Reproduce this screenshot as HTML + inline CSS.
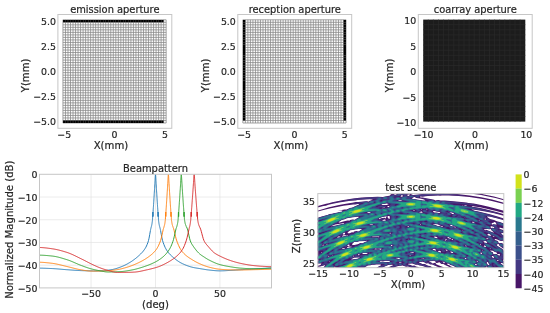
<!DOCTYPE html>
<html lang="en"><head><meta charset="utf-8"><title>apertures</title>
<style>html,body{margin:0;padding:0;background:#fff;overflow:hidden}svg{display:block}text{font-family:"DejaVu Sans","Liberation Sans",sans-serif;fill:#262626;stroke:#262626;stroke-width:0.2px}.t{font-size:9.4px}.l{font-size:10.1px}.h{font-size:9.9px}.m{text-anchor:middle}.e{text-anchor:end}</style></head><body>
<svg width="550" height="313" viewBox="0 0 550 313">
<rect width="550" height="313" fill="#fff"/>
<rect x="57.9" y="14.5" width="113.9" height="113.8" fill="none" stroke="#c6c6c6" stroke-width="1.0"/>
<text class="h m" x="114.85" y="12.5">emission aperture</text>
<text class="l m" x="110.95" y="148.8">X(mm)</text>
<text class="l m" transform="translate(29.3 75.4) rotate(-90)">Y(mm)</text>
<text class="t e" x="55.9" y="24.78">5.0</text>
<text class="t e" x="55.9" y="49.96">2.5</text>
<text class="t e" x="55.9" y="75.13">0.0</text>
<text class="t e" x="55.9" y="100.31">−2.5</text>
<text class="t e" x="55.9" y="125.48">−5.0</text>
<text class="t m" x="64.2" y="138">−5</text>
<text class="t m" x="114.55" y="138">0</text>
<text class="t m" x="164.9" y="138">5</text>
<rect x="62.95" y="19.8" width="103.2" height="103.2" fill="#fff"/>
<path d="M62.95 19.8V123M62.95 19.8H166.15M65.47 19.8V123M62.95 22.32H166.15M67.99 19.8V123M62.95 24.84H166.15M70.5 19.8V123M62.95 27.35H166.15M73.02 19.8V123M62.95 29.87H166.15M75.54 19.8V123M62.95 32.39H166.15M78.05 19.8V123M62.95 34.9H166.15M80.57 19.8V123M62.95 37.42H166.15M83.09 19.8V123M62.95 39.94H166.15M85.6 19.8V123M62.95 42.45H166.15M88.12 19.8V123M62.95 44.97H166.15M90.64 19.8V123M62.95 47.49H166.15M93.16 19.8V123M62.95 50.01H166.15M95.67 19.8V123M62.95 52.52H166.15M98.19 19.8V123M62.95 55.04H166.15M100.71 19.8V123M62.95 57.56H166.15M103.22 19.8V123M62.95 60.07H166.15M105.74 19.8V123M62.95 62.59H166.15M108.26 19.8V123M62.95 65.11H166.15M110.77 19.8V123M62.95 67.62H166.15M113.29 19.8V123M62.95 70.14H166.15M115.81 19.8V123M62.95 72.66H166.15M118.33 19.8V123M62.95 75.18H166.15M120.84 19.8V123M62.95 77.69H166.15M123.36 19.8V123M62.95 80.21H166.15M125.88 19.8V123M62.95 82.73H166.15M128.39 19.8V123M62.95 85.24H166.15M130.91 19.8V123M62.95 87.76H166.15M133.43 19.8V123M62.95 90.28H166.15M135.94 19.8V123M62.95 92.79H166.15M138.46 19.8V123M62.95 95.31H166.15M140.98 19.8V123M62.95 97.83H166.15M143.5 19.8V123M62.95 100.35H166.15M146.01 19.8V123M62.95 102.86H166.15M148.53 19.8V123M62.95 105.38H166.15M151.05 19.8V123M62.95 107.9H166.15M153.56 19.8V123M62.95 110.41H166.15M156.08 19.8V123M62.95 112.93H166.15M158.6 19.8V123M62.95 115.45H166.15M161.11 19.8V123M62.95 117.96H166.15M163.63 19.8V123M62.95 120.48H166.15M166.15 19.8V123M62.95 123H166.15" stroke="#8a8a8a" stroke-width="0.8" fill="none"/>
<path d="M63.05 19.9h2.32v2.32h-2.32zM65.57 19.9h2.32v2.32h-2.32zM68.09 19.9h2.32v2.32h-2.32zM70.6 19.9h2.32v2.32h-2.32zM73.12 19.9h2.32v2.32h-2.32zM75.64 19.9h2.32v2.32h-2.32zM78.15 19.9h2.32v2.32h-2.32zM80.67 19.9h2.32v2.32h-2.32zM83.19 19.9h2.32v2.32h-2.32zM85.7 19.9h2.32v2.32h-2.32zM88.22 19.9h2.32v2.32h-2.32zM90.74 19.9h2.32v2.32h-2.32zM93.26 19.9h2.32v2.32h-2.32zM95.77 19.9h2.32v2.32h-2.32zM98.29 19.9h2.32v2.32h-2.32zM100.81 19.9h2.32v2.32h-2.32zM103.32 19.9h2.32v2.32h-2.32zM105.84 19.9h2.32v2.32h-2.32zM108.36 19.9h2.32v2.32h-2.32zM110.87 19.9h2.32v2.32h-2.32zM113.39 19.9h2.32v2.32h-2.32zM115.91 19.9h2.32v2.32h-2.32zM118.43 19.9h2.32v2.32h-2.32zM120.94 19.9h2.32v2.32h-2.32zM123.46 19.9h2.32v2.32h-2.32zM125.98 19.9h2.32v2.32h-2.32zM128.49 19.9h2.32v2.32h-2.32zM131.01 19.9h2.32v2.32h-2.32zM133.53 19.9h2.32v2.32h-2.32zM136.04 19.9h2.32v2.32h-2.32zM138.56 19.9h2.32v2.32h-2.32zM141.08 19.9h2.32v2.32h-2.32zM143.6 19.9h2.32v2.32h-2.32zM146.11 19.9h2.32v2.32h-2.32zM148.63 19.9h2.32v2.32h-2.32zM151.15 19.9h2.32v2.32h-2.32zM153.66 19.9h2.32v2.32h-2.32zM156.18 19.9h2.32v2.32h-2.32zM158.7 19.9h2.32v2.32h-2.32zM161.21 19.9h2.32v2.32h-2.32zM63.05 120.58h2.32v2.32h-2.32zM65.57 120.58h2.32v2.32h-2.32zM68.09 120.58h2.32v2.32h-2.32zM70.6 120.58h2.32v2.32h-2.32zM73.12 120.58h2.32v2.32h-2.32zM75.64 120.58h2.32v2.32h-2.32zM78.15 120.58h2.32v2.32h-2.32zM80.67 120.58h2.32v2.32h-2.32zM83.19 120.58h2.32v2.32h-2.32zM85.7 120.58h2.32v2.32h-2.32zM88.22 120.58h2.32v2.32h-2.32zM90.74 120.58h2.32v2.32h-2.32zM93.26 120.58h2.32v2.32h-2.32zM95.77 120.58h2.32v2.32h-2.32zM98.29 120.58h2.32v2.32h-2.32zM100.81 120.58h2.32v2.32h-2.32zM103.32 120.58h2.32v2.32h-2.32zM105.84 120.58h2.32v2.32h-2.32zM108.36 120.58h2.32v2.32h-2.32zM110.87 120.58h2.32v2.32h-2.32zM113.39 120.58h2.32v2.32h-2.32zM115.91 120.58h2.32v2.32h-2.32zM118.43 120.58h2.32v2.32h-2.32zM120.94 120.58h2.32v2.32h-2.32zM123.46 120.58h2.32v2.32h-2.32zM125.98 120.58h2.32v2.32h-2.32zM128.49 120.58h2.32v2.32h-2.32zM131.01 120.58h2.32v2.32h-2.32zM133.53 120.58h2.32v2.32h-2.32zM136.04 120.58h2.32v2.32h-2.32zM138.56 120.58h2.32v2.32h-2.32zM141.08 120.58h2.32v2.32h-2.32zM143.6 120.58h2.32v2.32h-2.32zM146.11 120.58h2.32v2.32h-2.32zM148.63 120.58h2.32v2.32h-2.32zM151.15 120.58h2.32v2.32h-2.32zM153.66 120.58h2.32v2.32h-2.32zM156.18 120.58h2.32v2.32h-2.32zM158.7 120.58h2.32v2.32h-2.32zM161.21 120.58h2.32v2.32h-2.32z" fill="#000"/>
<rect x="237.8" y="14.5" width="113.9" height="113.8" fill="none" stroke="#c6c6c6" stroke-width="1.0"/>
<text class="h m" x="294.75" y="12.5">reception aperture</text>
<text class="l m" x="290.85" y="148.8">X(mm)</text>
<text class="l m" transform="translate(209.2 75.4) rotate(-90)">Y(mm)</text>
<text class="t e" x="235.8" y="24.78">5.0</text>
<text class="t e" x="235.8" y="49.96">2.5</text>
<text class="t e" x="235.8" y="75.13">0.0</text>
<text class="t e" x="235.8" y="100.31">−2.5</text>
<text class="t e" x="235.8" y="125.48">−5.0</text>
<text class="t m" x="244.1" y="138">−5</text>
<text class="t m" x="294.45" y="138">0</text>
<text class="t m" x="344.8" y="138">5</text>
<rect x="242.85" y="19.8" width="103.2" height="103.2" fill="#fff"/>
<path d="M242.85 19.8V123M242.85 19.8H346.05M245.37 19.8V123M242.85 22.32H346.05M247.89 19.8V123M242.85 24.84H346.05M250.4 19.8V123M242.85 27.35H346.05M252.92 19.8V123M242.85 29.87H346.05M255.44 19.8V123M242.85 32.39H346.05M257.95 19.8V123M242.85 34.9H346.05M260.47 19.8V123M242.85 37.42H346.05M262.99 19.8V123M242.85 39.94H346.05M265.5 19.8V123M242.85 42.45H346.05M268.02 19.8V123M242.85 44.97H346.05M270.54 19.8V123M242.85 47.49H346.05M273.06 19.8V123M242.85 50.01H346.05M275.57 19.8V123M242.85 52.52H346.05M278.09 19.8V123M242.85 55.04H346.05M280.61 19.8V123M242.85 57.56H346.05M283.12 19.8V123M242.85 60.07H346.05M285.64 19.8V123M242.85 62.59H346.05M288.16 19.8V123M242.85 65.11H346.05M290.67 19.8V123M242.85 67.62H346.05M293.19 19.8V123M242.85 70.14H346.05M295.71 19.8V123M242.85 72.66H346.05M298.23 19.8V123M242.85 75.18H346.05M300.74 19.8V123M242.85 77.69H346.05M303.26 19.8V123M242.85 80.21H346.05M305.78 19.8V123M242.85 82.73H346.05M308.29 19.8V123M242.85 85.24H346.05M310.81 19.8V123M242.85 87.76H346.05M313.33 19.8V123M242.85 90.28H346.05M315.84 19.8V123M242.85 92.79H346.05M318.36 19.8V123M242.85 95.31H346.05M320.88 19.8V123M242.85 97.83H346.05M323.4 19.8V123M242.85 100.35H346.05M325.91 19.8V123M242.85 102.86H346.05M328.43 19.8V123M242.85 105.38H346.05M330.95 19.8V123M242.85 107.9H346.05M333.46 19.8V123M242.85 110.41H346.05M335.98 19.8V123M242.85 112.93H346.05M338.5 19.8V123M242.85 115.45H346.05M341.01 19.8V123M242.85 117.96H346.05M343.53 19.8V123M242.85 120.48H346.05M346.05 19.8V123M242.85 123H346.05" stroke="#8a8a8a" stroke-width="0.8" fill="none"/>
<path d="M242.95 19.9h2.32v2.32h-2.32zM242.95 22.42h2.32v2.32h-2.32zM242.95 24.94h2.32v2.32h-2.32zM242.95 27.45h2.32v2.32h-2.32zM242.95 29.97h2.32v2.32h-2.32zM242.95 32.49h2.32v2.32h-2.32zM242.95 35h2.32v2.32h-2.32zM242.95 37.52h2.32v2.32h-2.32zM242.95 40.04h2.32v2.32h-2.32zM242.95 42.55h2.32v2.32h-2.32zM242.95 45.07h2.32v2.32h-2.32zM242.95 47.59h2.32v2.32h-2.32zM242.95 50.11h2.32v2.32h-2.32zM242.95 52.62h2.32v2.32h-2.32zM242.95 55.14h2.32v2.32h-2.32zM242.95 57.66h2.32v2.32h-2.32zM242.95 60.17h2.32v2.32h-2.32zM242.95 62.69h2.32v2.32h-2.32zM242.95 65.21h2.32v2.32h-2.32zM242.95 67.72h2.32v2.32h-2.32zM242.95 70.24h2.32v2.32h-2.32zM242.95 72.76h2.32v2.32h-2.32zM242.95 75.28h2.32v2.32h-2.32zM242.95 77.79h2.32v2.32h-2.32zM242.95 80.31h2.32v2.32h-2.32zM242.95 82.83h2.32v2.32h-2.32zM242.95 85.34h2.32v2.32h-2.32zM242.95 87.86h2.32v2.32h-2.32zM242.95 90.38h2.32v2.32h-2.32zM242.95 92.89h2.32v2.32h-2.32zM242.95 95.41h2.32v2.32h-2.32zM242.95 97.93h2.32v2.32h-2.32zM242.95 100.45h2.32v2.32h-2.32zM242.95 102.96h2.32v2.32h-2.32zM242.95 105.48h2.32v2.32h-2.32zM242.95 108h2.32v2.32h-2.32zM242.95 110.51h2.32v2.32h-2.32zM242.95 113.03h2.32v2.32h-2.32zM242.95 115.55h2.32v2.32h-2.32zM242.95 118.06h2.32v2.32h-2.32zM343.63 19.9h2.32v2.32h-2.32zM343.63 22.42h2.32v2.32h-2.32zM343.63 24.94h2.32v2.32h-2.32zM343.63 27.45h2.32v2.32h-2.32zM343.63 29.97h2.32v2.32h-2.32zM343.63 32.49h2.32v2.32h-2.32zM343.63 35h2.32v2.32h-2.32zM343.63 37.52h2.32v2.32h-2.32zM343.63 40.04h2.32v2.32h-2.32zM343.63 42.55h2.32v2.32h-2.32zM343.63 45.07h2.32v2.32h-2.32zM343.63 47.59h2.32v2.32h-2.32zM343.63 50.11h2.32v2.32h-2.32zM343.63 52.62h2.32v2.32h-2.32zM343.63 55.14h2.32v2.32h-2.32zM343.63 57.66h2.32v2.32h-2.32zM343.63 60.17h2.32v2.32h-2.32zM343.63 62.69h2.32v2.32h-2.32zM343.63 65.21h2.32v2.32h-2.32zM343.63 67.72h2.32v2.32h-2.32zM343.63 70.24h2.32v2.32h-2.32zM343.63 72.76h2.32v2.32h-2.32zM343.63 75.28h2.32v2.32h-2.32zM343.63 77.79h2.32v2.32h-2.32zM343.63 80.31h2.32v2.32h-2.32zM343.63 82.83h2.32v2.32h-2.32zM343.63 85.34h2.32v2.32h-2.32zM343.63 87.86h2.32v2.32h-2.32zM343.63 90.38h2.32v2.32h-2.32zM343.63 92.89h2.32v2.32h-2.32zM343.63 95.41h2.32v2.32h-2.32zM343.63 97.93h2.32v2.32h-2.32zM343.63 100.45h2.32v2.32h-2.32zM343.63 102.96h2.32v2.32h-2.32zM343.63 105.48h2.32v2.32h-2.32zM343.63 108h2.32v2.32h-2.32zM343.63 110.51h2.32v2.32h-2.32zM343.63 113.03h2.32v2.32h-2.32zM343.63 115.55h2.32v2.32h-2.32zM343.63 118.06h2.32v2.32h-2.32z" fill="#000"/>
<rect x="418.3" y="14.5" width="113.9" height="113.8" fill="none" stroke="#c6c6c6" stroke-width="1.0"/>
<text class="h m" x="475.25" y="12.5">coarray aperture</text>
<text class="l m" x="471.35" y="148.8">X(mm)</text>
<text class="l m" transform="translate(392.7 75.4) rotate(-90)">Y(mm)</text>
<text class="t e" x="416.3" y="24.13">10</text>
<text class="t e" x="416.3" y="49.63">5</text>
<text class="t e" x="416.3" y="75.13">0</text>
<text class="t e" x="416.3" y="100.63">−5</text>
<text class="t e" x="416.3" y="126.13">−10</text>
<text class="t m" x="423.55" y="138">−10</text>
<text class="t m" x="474.95" y="138">0</text>
<text class="t m" x="526.35" y="138">10</text>
<rect x="423.2" y="19.6" width="102.1" height="102" fill="#1c1c1c"/>
<path d="M428.3 19.6V121.6M423.2 24.7H525.3M433.4 19.6V121.6M423.2 29.8H525.3M438.5 19.6V121.6M423.2 34.9H525.3M443.6 19.6V121.6M423.2 40H525.3M448.7 19.6V121.6M423.2 45.1H525.3M453.8 19.6V121.6M423.2 50.2H525.3M458.9 19.6V121.6M423.2 55.3H525.3M464 19.6V121.6M423.2 60.4H525.3M469.1 19.6V121.6M423.2 65.5H525.3M474.2 19.6V121.6M423.2 70.6H525.3M479.3 19.6V121.6M423.2 75.7H525.3M484.4 19.6V121.6M423.2 80.8H525.3M489.5 19.6V121.6M423.2 85.9H525.3M494.6 19.6V121.6M423.2 91H525.3M499.7 19.6V121.6M423.2 96.1H525.3M504.8 19.6V121.6M423.2 101.2H525.3M509.9 19.6V121.6M423.2 106.3H525.3M515 19.6V121.6M423.2 111.4H525.3M520.1 19.6V121.6M423.2 116.5H525.3" stroke="#2a2a2a" stroke-width="0.7" fill="none"/>
<path d="M91.06 174.3V287.9M155.5 174.3V287.9M219.94 174.3V287.9M39.5 197.02H271.5M39.5 219.74H271.5M39.5 242.46H271.5M39.5 265.18H271.5" stroke="#e0e0e0" stroke-width="0.65" fill="none"/>
<clipPath id="bc"><rect x="39.5" y="173.3" width="232" height="114.6"/></clipPath>
<g clip-path="url(#bc)" fill="none" stroke-width="0.95" stroke-linejoin="round">
<path d="M39.5 268.13L40.14 268.14L40.79 268.16L41.43 268.17L42.08 268.18L42.72 268.2L43.37 268.22L44.01 268.24L44.66 268.26L45.3 268.28L45.94 268.3L46.59 268.33L47.23 268.35L47.88 268.38L48.52 268.41L49.17 268.43L49.81 268.46L50.46 268.49L51.1 268.52L51.74 268.55L52.39 268.58L52.52 268.59L53.03 268.61L53.68 268.65L54.32 268.69L54.97 268.73L55.61 268.78L56.26 268.82L56.9 268.87L57.54 268.93L58.19 268.98L58.83 269.03L59.48 269.09L60.12 269.15L60.77 269.2L61.41 269.26L62.06 269.32L62.7 269.37L63.34 269.43L63.99 269.48L64.63 269.54L65.28 269.59L65.92 269.64L66.57 269.69L67.08 269.72L67.21 269.73L67.86 269.78L68.5 269.82L69.14 269.87L69.79 269.92L70.43 269.96L71.08 270.01L71.72 270.06L72.37 270.1L73.01 270.15L73.66 270.19L74.3 270.24L74.94 270.28L75.59 270.32L76.23 270.37L76.88 270.4L77.52 270.44L78.17 270.48L78.81 270.51L79.46 270.54L80.1 270.57L80.74 270.6L81.39 270.62L81.65 270.63L82.03 270.65L82.68 270.67L83.32 270.68L83.97 270.7L84.61 270.72L85.26 270.73L85.9 270.75L86.54 270.76L87.19 270.77L87.83 270.79L88.48 270.8L89.12 270.81L89.77 270.83L90.41 270.84L91.06 270.86L91.7 270.88L92.34 270.9L92.99 270.93L93.63 270.95L94.28 270.97L94.92 270.97L95.05 270.97L95.57 270.97L96.21 270.96L96.86 270.95L97.5 270.94L98.14 270.92L98.79 270.89L99.43 270.87L100.08 270.84L100.72 270.8L101.37 270.77L102.01 270.73L102.66 270.69L103.3 270.66L103.69 270.63L103.94 270.62L104.59 270.57L105.23 270.52L105.88 270.46L106.52 270.39L107.17 270.31L107.81 270.23L108.46 270.15L109.1 270.05L109.74 269.96L110.39 269.85L111.03 269.75L111.68 269.64L112.32 269.52L112.45 269.5L112.97 269.4L113.61 269.26L114.26 269.1L114.9 268.93L115.54 268.75L116.19 268.56L116.83 268.35L117.48 268.14L118.12 267.92L118.77 267.69L119.41 267.45L120.06 267.21L120.7 266.97L121.22 266.77L121.34 266.72L121.99 266.46L122.63 266.2L123.28 265.92L123.92 265.62L124.57 265.32L125.21 265.01L125.86 264.68L126.5 264.35L127.14 264L127.79 263.65L128.43 263.28L129.08 262.91L129.72 262.53L129.85 262.45L130.37 262.14L131.01 261.74L131.66 261.32L132.3 260.89L132.94 260.44L133.59 259.98L134.23 259.5L134.88 259.01L135.52 258.51L136.17 257.99L136.81 257.45L137.46 256.9L138.1 256.33L138.62 255.86L138.74 255.75L139.39 255.16L140.03 254.55L140.68 253.93L141.32 253.29L141.97 252.61L142.61 251.88L143.26 251.1L143.9 250.26L144.54 249.35L145.19 248.37L145.83 247.27L146.48 246L147.12 244.53L147.77 242.83L148.41 240.86L148.48 240.64L149.06 238.2L149.7 234.68L150.34 231L150.4 230.72L150.45 230.44L150.5 230.17L150.54 229.96L150.55 229.9L150.6 229.64L150.65 229.39L150.71 229.15L150.76 228.93L150.81 228.71L150.86 228.49L150.91 228.29L150.96 228.08L150.99 227.99L151.01 227.89L151.07 227.69L151.12 227.5L151.17 227.31L151.22 227.12L151.27 226.93L151.32 226.74L151.38 226.55L151.43 226.35L151.48 226.15L151.53 225.94L151.58 225.72L151.63 225.5L151.68 225.27L151.74 225.03L151.79 224.78L151.84 224.52L151.89 224.25L151.94 223.96L151.99 223.66L152.05 223.34L152.1 223.01L152.15 222.66L152.2 222.29L152.25 221.91L152.28 221.71L152.3 221.5L152.36 221.07L152.41 220.62L152.46 220.15L152.5 219.74L152.51 219.64L152.56 218.74L152.61 217.4L152.66 215.86L152.72 214.34L152.77 213.05L152.82 212.21L152.86 212.02L152.87 212.15L152.92 213.95L152.97 216.08L153 216.56L153.03 216.17L153.08 213.43L153.12 211.33L153.13 211.17L153.18 210.15L153.23 209.37L153.28 208.71L153.33 208.04L153.36 207.7L153.39 207.26L153.44 206.47L153.49 205.67L153.54 204.87L153.57 204.47L153.59 204.08L153.64 203.28L153.7 202.48L153.75 201.68L153.8 200.87L153.85 200.07L153.9 199.26L153.95 198.45L154 197.64L154.02 197.47L154.06 196.83L154.11 196.02L154.16 195.21L154.21 194.4L154.26 193.58L154.31 192.77L154.37 191.94L154.42 191.12L154.47 190.29L154.52 189.45L154.57 188.61L154.6 188.16L154.62 187.75L154.68 186.89L154.73 186.02L154.78 185.14L154.83 184.26L154.86 183.81L154.88 183.37L154.93 182.47L154.98 181.57L155.04 180.67L155.05 180.43L155.09 179.73L155.14 178.72L155.19 177.73L155.24 176.85L155.28 176.34L155.29 176.16L155.35 175.5L155.4 174.9L155.45 174.47L155.5 174.3L155.55 174.47L155.6 174.9L155.65 175.5L155.71 176.16L155.72 176.34L155.76 176.85L155.81 177.73L155.86 178.72L155.91 179.73L155.95 180.43L155.96 180.67L156.02 181.57L156.07 182.47L156.12 183.37L156.14 183.81L156.17 184.26L156.22 185.14L156.27 186.02L156.32 186.89L156.38 187.75L156.4 188.16L156.43 188.61L156.48 189.45L156.53 190.29L156.58 191.12L156.63 191.94L156.69 192.77L156.74 193.58L156.79 194.4L156.84 195.21L156.89 196.02L156.94 196.83L156.98 197.47L157 197.64L157.05 198.45L157.1 199.26L157.15 200.07L157.2 200.87L157.25 201.68L157.3 202.48L157.36 203.28L157.41 204.08L157.43 204.47L157.46 204.87L157.51 205.67L157.56 206.47L157.61 207.26L157.64 207.7L157.67 208.04L157.72 208.71L157.77 209.37L157.82 210.15L157.87 211.17L157.88 211.33L157.92 213.43L157.97 216.17L158 216.56L158.03 216.08L158.08 213.95L158.13 212.15L158.14 212.02L158.18 212.21L158.23 213.05L158.28 214.34L158.34 215.86L158.39 217.4L158.44 218.74L158.49 219.64L158.5 219.74L158.54 220.15L158.59 220.62L158.64 221.07L158.7 221.5L158.72 221.71L158.75 221.91L158.8 222.3L158.85 222.67L158.9 223.02L158.95 223.35L159.01 223.67L159.06 223.97L159.11 224.26L159.16 224.53L159.21 224.8L159.26 225.05L159.32 225.29L159.37 225.52L159.42 225.74L159.47 225.96L159.52 226.17L159.57 226.37L159.62 226.57L159.68 226.76L159.73 226.95L159.78 227.14L159.83 227.33L159.88 227.52L159.93 227.72L159.99 227.91L160.01 228.01L160.04 228.1L160.09 228.3L160.14 228.51L160.19 228.72L160.24 228.94L160.29 229.16L160.35 229.4L160.4 229.64L160.45 229.9L160.46 229.96L160.5 230.16L160.55 230.43L160.6 230.7L160.66 230.98L161.3 234.55L161.94 237.96L162.59 240.64L163.23 242.64L163.88 244.43L164.52 246.03L165.17 247.45L165.81 248.71L166.46 249.83L166.97 250.64L167.1 250.83L167.74 251.74L168.39 252.58L169.03 253.36L169.68 254.09L170.32 254.77L170.97 255.4L171.61 256.01L172.26 256.58L172.9 257.14L173.54 257.68L174.19 258.22L174.83 258.74L175.48 259.24L176.12 259.74L176.77 260.22L177.41 260.68L178.06 261.12L178.7 261.55L179.34 261.96L179.99 262.35L180.63 262.72L181.28 263.07L181.92 263.4L182.31 263.59L182.57 263.71L183.21 264.01L183.86 264.3L184.5 264.58L185.14 264.85L185.79 265.12L186.43 265.37L187.08 265.62L187.72 265.86L188.37 266.08L189.01 266.3L189.66 266.51L190.3 266.71L190.94 266.9L191.59 267.07L192.23 267.24L192.88 267.39L193.14 267.45L193.52 267.54L194.17 267.67L194.81 267.79L195.46 267.9L196.1 268.01L196.74 268.11L197.39 268.21L198.03 268.31L198.68 268.4L199.32 268.51L199.84 268.59L199.97 268.61L200.61 268.72L201.26 268.83L201.9 268.94L202.54 269.05L203.19 269.16L203.83 269.28L204.48 269.38L205.12 269.49L205.77 269.59L206.41 269.69L207.06 269.78L207.7 269.86L208.34 269.94L208.47 269.95L208.99 270.01L209.63 270.08L210.28 270.15L210.92 270.22L211.57 270.29L212.21 270.36L212.86 270.43L213.5 270.49L214.14 270.55L214.79 270.61L215.43 270.66L216.08 270.71L216.72 270.75L217.37 270.79L218.01 270.82L218.66 270.84L219.3 270.86L219.94 270.86L220.59 270.86L221.23 270.85L221.88 270.83L222.52 270.82L223.17 270.79L223.81 270.77L224.46 270.74L225.1 270.71L225.74 270.67L226.39 270.63L227.03 270.6L227.68 270.56L228.32 270.52L228.97 270.48L229.61 270.45L230.26 270.41L230.38 270.41L230.9 270.38L231.54 270.34L232.19 270.3L232.83 270.26L233.48 270.22L234.12 270.17L234.77 270.13L235.41 270.08L236.06 270.04L236.7 269.99L237.34 269.94L237.99 269.9L238.63 269.85L239.28 269.81L239.92 269.77L240.57 269.72L241.21 269.68L241.86 269.64L242.5 269.61L243.14 269.57L243.79 269.53L244.43 269.49L245.08 269.45L245.72 269.41L246.37 269.38L247.01 269.34L247.66 269.3L248.3 269.27L248.94 269.23L249.59 269.19L250.23 269.15L250.88 269.12L251.52 269.08L252.17 269.04L252.81 269L253.46 268.97L254.1 268.93L254.74 268.89L255.39 268.85L256.03 268.82L256.68 268.78L257.32 268.74L257.97 268.7L258.61 268.66L259.26 268.63L259.9 268.59L260.54 268.55L261.19 268.51L261.83 268.47L262.48 268.44L263.12 268.4L263.77 268.36L264.41 268.32L265.06 268.29L265.7 268.25L266.34 268.21L266.99 268.17L267.63 268.13L268.28 268.1L268.92 268.06L269.57 268.02L270.21 267.98L270.86 267.94L271.5 267.91" stroke="#1f77b4"/>
<path d="M39.5 262.23L40.14 262.25L40.79 262.27L41.43 262.3L42.08 262.33L42.72 262.37L43.37 262.42L44.01 262.46L44.66 262.51L45.3 262.57L45.94 262.63L46.59 262.69L47.23 262.75L47.88 262.82L48.52 262.89L49.17 262.96L49.81 263.04L50.46 263.11L51.1 263.19L51.74 263.27L52.39 263.35L52.52 263.36L53.03 263.43L53.68 263.52L54.32 263.62L54.97 263.73L55.61 263.85L56.26 263.98L56.9 264.11L57.54 264.25L58.19 264.39L58.83 264.54L59.48 264.69L60.12 264.84L60.77 265L61.41 265.16L62.06 265.32L62.7 265.48L63.34 265.64L63.99 265.8L64.63 265.96L65.28 266.12L65.92 266.27L66.57 266.43L67.08 266.54L67.21 266.57L67.86 266.72L68.5 266.88L69.14 267.03L69.79 267.19L70.43 267.36L71.08 267.52L71.72 267.69L72.37 267.86L73.01 268.03L73.66 268.19L74.3 268.36L74.94 268.52L75.59 268.68L76.23 268.84L76.88 269L77.52 269.15L78.17 269.29L78.81 269.43L79.46 269.56L80.1 269.68L80.74 269.8L81.39 269.91L81.65 269.95L82.03 270.01L82.68 270.12L83.32 270.22L83.97 270.33L84.61 270.44L85.26 270.54L85.9 270.64L86.54 270.73L87.19 270.82L87.83 270.89L88.48 270.96L89.12 271.01L89.77 271.05L90.41 271.08L91.06 271.09L91.7 271.09L92.34 271.09L92.99 271.09L93.63 271.09L94.28 271.09L94.92 271.09L95.05 271.09L95.57 271.09L96.21 271.08L96.86 271.08L97.5 271.07L98.14 271.06L98.79 271.05L99.43 271.04L100.08 271.03L100.72 271.01L101.37 271L102.01 270.98L102.66 270.96L103.3 270.94L103.94 270.92L104.59 270.9L105.23 270.88L105.88 270.86L106.52 270.83L107.17 270.8L107.81 270.76L108.46 270.72L109.1 270.66L109.74 270.61L110.39 270.55L111.03 270.48L111.68 270.41L112.32 270.33L112.97 270.25L113.61 270.17L114.26 270.09L114.9 270L115.54 269.91L116.19 269.82L116.83 269.72L117.48 269.62L118.12 269.51L118.77 269.39L119.41 269.26L120.06 269.13L120.7 268.98L121.34 268.82L121.99 268.66L122.63 268.5L123.28 268.32L123.92 268.14L124.57 267.96L125.21 267.77L125.86 267.58L126.5 267.39L127.14 267.19L127.79 267L128.43 266.8L129.08 266.59L129.72 266.37L130.37 266.15L131.01 265.91L131.66 265.67L132.3 265.43L132.94 265.18L133.59 264.92L134.23 264.65L134.88 264.38L135.52 264.1L136.17 263.81L136.81 263.52L137.46 263.23L138.1 262.93L138.62 262.68L138.74 262.62L139.39 262.31L140.03 261.98L140.68 261.66L141.32 261.32L141.97 260.97L142.61 260.62L143.26 260.26L143.9 259.88L144.54 259.5L145.19 259.1L145.83 258.7L146.48 258.28L147.12 257.85L147.77 257.41L148.41 256.95L149.06 256.48L149.57 256.09L149.7 255.99L150.34 255.5L150.99 254.99L151.63 254.46L152.28 253.9L152.92 253.31L153.57 252.68L154.21 252L154.86 251.28L155.5 250.5L156.09 249.73L156.14 249.66L156.79 248.73L157.43 247.67L158.08 246.49L158.72 245.17L159.37 243.7L160.01 242.09L160.46 240.87L160.66 240.3L161.3 237.97L161.94 235.21L162.59 232.27L163.1 229.96L163.23 229.43L163.28 229.23L163.34 229.04L163.39 228.86L163.44 228.68L163.49 228.5L163.54 228.33L163.59 228.17L163.65 228L163.7 227.84L163.75 227.68L163.8 227.52L163.85 227.36L163.88 227.28L163.9 227.2L163.96 227.04L164.01 226.88L164.06 226.72L164.11 226.55L164.16 226.38L164.21 226.2L164.26 226.02L164.32 225.83L164.37 225.64L164.42 225.43L164.47 225.23L164.52 225.01L164.57 224.78L164.63 224.54L164.68 224.3L164.73 224.04L164.78 223.77L164.83 223.48L164.88 223.19L164.93 222.88L164.99 222.55L165.04 222.21L165.09 221.85L165.14 221.48L165.17 221.29L165.19 221.09L165.24 220.68L165.3 220.25L165.35 219.81L165.35 219.74L165.4 219.11L165.45 217.92L165.5 216.44L165.55 214.89L165.6 213.49L165.66 212.46L165.71 212.02L165.71 212.02L165.76 213.09L165.81 215.36L165.86 216.56L165.86 216.56L165.91 214.71L165.97 211.84L165.98 211.33L166.02 210.55L166.07 209.69L166.12 209L166.17 208.36L166.22 207.7L166.22 207.64L166.28 206.85L166.33 206.06L166.38 205.27L166.43 204.48L166.46 204.09L166.48 203.69L166.53 202.9L166.58 202.11L166.64 201.32L166.69 200.52L166.74 199.73L166.79 198.93L166.84 198.13L166.88 197.47L166.89 197.33L166.95 196.52L167 195.72L167.05 194.92L167.1 194.12L167.15 193.31L167.2 192.51L167.25 191.69L167.31 190.88L167.36 190.05L167.41 189.23L167.46 188.39L167.48 188.16L167.51 187.55L167.56 186.69L167.62 185.83L167.67 184.96L167.72 184.09L167.74 183.65L167.77 183.21L167.82 182.33L167.87 181.44L167.92 180.55L167.93 180.43L167.98 179.62L168.03 178.62L168.08 177.64L168.13 176.79L168.16 176.34L168.18 176.12L168.23 175.47L168.29 174.89L168.34 174.46L168.39 174.3L168.44 174.46L168.49 174.89L168.54 175.47L168.6 176.12L168.61 176.34L168.65 176.79L168.7 177.64L168.75 178.61L168.8 179.61L168.85 180.43L168.85 180.54L168.9 181.43L168.96 182.32L169.01 183.2L169.03 183.64L169.06 184.07L169.11 184.94L169.16 185.81L169.21 186.67L169.27 187.52L169.3 188.16L169.32 188.36L169.37 189.19L169.42 190.01L169.47 190.83L169.52 191.65L169.57 192.45L169.63 193.26L169.68 194.06L169.73 194.85L169.78 195.65L169.83 196.45L169.88 197.24L169.9 197.47L169.94 198.04L169.99 198.83L170.04 199.63L170.09 200.42L170.14 201.2L170.19 201.99L170.24 202.78L170.3 203.56L170.32 203.95L170.35 204.34L170.4 205.12L170.45 205.91L170.5 206.69L170.55 207.47L170.57 207.7L170.61 208.21L170.66 208.85L170.71 209.51L170.76 210.3L170.81 211.33L170.81 211.36L170.86 213.84L170.92 216.34L170.93 216.56L170.97 215.94L171.02 213.79L171.07 212.11L171.08 212.02L171.12 212.23L171.17 213.07L171.22 214.36L171.28 215.87L171.33 217.39L171.38 218.7L171.43 219.59L171.45 219.74L171.48 220.04L171.53 220.43L171.59 220.82L171.61 221L171.64 221.18L171.69 221.54L171.74 221.87L171.79 222.2L171.84 222.51L171.89 222.8L171.95 223.09L172 223.36L172.05 223.62L172.1 223.87L172.15 224.11L172.2 224.33L172.26 224.55L172.31 224.76L172.36 224.96L172.41 225.16L172.46 225.34L172.51 225.52L172.56 225.69L172.62 225.86L172.67 226.02L172.72 226.18L172.77 226.33L172.82 226.48L172.87 226.62L172.9 226.69L172.93 226.76L172.98 226.9L173.03 227.04L173.08 227.18L173.13 227.31L173.18 227.45L173.24 227.59L173.29 227.72L173.34 227.86L173.39 228L173.44 228.14L173.49 228.29L173.54 228.44L174 229.96L174.19 230.75L174.83 233.49L175.48 236.26L176.12 238.8L176.77 240.87L177.41 242.57L178.06 244.16L178.7 245.64L179.34 247.01L179.99 248.26L180.63 249.39L181.28 250.41L181.92 251.3L182.31 251.78L182.57 252.07L183.21 252.79L183.86 253.47L184.5 254.1L185.14 254.7L185.79 255.27L186.43 255.8L187.08 256.31L187.72 256.79L188.37 257.26L189.01 257.7L189.66 258.13L190.3 258.54L190.94 258.95L191.59 259.34L192.23 259.74L192.88 260.13L193.52 260.52L194.17 260.91L194.81 261.29L195.46 261.65L196.1 262L196.74 262.34L197.39 262.67L198.03 262.99L198.68 263.29L199.32 263.59L199.84 263.82L199.97 263.87L200.61 264.15L201.26 264.43L201.9 264.7L202.54 264.96L203.19 265.22L203.83 265.47L204.48 265.72L205.12 265.95L205.77 266.18L206.41 266.39L207.06 266.59L207.7 266.79L208.34 266.96L208.47 267L208.99 267.13L209.63 267.3L210.28 267.46L210.92 267.63L211.57 267.78L212.21 267.94L212.86 268.09L213.5 268.23L214.14 268.37L214.79 268.51L215.43 268.63L216.08 268.75L216.72 268.86L217.37 268.96L218.01 269.06L218.66 269.14L219.3 269.21L219.94 269.27L220.59 269.32L221.23 269.37L221.88 269.42L222.52 269.47L223.17 269.52L223.81 269.56L224.46 269.6L225.1 269.64L225.74 269.67L226.39 269.7L227.03 269.73L227.68 269.76L228.32 269.78L228.97 269.8L229.61 269.82L230.26 269.84L230.38 269.84L230.9 269.85L231.54 269.86L232.19 269.87L232.83 269.88L233.48 269.89L234.12 269.9L234.77 269.91L235.41 269.92L236.06 269.92L236.7 269.93L237.34 269.94L237.99 269.94L238.63 269.95L239.28 269.95L239.92 269.95L240.57 269.95L241.21 269.95L241.86 269.95L242.5 269.94L243.14 269.93L243.79 269.92L244.43 269.91L245.08 269.9L245.72 269.88L246.37 269.87L247.01 269.85L247.66 269.84L248.3 269.82L248.94 269.8L249.59 269.79L250.23 269.77L250.88 269.75L251.52 269.74L252.17 269.72L252.81 269.71L253.46 269.7L254.1 269.68L254.74 269.67L255.39 269.65L256.03 269.64L256.68 269.63L257.32 269.61L257.97 269.6L258.61 269.58L259.26 269.57L259.9 269.55L260.54 269.54L261.19 269.52L261.83 269.51L262.48 269.49L263.12 269.48L263.77 269.46L264.41 269.45L265.06 269.43L265.7 269.42L266.34 269.4L266.99 269.38L267.63 269.37L268.28 269.35L268.92 269.34L269.57 269.32L270.21 269.3L270.86 269.29L271.5 269.27" stroke="#ff7f0e"/>
<path d="M39.5 255.18L40.14 255.19L40.79 255.2L41.43 255.21L42.08 255.23L42.72 255.26L43.37 255.29L44.01 255.32L44.66 255.36L45.3 255.41L45.94 255.46L46.59 255.51L47.23 255.56L47.88 255.62L48.52 255.68L49.17 255.74L49.81 255.81L50.46 255.87L51.1 255.94L51.74 256.01L52.39 256.08L52.52 256.09L53.03 256.15L53.68 256.24L54.32 256.33L54.97 256.44L55.61 256.56L56.26 256.69L56.9 256.83L57.54 256.97L58.19 257.13L58.83 257.29L59.48 257.46L60.12 257.63L60.77 257.81L61.41 258L62.06 258.18L62.7 258.38L63.34 258.57L63.99 258.77L64.63 258.97L65.28 259.17L65.92 259.37L66.57 259.57L67.08 259.73L67.21 259.77L67.86 259.98L68.5 260.2L69.14 260.43L69.79 260.67L70.43 260.92L71.08 261.18L71.72 261.44L72.37 261.71L73.01 261.99L73.66 262.27L74.3 262.55L74.94 262.83L75.59 263.12L76.23 263.4L76.88 263.68L77.52 263.96L78.17 264.24L78.81 264.51L79.46 264.78L80.1 265.04L80.74 265.29L81.39 265.54L81.65 265.63L82.03 265.78L82.68 266.01L83.32 266.25L83.97 266.49L84.61 266.72L85.26 266.95L85.9 267.18L86.54 267.4L87.19 267.63L87.83 267.84L88.48 268.05L89.12 268.25L89.77 268.45L90.41 268.64L91.06 268.82L91.7 268.99L92.34 269.16L92.99 269.32L93.63 269.48L94.28 269.63L94.92 269.78L95.57 269.93L96.21 270.07L96.86 270.21L97.5 270.34L98.14 270.46L98.79 270.59L99.05 270.63L99.43 270.7L100.08 270.83L100.72 270.96L101.37 271.09L102.01 271.22L102.66 271.35L103.3 271.47L103.94 271.59L104.59 271.69L105.23 271.79L105.88 271.87L106.52 271.93L107.17 271.97L107.81 271.99L108.07 272L108.46 272L109.1 271.99L109.74 271.99L110.39 271.98L111.03 271.97L111.68 271.95L112.32 271.94L112.97 271.92L113.61 271.9L114.26 271.88L114.9 271.85L115.54 271.83L116.19 271.8L116.83 271.77L117.48 271.74L118.12 271.71L118.77 271.68L119.41 271.64L120.06 271.61L120.7 271.57L121.22 271.54L121.34 271.53L121.99 271.49L122.63 271.44L123.28 271.37L123.92 271.3L124.57 271.22L125.21 271.14L125.86 271.05L126.5 270.95L127.14 270.84L127.79 270.73L128.43 270.62L129.08 270.51L129.72 270.39L130.37 270.27L131.01 270.15L131.66 270.02L132.04 269.95L132.3 269.9L132.94 269.77L133.59 269.63L134.23 269.49L134.88 269.34L135.52 269.18L136.17 269.02L136.81 268.85L137.46 268.67L138.1 268.49L138.74 268.31L139.39 268.12L140.03 267.92L140.68 267.73L141.32 267.53L141.97 267.33L142.61 267.12L143 267L143.26 266.91L143.9 266.7L144.54 266.49L145.19 266.27L145.83 266.05L146.48 265.82L147.12 265.58L147.77 265.34L148.41 265.1L149.06 264.84L149.7 264.58L150.34 264.32L150.99 264.04L151.63 263.76L152.28 263.47L152.92 263.17L153.57 262.87L153.95 262.68L154.21 262.55L154.86 262.23L155.5 261.9L156.14 261.55L156.79 261.19L157.43 260.82L158.08 260.43L158.72 260.03L159.37 259.61L160.01 259.18L160.66 258.72L161.3 258.24L161.94 257.75L162.59 257.23L163.23 256.68L163.88 256.11L164.52 255.49L165.17 254.84L165.81 254.15L166.46 253.41L167.1 252.63L167.74 251.79L168.39 250.89L169.03 249.93L169.16 249.73L169.68 248.88L170.32 247.7L170.97 246.37L171.61 244.89L172.26 243.26L172.9 241.47L173.11 240.87L173.54 239.41L174.19 236.84L174.83 233.98L175.48 231.08L175.74 229.96L176.12 228.54L176.17 228.38L176.23 228.22L176.28 228.06L176.33 227.9L176.38 227.75L176.43 227.6L176.48 227.45L176.53 227.3L176.59 227.15L176.64 227L176.69 226.84L176.74 226.69L176.77 226.61L176.79 226.53L176.84 226.37L176.9 226.21L176.95 226.04L177 225.86L177.05 225.68L177.1 225.5L177.15 225.31L177.2 225.11L177.26 224.9L177.31 224.68L177.36 224.45L177.41 224.22L177.46 223.97L177.51 223.72L177.57 223.45L177.62 223.17L177.67 222.87L177.72 222.56L177.77 222.24L177.82 221.91L177.88 221.56L177.93 221.19L177.98 220.81L178.03 220.41L178.06 220.2L178.08 219.99L178.11 219.74L178.13 219.5L178.18 218.55L178.24 217.24L178.29 215.76L178.34 214.3L178.39 213.06L178.44 212.24L178.48 212.02L178.49 212.08L178.55 213.63L178.6 215.77L178.64 216.56L178.65 216.48L178.7 214.32L178.75 211.65L178.76 211.33L178.8 210.5L178.85 209.68L178.91 209.02L178.96 208.4L179.01 207.72L179.01 207.7L179.06 206.97L179.11 206.21L179.16 205.45L179.22 204.7L179.27 203.94L179.32 203.18L179.34 202.8L179.37 202.42L179.42 201.66L179.47 200.9L179.52 200.14L179.58 199.37L179.63 198.61L179.68 197.84L179.7 197.47L179.73 197.07L179.78 196.3L179.83 195.54L179.89 194.77L179.94 194L179.99 193.23L180.04 192.46L180.09 191.68L180.14 190.9L180.2 190.11L180.25 189.32L180.3 188.52L180.32 188.16L180.35 187.71L180.4 186.9L180.45 186.08L180.5 185.25L180.56 184.42L180.61 183.58L180.63 183.16L180.66 182.74L180.71 181.89L180.76 181.04L180.8 180.43L180.81 180.18L180.87 179.26L180.92 178.3L180.97 177.4L181.02 176.62L181.04 176.34L181.07 176L181.12 175.39L181.17 174.84L181.23 174.45L181.28 174.3L181.33 174.45L181.38 174.84L181.43 175.39L181.48 176L181.51 176.34L181.54 176.61L181.59 177.39L181.64 178.29L181.69 179.24L181.74 180.17L181.76 180.43L181.79 181.02L181.84 181.86L181.9 182.7L181.92 183.12L181.95 183.54L182 184.37L182.05 185.2L182.1 186.02L182.15 186.84L182.21 187.65L182.24 188.16L182.26 188.44L182.31 189.24L182.36 190.02L182.41 190.8L182.46 191.57L182.52 192.34L182.57 193.11L182.62 193.87L182.67 194.63L182.72 195.38L182.77 196.14L182.82 196.9L182.86 197.47L182.88 197.66L182.93 198.41L182.98 199.16L183.03 199.92L183.08 200.67L183.13 201.41L183.19 202.16L183.21 202.53L183.24 202.9L183.29 203.65L183.34 204.39L183.39 205.13L183.44 205.87L183.49 206.61L183.55 207.36L183.57 207.7L183.6 208.07L183.65 208.69L183.7 209.3L183.75 210L183.8 210.9L183.82 211.33L183.86 212.5L183.91 215.29L183.95 216.56L183.96 216.54L184.01 215.19L184.06 213.07L184.11 212.02L184.11 212.02L184.16 212.38L184.22 213.29L184.27 214.57L184.32 216.02L184.37 217.46L184.42 218.7L184.47 219.55L184.49 219.74L184.5 219.77L184.53 219.95L184.58 220.28L184.63 220.61L184.68 220.92L184.73 221.22L184.78 221.51L184.84 221.78L184.89 222.05L184.94 222.31L184.99 222.55L185.04 222.79L185.09 223.02L185.14 223.24L185.2 223.45L185.25 223.65L185.3 223.85L185.35 224.04L185.4 224.22L185.45 224.39L185.51 224.56L185.56 224.72L185.61 224.87L185.66 225.02L185.71 225.16L185.76 225.3L185.79 225.36L185.81 225.43L185.87 225.56L185.92 225.68L185.97 225.8L186.02 225.92L186.07 226.04L186.12 226.15L186.18 226.26L186.23 226.36L186.28 226.47L186.33 226.57L186.38 226.67L186.43 226.77L187.08 228.1L187.72 229.96L188.37 232.68L189.01 235.77L189.66 238.68L190.3 240.87L190.94 242.37L191.59 243.64L192.23 244.73L192.88 245.71L193.52 246.64L193.78 247L194.17 247.55L194.81 248.44L195.46 249.29L196.1 250.1L196.74 250.88L197.39 251.62L198.03 252.32L198.68 252.98L199.32 253.59L199.84 254.05L199.97 254.16L200.61 254.67L201.26 255.15L201.9 255.59L202.54 256.01L203.19 256.42L203.83 256.83L204.09 257L204.48 257.26L205.12 257.68L205.77 258.11L206.41 258.52L207.06 258.92L207.7 259.3L208.34 259.66L208.47 259.73L208.99 259.99L209.63 260.33L210.28 260.65L210.92 260.97L211.57 261.29L212.21 261.6L212.86 261.91L213.5 262.2L214.14 262.49L214.79 262.77L215.43 263.04L216.08 263.3L216.72 263.55L217.37 263.79L218.01 264.01L218.66 264.23L219.3 264.43L219.94 264.61L220.59 264.79L221.23 264.95L221.88 265.11L222.52 265.27L223.17 265.42L223.81 265.56L224.46 265.7L225.1 265.83L225.74 265.95L226.39 266.08L227.03 266.2L227.68 266.31L228.32 266.43L228.97 266.54L229.61 266.64L230.26 266.75L230.38 266.77L230.9 266.85L231.54 266.96L232.19 267.06L232.83 267.17L233.48 267.27L234.12 267.37L234.77 267.46L235.41 267.56L236.06 267.65L236.7 267.73L237.34 267.81L237.99 267.89L238.63 267.96L239.28 268.03L239.92 268.08L240.57 268.13L241.21 268.18L241.86 268.23L242.5 268.27L243.14 268.32L243.79 268.36L244.43 268.41L245.08 268.45L245.72 268.49L246.37 268.52L247.01 268.56L247.66 268.59L248.3 268.62L248.94 268.64L249.59 268.66L250.23 268.68L250.88 268.69L251.52 268.7L252.17 268.7L252.81 268.7L253.46 268.7L254.1 268.7L254.74 268.7L255.39 268.69L256.03 268.69L256.68 268.69L257.32 268.68L257.97 268.67L258.61 268.67L259.26 268.66L259.9 268.65L260.54 268.64L261.19 268.62L261.83 268.61L262.48 268.59L263.12 268.57L263.77 268.55L264.41 268.53L265.06 268.51L265.7 268.48L266.34 268.45L266.99 268.42L267.63 268.39L268.28 268.35L268.92 268.31L269.57 268.27L270.21 268.23L270.86 268.18L271.5 268.13" stroke="#2ca02c"/>
<path d="M39.5 247.46L40.14 247.48L40.79 247.52L41.43 247.55L42.08 247.6L42.72 247.65L43.37 247.7L44.01 247.76L44.66 247.82L45.3 247.88L45.94 247.95L46.59 248.03L47.23 248.1L47.88 248.18L48.52 248.27L49.17 248.35L49.81 248.44L50.46 248.53L51.1 248.62L51.74 248.71L52.39 248.8L52.52 248.82L53.03 248.9L53.68 249L54.32 249.11L54.97 249.23L55.61 249.36L56.26 249.49L56.9 249.63L57.54 249.77L58.19 249.92L58.83 250.08L59.48 250.24L60.12 250.4L60.77 250.57L61.41 250.75L62.06 250.93L62.7 251.11L63.34 251.3L63.99 251.49L64.63 251.69L65.28 251.89L65.92 252.09L66.57 252.29L67.08 252.46L67.21 252.5L67.86 252.71L68.5 252.94L69.14 253.18L69.79 253.44L70.43 253.7L71.08 253.97L71.72 254.25L72.37 254.53L73.01 254.83L73.66 255.13L74.3 255.43L74.94 255.74L75.59 256.06L76.23 256.37L76.88 256.69L77.52 257.01L78.17 257.33L78.81 257.65L79.46 257.97L80.1 258.29L80.74 258.61L81.39 258.92L81.65 259.05L82.03 259.23L82.68 259.55L83.32 259.87L83.97 260.2L84.61 260.53L85.26 260.86L85.9 261.2L86.54 261.53L87.19 261.87L87.83 262.2L88.48 262.53L89.12 262.86L89.77 263.19L90.41 263.5L91.06 263.82L91.7 264.13L92.34 264.44L92.99 264.75L93.63 265.06L94.28 265.36L94.92 265.66L95.57 265.96L96.21 266.26L96.86 266.54L97.5 266.82L98.14 267.09L98.79 267.35L99.05 267.45L99.43 267.6L100.08 267.85L100.72 268.09L101.37 268.33L102.01 268.56L102.66 268.79L103.3 269.01L103.94 269.22L104.59 269.42L105.23 269.62L105.88 269.81L106.39 269.95L106.52 269.99L107.17 270.17L107.81 270.35L108.46 270.54L109.1 270.74L109.74 270.93L110.39 271.12L111.03 271.3L111.68 271.48L112.32 271.65L112.97 271.81L113.61 271.96L114.26 272.09L114.9 272.2L115.54 272.3L116.19 272.37L116.83 272.42L117.48 272.45L117.74 272.45L118.12 272.45L118.77 272.45L119.41 272.45L120.06 272.44L120.7 272.44L121.34 272.43L121.99 272.43L122.63 272.42L123.28 272.41L123.92 272.41L124.57 272.4L125.21 272.39L125.86 272.38L126.5 272.37L127.14 272.36L127.79 272.35L128.43 272.34L129.08 272.32L129.72 272.31L130.37 272.29L131.01 272.27L131.66 272.24L132.3 272.22L132.94 272.19L133.59 272.15L134.23 272.12L134.36 272.11L134.88 272.08L135.52 272.02L136.17 271.95L136.81 271.88L137.46 271.79L138.1 271.69L138.74 271.58L139.39 271.47L140.03 271.35L140.68 271.22L141.32 271.08L141.97 270.95L142.61 270.81L143.26 270.66L143.9 270.51L144.54 270.37L145.19 270.22L145.83 270.07L146.48 269.92L147.12 269.78L147.38 269.72L147.77 269.64L148.41 269.5L149.06 269.35L149.7 269.2L150.34 269.05L150.99 268.89L151.63 268.73L152.28 268.57L152.92 268.4L153.57 268.23L154.21 268.05L154.86 267.87L155.5 267.68L156.14 267.49L156.79 267.28L157.43 267.08L158.08 266.86L158.34 266.77L158.72 266.63L159.37 266.4L160.01 266.15L160.66 265.89L161.3 265.61L161.94 265.33L162.59 265.03L163.23 264.73L163.88 264.42L164.52 264.09L165.17 263.76L165.81 263.42L166.46 263.07L167.1 262.72L167.74 262.36L168.39 261.99L169.03 261.62L169.16 261.54L169.68 261.24L170.32 260.85L170.97 260.45L171.61 260.03L172.26 259.6L172.9 259.16L173.54 258.7L174.19 258.22L174.83 257.72L175.48 257.2L176.12 256.66L176.77 256.09L177.41 255.51L178.06 254.9L178.7 254.26L179.34 253.59L179.99 252.86L180.63 252.08L181.28 251.24L181.92 250.32L182.31 249.73L182.57 249.32L183.21 248.17L183.86 246.86L184.5 245.39L185.14 243.77L185.79 242L186.18 240.87L186.43 240.05L187.08 237.7L187.72 234.99L188.37 232.07L188.82 229.96L189.01 229.11L189.06 228.9L189.11 228.69L189.17 228.48L189.22 228.28L189.27 228.08L189.32 227.88L189.37 227.68L189.42 227.48L189.48 227.28L189.53 227.08L189.58 226.88L189.63 226.67L189.66 226.56L189.68 226.45L189.73 226.24L189.78 226.01L189.84 225.78L189.89 225.54L189.94 225.3L189.99 225.04L190.04 224.78L190.09 224.5L190.15 224.22L190.2 223.92L190.25 223.6L190.3 223.28L190.35 222.94L190.4 222.58L190.45 222.21L190.51 221.82L190.56 221.42L190.61 220.99L190.66 220.55L190.71 220.08L190.75 219.74L190.76 219.58L190.82 218.73L190.87 217.56L190.92 216.21L190.94 215.52L190.97 214.84L191.02 213.6L191.07 212.63L191.12 212.08L191.15 212.02L191.18 212.35L191.23 214.12L191.28 216.02L191.32 216.56L191.33 216.4L191.38 214.29L191.43 211.77L191.45 211.33L191.49 210.63L191.54 209.83L191.59 209.19L191.64 208.62L191.69 208.02L191.72 207.7L191.74 207.33L191.8 206.63L191.85 205.93L191.9 205.23L191.95 204.52L192 203.82L192.05 203.12L192.1 202.41L192.16 201.71L192.21 201L192.23 200.65L192.26 200.29L192.31 199.59L192.36 198.88L192.41 198.17L192.46 197.47L192.47 197.45L192.52 196.74L192.57 196.03L192.62 195.32L192.67 194.61L192.72 193.9L192.77 193.18L192.83 192.47L192.88 191.75L192.93 191.02L192.98 190.3L193.03 189.57L193.08 188.83L193.13 188.16L193.14 188.09L193.19 187.34L193.24 186.58L193.29 185.82L193.34 185.05L193.39 184.28L193.44 183.51L193.5 182.73L193.52 182.34L193.55 181.95L193.6 181.17L193.65 180.43L193.65 180.38L193.7 179.54L193.75 178.66L193.81 177.8L193.86 177.01L193.91 176.37L193.91 176.34L193.96 175.81L194.01 175.25L194.06 174.77L194.12 174.43L194.17 174.3L194.22 174.43L194.27 174.77L194.32 175.25L194.37 175.8L194.42 176.34L194.42 176.36L194.48 177L194.53 177.78L194.58 178.64L194.63 179.51L194.68 180.35L194.69 180.43L194.73 181.13L194.79 181.9L194.81 182.29L194.84 182.68L194.89 183.45L194.94 184.21L194.99 184.98L195.04 185.73L195.09 186.48L195.15 187.23L195.2 187.97L195.21 188.16L195.25 188.7L195.3 189.42L195.35 190.14L195.4 190.86L195.46 191.57L195.51 192.27L195.56 192.97L195.61 193.67L195.66 194.37L195.71 195.06L195.76 195.76L195.82 196.45L195.87 197.15L195.89 197.47L195.92 197.84L195.97 198.53L196.02 199.22L196.07 199.91L196.1 200.25L196.13 200.6L196.18 201.28L196.23 201.96L196.28 202.65L196.33 203.33L196.38 204.01L196.44 204.69L196.49 205.36L196.54 206.04L196.59 206.72L196.64 207.4L196.66 207.7L196.69 208.05L196.74 208.62L196.8 209.17L196.85 209.78L196.9 210.53L196.94 211.33L196.95 211.51L197 213.75L197.05 216.07L197.08 216.56L197.11 216.35L197.16 214.8L197.21 212.89L197.26 212.02L197.26 212.02L197.31 212.32L197.36 213.1L197.39 213.61L197.41 214.2L197.47 215.48L197.52 216.82L197.57 218.06L197.62 219.06L197.67 219.7L197.68 219.74L197.72 220.04L197.78 220.37L197.83 220.68L197.88 220.99L197.93 221.28L197.98 221.57L198.03 221.84L198.08 222.11L198.14 222.36L198.19 222.61L198.24 222.85L198.29 223.07L198.34 223.3L198.39 223.51L198.45 223.71L198.5 223.91L198.55 224.1L198.6 224.29L198.65 224.46L198.68 224.55L198.7 224.63L198.76 224.8L198.81 224.96L198.86 225.11L198.91 225.26L198.96 225.41L199.01 225.55L199.06 225.68L199.12 225.81L199.17 225.94L199.22 226.06L199.27 226.19L199.32 226.3L199.97 227.66L200.61 229.18L200.87 229.96L201.26 231.3L201.9 233.73L202.54 236.19L203.19 238.46L203.83 240.3L204.09 240.87L204.48 241.6L205.12 242.67L205.77 243.59L206.41 244.42L207.06 245.17L207.7 245.89L208.34 246.63L208.47 246.78L208.99 247.38L209.63 248.14L210.28 248.88L210.92 249.61L211.57 250.31L212.21 250.98L212.86 251.61L213.5 252.19L214.14 252.72L214.4 252.91L214.79 253.19L215.43 253.63L216.08 254.03L216.72 254.41L217.37 254.77L218.01 255.12L218.66 255.45L219.3 255.77L219.94 256.09L220.59 256.41L221.23 256.72L221.88 257.03L222.52 257.33L223.17 257.63L223.81 257.92L224.46 258.21L225.1 258.49L225.74 258.76L226.39 259.03L227.03 259.29L227.68 259.54L228.32 259.79L228.97 260.03L229.61 260.26L230.26 260.48L230.38 260.52L230.9 260.69L231.54 260.91L232.19 261.11L232.83 261.31L233.48 261.51L234.12 261.7L234.77 261.89L235.41 262.08L236.06 262.25L236.7 262.43L237.34 262.6L237.99 262.76L238.63 262.92L239.28 263.07L239.92 263.22L240.57 263.36L241.21 263.5L241.86 263.64L242.5 263.77L243.14 263.91L243.79 264.04L244.43 264.16L245.08 264.29L245.72 264.41L246.37 264.53L247.01 264.64L247.66 264.75L248.3 264.86L248.94 264.96L249.59 265.06L250.23 265.16L250.88 265.24L251.52 265.33L252.17 265.41L252.81 265.48L253.46 265.56L254.1 265.63L254.74 265.7L255.39 265.76L256.03 265.83L256.68 265.89L257.32 265.95L257.97 266.01L258.61 266.06L259.26 266.11L259.9 266.16L260.54 266.21L261.19 266.25L261.83 266.29L262.35 266.32L262.48 266.32L263.12 266.36L263.77 266.39L264.41 266.42L265.06 266.45L265.7 266.48L266.34 266.51L266.99 266.53L267.63 266.56L268.28 266.58L268.92 266.6L269.57 266.62L270.21 266.63L270.86 266.65L271.5 266.66" stroke="#d62728"/>
</g>
<rect x="39.5" y="174.3" width="232" height="113.6" fill="none" stroke="#c6c6c6" stroke-width="1.0"/>
<text class="h m" x="155.5" y="172.1">Beampattern</text>
<text class="l m" x="155.5" y="308.2">(deg)</text>
<text class="l m" transform="translate(13.4 229.7) rotate(-90)">Normalized Magnitude (dB)</text>
<text class="t e" x="37.5" y="178.33">0</text>
<text class="t e" x="37.5" y="201.05">−10</text>
<text class="t e" x="37.5" y="223.77">−20</text>
<text class="t e" x="37.5" y="246.49">−30</text>
<text class="t e" x="37.5" y="269.21">−40</text>
<text class="t e" x="37.5" y="291.93">−50</text>
<text class="t m" x="91.06" y="297.2">−50</text>
<text class="t m" x="155.5" y="297.2">0</text>
<text class="t m" x="219.94" y="297.2">50</text>
<g stroke="none" fill-rule="evenodd">
<path fill="#481668" d="M397.3 193.8l.3-.2 15.9 0-2 .7-.4 .3 2.2 .4 4.7-.6 4.3-.3 2.6-.5 28.9 0 3.2 .5 12.7 1.3 11.5 1.9 10.9 2.3 11.7 3.1 0 1.3-.1 0-10.9-2.8-6.4-1.4-5.3-1-11.7-1.8-10.7-1-9.7-.5-7-.1-2 .3-2-.2-10 .5-2.3 .3-3 .5-2-.3-.4 .1-.3 .4 .3 .3 .4 .1 2 0 2.3 .6 8 1.5 1 .3 1 .5 .3 .1 3-.3 2.4 .5 4 0 11.3 .9 10.4 1 2 .4 5.3 .7 7.4 1.4 7.7 1.7 6.6 1.7 8.4 2.3 0 2.3-7.7-2.1-9.3-2.2-6.7-1.4-5.7-.8-1.3-.4-.7 0-.9 .2 1.2 .5 1.4 .1 3.7 .7 7 1.5 8.6 2.2 4.7 1.3 5 1.5 .7 .2 0 1.5-10.7-2.8-7.8-1.6-5.9-1-4.8-.7-2.5-.1-.8 .1 .8 .1 2.5 .9 1.1 .3 2.7 .5 11.4 2.8 7 2 7 2.2 0 1.8-6.3-1.7-8.1-2-1.6-.2-.4 .1-.4 .2 .2 .4 .9 .7 2 1.1 3.9 1.2 2.8 1.1 3.1 .9 3.9 1.4 0 5.1-1.7-.3-1.6-.6-.7 0-.5 .1 .2 .7 .2 .3 .4 .3 2.4 .6 1.3 .9 0 2.1-1 .3-1.6 .2 0 .3 .6 .7 1 .7 1 .5 0 6.6-.2-.1-.2-.7-.3-.3-.3-.1-1.7 .2-1-.3-2.3-1-2.3-.6-.7 .1-.1 .3 .2 .4 .6 .3 1.6 .5 .8 .5 .5 .7 .4 1.4 .3 0 1-.3 1 0 1 .3 1.7 .8 0 4.4-1-.3-3-2.1-.5-.5-.5-1.3-.3-.4-1.6 .7-.2 .3 .1 .3 .8 .7 4.2 2.6 .7 .6 1 1.3 .3 .2 0 9.1-.7 .1-.2 .2 .3 .7 .6 .5 0 3.1-.3-.2-.9-.8-.5-.2-1-.2-.5 .1 .1 .3 .6 .7 2.5 1.4 0 2.3-16.4 0-.3-.9-.3-.2-.5 .1-.5 .3 0 .7-29.3 0-1-.7-3.1-1.5-2-.6-.4-.1-1.2-1.1-.8-.2-.9 .2 0 .3 .5 .7 .8 .4 1.3 .3 1.1 1 1.6 .6 1 .7-2.7 0-.7-.5-5-2.1-1.6-1-1.7-.1-.7-.2-.5-.5-.8-.9-.3-.2-.4 0-1 .6-2 .2-.2 .3-.1 .4 .2 .3 .8 .6 2.4 .8 3.9 1.6 1.1 .7-4.9 0-.3-.3-.9-.5-5.3-2.1-.7-.2-1.3-.1-.7-.1-1.3-.9-.7-.3-1.3 .3-.7-.1-1.3-.9-2-.8-3.1 .4-.5 .2 .3 .4 1.6 .6 1.3 .7 1.7-.1 1 .2 1.5 .9 1.8 .7 1.7 .4 2.8 1.3 .5 .3-6.3 0-.5-.3-.9-.4-3.9-1.2-2.3-.4-1.4-.7-.7 0-1.7 .1-.6-.2-1.4-.7-1.3-.4-.7 0-2.8 .2-.9 .3 .1 .3 2.6 .8 1.7 .7 2-.2 1.7 .9 2.2 .5 1 .4 .7 .3-8.1 0-.8-.3-1.4-.3-1.6-.7-2 .3-2-.7-1.7-.4-4 .3-3.4 1.2-.6 .3-.4 .3-6.5 0 .6-.3 5.5-2.4-1.6-.3-3 .2-.6 .2-4.7 1.8-1 .5-.3 .3-6 0 .4-.3 2.9-1.4 1.1-.6 .3-.4 0-.3-.8-.2-.6-.1-3.4 .1-2.3 .3-1.7 0-1.6 .5-2 .1-.7 .2-2.7 1.4-.5 .4-.3 .3-29.3 0 .3-.7-.2-.2-.4-.2-.3 .3-.3 .8-10.8 0 .4-.7 1.1-1 .2-.3-.1-.3-.2-.1-4.7 1.3-2.3 .3 0-1.1 2-.6 .7-.3 .5-.6 .4-.6-.3-.2-.3 0-2.3 0-.7 .2 0-3 .7-.4 .2-.3-.9-.2 0-4.1 .1-.4-.1-.1 0-20.7 .8-.3 .1-.4-.9-.1 0-16 4.7-1.5 5-1.3 2.3-.9 2.4-.3 1.6-.5 4-.7 1.4-.4 2.2-.4 .7-.3 .4-.4-.1-.3-.2-.1-1 0-2.4 .2-.8-.1 6.5-1.3 .7 0 1 .2 .3-.1 3.4-1.5 2.6-.6 2.7-1.2 2.7-1.1 .8-.4 .3-.4-.4-.3-1.1-.1-2 .6-.6 .1-1.7-.2-9.7 1.4-12.7 2.4-7.3 1.7-5.5 1.5-.2 0 0-.9 1.3-.3 5-1.5 2.4-.6 2.4-.8 6.7-1.6 4.6-1 5.8-1 6.2-.9 3.7-.7 2.3 0 8-.9 1 .1 1 .2 .4 0 1.3-.7 2.4-.8 .2-.4-1.3-.2-1.3-.1-9.4 .5-3 .3-2 .3-5 .4-5 .7-6.3 1-6.4 1.3-4.3 1-2.7 .9-2.3 .4-5.7 1.5 0-1.6 1-.2 7.3-2.1 2.7-.5 3.4-.9 10-2 10.7-1.8 8.7-.9 5.3-.4 10.7-.4 5.3 .1 2.4-.5 2.6-.3 1.4-.3 .5-.2 .5-.3 .3-.7 .3-.3 .7-.2 1-.1 1 0 1.3 .7 .7 .1 .3-.1zM407.7 194.6l-.4 .3 0 .4 .3 .4 .7 .3 .7-.3 .9-.8-.1-.3-.8-.2-.7 0zM401.5 195.3l-.9 1 0 .3 1.4 .1 .4-.1 .5-.3 .1-.4-.4-.5-.6-.3zM413.7 197.3l-1.6 .7-.4 .3 .5 .3 1.1 .4 5 .8 4.4 .8 1.6-.1 1.2-.2-1.5-.7-1.7-.5-2.3-.5-3.7-.6-.8-.4-.9-.6-.3 0zM398.2 200.6l.3 .4 .8 .1 1.6 0 1.6-.1-.9-.4-1.7-.3-.6 .1zM385 203.7l-2.4 .3-1.2 .7 0 .3 1.5 .1 3.7-.2 1.3-.3 .6-.3 .1-.3-.6-.3-1.4-.3zM461.9 205l.3 .3 1 0 0-.3-.1 0-.7-.1zM464.3 205.3l.6 .4 .5 .1 1 0 .5-.1-.4-.4-.8-.1-1-.1zM388 206l-.5 .3-.1 .4 .3 .3 .9 .2 .3-.1 .4-.2 .1-.2-.1-.4-.7-.4zM383 207.7l-1.6 .3 .8 .2 2.4-.2 .4-.3-.7-.2zM426.5 208.7l-.4 .3 .2 .2 .7 .2 .3-.1 .1-.3-.4-.3zM421.2 209.7l.5 .4 .3-.2 .1-.2-.4-.3-.4 .1zM412.7 210.7l.6 .3 .7 .1 .6-.2 .7-.1 .2-.1-1.5-.2zM433.7 211l-.7 .4 0 .3 .4 .3 .9 .4 2.4 .2 2.3 .4 .7 0 .6-.3-.1-.3-.8-.4-3.1-.5-2-.6zM420.4 211.7l-1.1 .3 0 .4 1.7 .3 1.5 0 .1-.3-.9-1-.4 0zM448.3 211.7l.7 .3 .7 .2 1.3 .7 .6 .5 .4 .7 .7-.1 1.5-.6-.3-.4-.9-.3-3.6-.8-.4-.2zM369 212l-1.7 .4-.5 .3 1.8 .2 1.3-.2 .7-.3-.1-.4zM387.8 216.1l-.2 .2-2.3 .1-1.8 .3-1.1 .4-2.8 1-.6 .3-.2 .3 0 .4 .4 .1 .4-.1 1.6-.9 1.4-.3 1.7-.1 .3 0 .7 .5 .3 .1 .3-.1 .4-.2 0-.4-.3-.3 .1-.3 .8-.5 .4-.1 .3 0 .4 .2-.4 1 .3 .4 1 .6 .7 0 .2-.3 .1-.3-.3-1.4 0-.6-.7-.2zM356.9 216.7l-5.4 .7-4.6 .9-2.1 .9-2.3 .6-.7 .3-2.3 1.3-.8 .7 .1 .3 .4 .1 .6-.1 4.4-1.1 3.3-.7 1 0 .7 .1 .3-.1 .1-.2 .6-.3 2-.6 1-.1 1 .3 .7 0 .5-.3 .8-.7 2-1 .7-.6-.5-.4zM464.4 217.7l.3 .4 .4 .1 .4-.1-.5-.4zM484.6 218.7l0 .4 .1 .3 .4 .2 .7-.2 .2-.3-.2-.4-.4-.1-.3-.1zM383.5 219.8l-1 .3-.2 .3 1 .4 1.4 0 1-.4 .2-.3-.5-.3-.5-.2-.6 0zM478.7 220.4l.1 .4 .3 0 .4 0 .3-.4-.7-.2-.3 .1zM472.4 221.8l-.4 .3 .2 .3 .2 .2 1 .1 1.3-.3-.6-.3-1-.3zM493.9 222.4l-.8 .4-1 .1-.3 .2-.1 .7 .1 .7 .3 .2 1-.4 .3-.1 2.7 .4 .4 0 .2-.2-.9-1.6-.3-.4-.7-.3-.4 0zM341.5 223.4l-6.3 1.1-2.6 1-1.3 .6 .2 .2 .3 0 2.4-.6 2-.2 1.6-.5 4.4-1.1 1.2-.1 .9-.4-.1-.2-.4-.1zM432.5 224.1l3.5 1.1 1.7 .7 3 .3 1 .6 .3 .1 .7-.1 .6-.3-.6-.3-1.7-.3-.6-.2-1.8-.9-1.3-.5-4-.4-.3 0zM370 224.4l-.9 .4 1.8 .2 1.6-.2 .9-.4-.8-.1zM420.2 224.4l-.2 .4 .7 .1 .4-.1-.2-.4-.2-.1zM449.5 224.8l.1 .3 1.4 .9 .7 .2 1.7 .2 .1-.3-1.7-1-1.4-.3zM408.3 226.1l-1 .7-.4 0 1.4 .1 .5-.1 .2-.3-.4-.3zM453.4 226.5l.3 0 1 1 .3 .1 .6-.1 .3-.4-.4-.3-.5-.1-1.3-.3zM490.6 226.5l.2 1.8 .3 0 1-.5 1.7 .2 .5-.2 0-.3-.3-.4-.6-.3-2.3-.6-.3 0zM358.7 229.1l-3.7 .4-2.1 .6-2.4 .1-.6 .3-2 1.7-.3 .3 0 .3 .3 .4 1 .1 .7-.1 2.3-.9 .3 0 1 .3 .3-.1 .2-.7 .5-.3 2-.4 .7 0 1 .4 .6 0 2.4-1.4 .8-.6-.1-.4-.7-.1zM484.6 229.1l-.2 .1-.1 .3 .1 .3 .4 .4 .6 0 .7-.2 .7 .1 5.6 2.1 1 .3 .5 0-.2-.3-2.3-1.9-.3-.5-.3-.9-.4 0-.6 .3-.7 .1-1.7-.2-1.6 .1zM461.9 230.1l.2 .2 .3 .1 .2-.3-.5-.1zM344.1 232.8l-.8 .4-.5 .3-.2 .3 .1 .4 .5 .2 .6 .2 .4 0 .6-.4 .2-.4 .2-1-.4-.1zM389.6 232.8l-.3 .4 .5 .3 .5 .1 .3 0 .3-.4-.1-.4zM488.3 233.8l-.8 .7-.1 .3 .2 .4 .2 .1 1.6 .4 2 .1-.9-1-1.1-.9-.6-.2zM346.4 235.2l-2.9 .1-1 .4-.7 .5 .4 .3 .3 0 2.1-.3 1.9-.6 1.1-.1 .6-.3-.3-.1zM338.1 236.5l-.7 .4-.5 .3 .3 .3 .3 0 1.7-.1 .7-.2 .5-.3-.2-.4-.4 0-1-.1zM372.5 236.5l-.6 .4 .7 .3 4.3-.2 .7 0 1 .3 .3-.1 .5-.7-3.2-.1-3 0zM492.7 236.5l1.1 .4 .6 .1 .2-.1-.4-.4-.8-.2-.6 0zM433.5 236.9l.3 .3 2.3 1 .6 .1 .8-.1 .2-.3-1-1-.7-.2-1.3-.1zM447.4 237.2l.1 .3 .4 .4 1.3 .6 1.5 .2 .3 0 .2-.2-.8-.6-1-.5-1.4-.3zM486.7 238.2l-.3 .3 0 .4 .4 .4 1.7-.4-.2-.4-.2-.1-.7-.2zM408.3 238.9l-.1 .3 .4 .1 .3-.1 .1-.3-.4-.2zM451.6 238.9l.2 .6 .2 .4 .4 0 .8-.4-.2-.3-1-.3zM445.8 239.2l-.4 .2-.5 .5-.3 .3 .1 .1 .3 .2 .7 0 .7-.4 .3-.6-.1-.3-.2-.1zM365.3 240.9l-6.1 .4-2.3 .8-2-.1-.7 .1-.6 .5-1.4 1.3-.2 .3 0 .4 .9 .3 1.3 0 3.4-.7 .9-.3 .7-.5 .4-.2 1.3-.1 1 .2 .6 0 2.4-1.3 2.1-.8 .4-.3-.5-.2zM485.3 240.9l-1.7 .3-.1 .3 .3 .5 .6 .5 .7 .2 1.7 .3 .6-.1-1.3-2-.3-.2zM326.9 243.9l-.6 .3-.1 .4 .3 0 .7-.1 .5-.3 .2-.3-.4-.1zM480 244.2l.4 .5 .4 0 .2-.1 0-.4-.6-.3-.3 0zM323.1 244.6l-.3 .2-.3 .9 .3 .1 .6-.2 .5-.4 0-.3zM348.5 244.6l-.8 .3-.4 .3 0 .4 .2 .1 1 .5 .4-.1 .3-.2 .2-.3 .1-.4-.3-.6zM390.8 245.2l-.1 .4 .5 .3 .4 .1 .5-.1 .3-.3 0-.4-.8-.1zM465.2 245.6l-.1 .3 .3 .4 .7 .1 .7-.2-.1-.3-.6-.3zM484.3 245.6l-.6 .6 .1 .4 1.3 .5 .7-.1 .1-.1 0-.3-.1-.4-.4-.4-.6-.4zM347.9 246.9l-1 .7 .1 .3 .5 0 2.5-.3 1.6-.4 .3-.2 .6-.1-1.3-.2-2.3-.1-.4 .1zM343.1 247.9l-.9 .4-.3 .3 .3 .1 2 0 .5-.1 .3-.3-.5-.2zM489.5 248.3l.7 .3 .6 0-.1-.3-.3-.2-.3 0zM375.1 248.6l-.8 .3 0 .4 .3 0 1 .1 1.6-.2 1.7 0 1 .2 1 .4 .3-.3 .4-.6-.4-.3-.2 0-3.8 .2-1.3-.2zM433.2 248.9l-.6 .4 0 .3 .6 .3 1.8 .7 1 0 .2-.3-.2-.4-1-1-.7-.2zM445.5 249.6l.5 .8 .4 .4 .6 0 .6-.2 0-.3-.4-.4-.8-.3zM481.9 249.9l0 .4 .2 .1 .7-.1-.2-.4-.5-.1zM438.2 250.9l-.3 .4 .3 .3 .5 .3 1.3 .5 .7 0 .4-.1 0-.4-.7-.9-1-.2zM490.2 250.9l.5 .4 1.4 .6 .6 .4 .3 .3 .2 1 .2 .5 .4 .1 1.3-.2 1.4 .1 1 .4 .5 .5 .8 .5 .7 .1 .3 0 .3-.3-.1-.7-.5-.5-.7-.1-1.3-.1-.4-.2-.3-.8-.3-.3-2.1-.9-1.6-.9-2.4-.2zM450.4 251.6l0 .3 .2 .4 .8 .5 .6 .2 1.3-.1-.1-.3-1.5-1-.7-.1zM409.9 251.9l0 .4 1.1 .1 1.3 .3 1.3 .1 .4 0 .1-.2-.6-.3-1.2-.3-1.3 0zM321.4 252.3l-.1 .3 .5 .1 .3-.1 .1-.3-.1-.2-.3 0zM480.7 252.6l-.5 .3 0 .4 .4 .3 .5 .2 .7 .1 .3-.2-.1-.4-.6-.8-.3-.1zM369.2 252.9l.4 .3 .8-.3-.5-.1zM362.6 253.3l-.3 .3 .3 .4 1.3 .1 2.5-.1 1.1-.4 .3-.3-.9-.3-.7 0-3 .1zM358.2 254.3l-.3 .3 .1 .4 .2 .2 .3 .1 .4 0 .6-.3 .1-.4-.4-.3-.7-.1zM332.8 255l-.6 .3 .3 .3 .7-.3 .1-.3zM353.6 255.6l-.4 .4 0 .3 .3 .3 .4 0 .3-.4 0-.5-.3-.2zM410.2 255.6l-.6 .1-.4 .3 .8 .1 1.2-.1-.2-.3zM328.4 256l-.2 .6 .3 .2 .4-.2 .5-.3 0-.3-.6-.3zM492 256l-.3 .3 .3 .7 .4 .5 .7 .3 .7 .1 .3-.1 .1-.2-.1-.3-1-1.2-.3-.2zM356.6 257.6l-2.7 .1-2.8 1.6 1.1 .1 1.7-.1 3.6-.5 1.9-.8 .3-.4-1.2 0zM395.5 258l.4 .3 2.7 .6 1.5-.3 .4-.3-.4-.3-1.2-.2-2.3-.1zM423.2 258l-.5 .2-1.6 .1 .6 .3 1-.2 1.3 0 .4-.1-.1-.3-.3-.1zM464.6 258.3l.1 .3 .6 .4 .8 .1 .4-.1-.1-.4-.2-.3-.5-.2zM497.4 260l-.2 .3 0 .4 .3 .3 .6 .1 .4-.1 0-.3-.1-.4-.5-.3zM380.1 261l-.5 .3 .6 .4 .4 0 .6 0 1.7-.2 2 .4 1.7 0 1.3 .2 .7-.1 1.1-.3 .4-.4-.8-.3-3.4-.3-2.6 .3-2.1-.2zM432 261l-2 .2-.5 .1-.1 .4 .6 .3 1.3 .4 1 .9 .4 .1 .3 0 1-.4 1.7-.3 .2-.4 0-.3-.3-.3-1.3-.9-.6-.1zM476.5 261l.3 .6 .3 .3 .6-.2 0-.4-.6-.5-.3-.1zM330.1 261.3l-.7 .4-.2 .3 .3 .1 .6-.4 .1-.4zM442.3 261.7l.4 .1 .5 .5 .5 .9 .3 .1 .7-.3 .1-.3-.2-.4-.4-.3-1.2-.4-.3-.1zM487.4 262l-.8 .7-.1 .3 .2 .3 .6 .7 .5 .8 .3 .2 .3 0 .9-.3 0-.4-.9-1-.4-1.3-.2-.3zM399.1 262.3l-.2 .4 .7 0 1.5 0 .6-.4-.8-.1zM475.5 264l-.5 .3 .1 .4 .4 .3 .9 .2 .5-.2-.1-.3-.4-.6-.3-.2zM472.4 193.6l9.3 0 .7 .3 1.7 .5 9.9 2.2 9.8 2.6 0 1.1-8.3-2.2-7.4-1.7-7-1.3-7.3-1.2z"/>
<path fill="#443983" d="M398.3 193.9l1.4-.3 10.8 0-2.9 .5-1 .5-.2 .3-.1 .4 .3 .3 1 .6 .7 .2 .7-.2 1-.6 1-.3 3 .1 3.6-.5 13.6-1.3 12.7 0 1.5 .3 2 0 8.9 .7 6.6 .7 .5 .2 1.8 .1-1.5 .1-9.7-.5-5.3-.2-6.7 0-2.3 .1-3.7 .1-8.7 .4-4.6 .5-2.4 0-1 .5-.2 .4 .1 .6-.6 .2-2-.2-.6-.3-.9-.7-.5-.1-.3 0-1.7 .9-2.6 .6-.1 .3 .8 .3 1.6 .4 5.7 .9 4.7 .9 2.3 .1 2.3 .3 1.2-.2 .4-.4-.6-.4-2.5-.6-4.3-1.3 1.2 0 7 1.3 3.3 .4 1 .5 .7 .7 .3 .2 .3 0 1-.7 1-.2 1 .1 2.7 .6 3-.2 13 1 6.3 .7 9 1.3 7.8 1.7 .3 .2 .5 .1-.5 .1-.9-.1-1.1-.2-4.7-.5-2.3-.4-1.3 0-1.7-.3-1.7 .1-2.6-.5-5.4-.4-2.3 0-2-.3-3.4-.1-1 .3 .1 .3 .7 .3 1.9 .1 1.7 .5 2.6 0 2.1 .4 1.6 .1 1.7 .3 1.3 .1 2 .4 1.7 .1 10.4 1.8 6.6 1.4 6.3 1.5 7.1 2 4.2 1.4 .1 .2 .8 .1-.4 .1-.7-.1-.3-.1-10.1-2.4-9-1.7-8-1.2-5.3-.6-2.1 0 .1 .3 2 .8 15 3.5 6.6 1.8 7.6 2.3 4.5 1.7-.3 .1-.9-.1-12.5-2.9-2-.3-.7 0-.6 .1-.1 .4 .2 .3 2.2 1.8 3.3 1.8 1.4 .1 1.1 .4 .6 .3-.7 .2-.7-.1-1.7-.6-2.6 .2-.3 .3-.1 .3 .2 .4 .5 .4 1.5 .6 .5 .5 .1 .5 0 .6-.2 .4-.2 .2-1-.1-3.4-1-.6-.2-.5 .1 1.3 1.3 .7 .4 1.5 .4 1 .6 .4 .6 .1 .7-.1 .7-.4 .4-.4 .1-.6 0-3.7-.6-.7-.1-1.3-.6-.7 .1 0 .3 .8 1 .7 1 .5 .6 .4 .1 .6 .2 1-.3 .7 0 1.3 .3 1.4 .5 6.7 2.9 1 .5 2.7 2 .9 .4 .7 0 .3-.1-.1-.3-1.5-1.1-1.1-1-2.9-1.5-4.1-2.5-.7-.7-.3-.3-.1-.7 .1-.3 .4-.4 .6-.3 2.4 .3 .3 0 .2-.3-.3-.6-.3-.4-.6-.4-1.4-.6-.4-.3 0-.3 .6-.7 .9-.2 1.2 .2 1.7 .7 .5 .3 .2 .3-.3 .3-.1 .4 .2 .3 1.3 1 .4 .7-.1 .2-1 .2-.3 .3 .3 .5 .3 .2 .7 .1 .3-.2 .4-.5 .3 0 1.7 .3 .6 .3 .7 .4 .9 1.2-.1 .4-.4 .3-.4 .1-.7 .1-1.6-.3-.7 .1 .1 .3 .2 .4 .7 .6 2 1.5 1 .5 0 4.7-1.3-.2-1.4 .2-1.2-.3-1.8-1-.3-.3-.1-.7-.6-.7-2.4-1.3-2.3-.7-.6-.2-2.4-1.8-2.3-.6-1.7-.8-.6-.2-.4 0-.3 .2-.1 .4 .3 .7 .3 .3 1.5 .5 .3 .3 .7 1.3 .3 .2 1.4 .1 1.3 .2 1.3 .6 .7 .5 .2 1 1.1 .8 1.2 1.2 .5 .3 1.7 .6 .7 .4 .3 .4 .3 .7 .1 .6-.1 .4-.6 .4-1.5 .2-.2 .4 .2 .3 .6 .7 1.2 .9 4 2.5 .7 .7 .8 1.2 .5 .3 0 5.3-1.1 .1-.2 .4 .5 .6 .8 .4 0 1.2-1.7-.1-.4 .2 .1 .4 .5 .6 1.2 1.3 .3 .2 0 1.9-1-.7-1.8-.7-.9-.4-.6-.6-.5-1-.6-.6-.6-.3-1-.2-.3-.1-.3 .2 .3 1 .3 .7 .7 .5 1.4 .8 .3 .4 .3 .7 4.3 2.4 0 1.9-4 0-1.7-.7-1.6-1.6-.7-.2-.4 .2-.2 .3 0 .3 .3 .4 1 .6 .4 .7-9.1 0-.4-1.2-.3-.4-2 .6 0 .3 .2 .7-21.1 0-.4-.3-.7-.3-.2 .3 .1 .3-5.9 0-.3-.3-.6-.4-3.5-1.7-2-.7-2-1.3-2-.2-.7-.2-1.1-.9-1.5-.7-4.4-.8-.6 .2-.7 .6-.7 .1-1-.2-2-.9-1.7 .4-4.6 .2-.6 .1-.1 .3 .5 .4 .8 .4 2.7 .6 .5 .3 .4 .7 .2 .3-.4 .1-1.4-.1-.7-.3-1.3-1-1.6 .1-.7-.1-2.3-1-.7-.7-.3 0-.7 .4-.7 .2-2.7 0-1.6 .3-.3 .1-.2 .3 .5 .4 3.7 .9 1.6 .9 1.4-.1 .6 .1 2 1 4.7 1.5 1.4 .7-4.2 0-.3-.3-.9-.4-5-1.5-2.4-.4-1.3-.7-.7-.1-1.3 0-.7-.1-3.3-1.2-2 .3-1 0-1-.2-.3 0-1.4 .6-.4 .3-.1 .3 .3 .4 1.6 .4 2.3 .3 .7 .3 1 .6 1.6-.1 .7 .1 1.3 .6 2 .5 .8 .3-4.6 0-1.5-.8-2.5-.2-1.8-.8-1.7 .2-.7-.1-2.4-.6-.3-.4-.3-1.1-.3 .1-.3 1-.5 .4-1.2 .1-1.5-.1-.3-.4-.2-.8-.4 0-.1 1.2-.2 .3-.7 .3-3.3 1-.8 .4-.4 .3-4 0 .5-.3 2.7-1 1-.4 1-.2 .7-.3 .2-.5-.2-.3-.7-.3-1.3-.3-1.7 .5-2.3 0-1.5 .8-4.2 1.5-.8 .5-.3 .3-4.3 0 1.1-.7 3.9-1.8 1.7-.4 .3-.5-.3-.2-.3-.1-1.4 .2-2-.1-4 0-2 .3-2 0-2.6 .6-2 0-1.3 1-2.3 1-.9 .7-4.1 0 .3-.7-.1-.2-.3-.1-.9 .3-.9 .7-21.2 0 .6-.4 1.6-.3 1.9-1 .2-.2 1.9-.1 1.4-.3 1.5-.7 .3-.4-.8-.1-1 .1-1 .4-1.4 .7-.3 .2-.6 0-1.4-.2-2 .9-1 .1-.6-.2-.5-.5-.3-.7 .1-.3 .3-.7 2.2-1.7-.2-.2-1 .2-.6 .4-2.4 1.6-.1 .4 .1 .3 .8 .4 .4 .6 0 .7-.4 1-9.9 0 .4-.6 1.2-1.1 .5-.6 .1-.4 0-.3-.4-.2-.7 .1-3.3 1.1-.7 .1-.4-.1 1.7-1.7 1.7-1 .3-.3 .1-.4-.6-.3-.8 0-1.7 .9-.6 .2-1 .2-1.7-.1 0-2 .7-.3 2.6-1.9-.3-.2-2 .6-1 0 0-3.2 .3-.2 .4-.4 .3-.6 .1-.7 .3-.3 .9-.5 1.7-.2 .5-.4 .9-1.3 .2-.7-.6-.3-.7-.1-3 .6-1.3 0 0-16.3 6.7-2.3 2.4-1-.1-.2-.3 0-1.2 .2-2.7 .7-3.5 1.1-1.3-.1 0-11.5 2-.6 3.3-1.3-.3-.2-1.1 .2-3.9 .9 0-2.6 11.7-3.6 12-2.5 2.3-1.1 2.4-.6 2-1.1 1.7-.8 2.6-.6 2.4-1.2 2.6-1 2.7-1.2 .7-.2 1.3-.2 .5-.3 .1-.4-.3-.2-.3 0-2 .3-2.3 0-2 .3-1.7-.1-4.3 .5-1.4-.1 1-.2 .4-.1 1.3-.2 4.3-.8 2.7-.2 7.5-.9 1.3 0 1.2 .6 .4 0 1-.9 .7-.3 5.4-1.4 .6-.3 .1-.3-.8-.2-1.7 .2-3-.1-4.7 .2-6.3 .4-7.7 .7-5.3 .6-8.4 1.3-6 1.1-.3 .1-1 .1-.4-.1 1-.2 .2-.1 2.9-.7 6.5-1.3 7.9-1.4 7.1-1 6.2-.6 4.3-.4 6.2-.3 6.5-.2 1.3 .1 1.3 .3 1.7-.5 1.4-.3 1.3-.1 1.3 .2 .4 0 .8-.5 1.5-.6 1.7-.9 .6-.1 .7 0 1.3 .5 .7 .1 .7-.3 1.1-.7zM401.2 194.9l-.9 .8-.7 .3-2 .4-2.7 .2-.8 .4 0 .3 .5 .3 .3 0 2-.5 1.4-.1 2.3 .3 2-.4 .7-.3 .4-.3 .2-.4-.1-.3-.8-.6-.7-.3-.7 0zM387.8 199.3l.5 .1 .3-.1-.3-.2zM380.6 200.3l-.3 .3 0 .4 .6 .5 .3-.1 1-.9 .5-.2-.1-.2-1.4 0zM397.7 200.3l-1.2 .3 .3 .4 1.8 .3 5.7 .2 1.3 0 1.1-.2-1-.3-5.1-1-1 0zM374.4 202.3l-.2 .4 0 .3 .7 0 .4-.3-.4-.7-.3 0zM385.3 203.3l-3.1 .6-3 1.3-2 .5-.6 .3-.4 .3-.1 .4 .5 .2 .6 0 2-1.1 1-.2 4.4-.1 1.8 .2 .1 .3-.3 .3-.4 .4-.5 .2-6.1 .8-.4 .3 .7 .4 1.7 .3 3.7-.3 1-.3 1.4-.6 1.3 0 .7-.1 .5-.4 .3-.7-.2-.3-.7-.7 .3-.3 1.4-.7-.2-.3-3.4-1-.7 0zM395.1 204.3l-.2 .4-.1 .6 .3 .4 .2 0 .4 0 2-1 .1-.4-.5-.2-.7-.1zM401.8 207.7l-.2 .3 .5 .4 .5-.1 .4-.3-.1-.3-.3-.2-.3 0zM426.3 208.4l-1.6 .5-3.7 0-1.1 .1-.4 .4 .3 .3 .7 .3 .4 .4 .1 .3-.2 .3-.8 .4-1.5 .3-.3 .3 .3 .4 1.1 .4 1.7 .3 2.7 .1 2 .6 .7-.1 .8-.3-.1-.4-.1 0-2.6-.5-1.4-.4-.6-.4-.3-.3 .1-.7 .4-.7 .4-.2 1-.2 1.4 .1 1 .3 .1 .4 0 .6 .2 .3 .3 .2 .7-.1 .6-.4 .1-.3-.3-.7 .2-.3 0-.3-1.4-1-.2-.2zM413.9 209.7l-1.3 .4-1.6 .3-.8 .3 .7 .3 1.4 .3 1.7 .5 .6 0 1.4-.3 .4-.1 .2-.4 0-.3-.3-.3-1.7-.8zM433.9 210l-.9 .6-1.6 .4-.1 .4 .9 .6 1.5 .7 .3 .1 2 .1 1.3 .2 1.2 .3 .9 .5 .6-.4 1.7-.5 .1-.3-.3-.3-1.5-.7-3.7-.5-1.1-.5-.5-.7-.4-.1zM446.5 211l-.4 .4 .3 .3 3.6 1.2 1 .5 .3 .3 0 .4-.1 .3-.8 .9-.7 .3-1.4 .1-.3 .2-.1 .2 .6 .3 2.9 .5 1.5-.2-.2 0-.6-.6 0-.7 .3-.7 .4-.3 .6-.3 1.6-.2 .3-.2-.2-.3-1.2-.7-4.2-1.2-1.7-.6-.3-.1zM367.1 212l-3.7 .7-.6 .3 5.4 .3 1-.1 1.7-.5 1-.3 .3-.4-1-.2-1-.1zM399.3 212.7l-1.6 .3 .2 .3 .2 .1 1.5 .2 1.3 .4 .7 0 1.2-.3 .7-.3-.1-.4-.8-.3-2-.2zM381.2 213l0 .4 0 .1 .4 .1 .3-.2-.1-.4zM445.8 213.4l0 .3 .2 .2 .4 0 .3-.2-.3-.4zM406.8 213.7l.2 .3 .3 .1 .3-.1 .5-.3-.5-.1zM375.4 214.4l0 .3 .1 .4 .4 0 .3 0 .2-.4-.3-.3-.5-.1zM387.9 215.1l-.6 .4-.7 .3-3 .6-4 1.3-.7 .4-.8 .6-.2 .4 .1 .3 .9 .4 1.3 .1 .5 .5 .8 .4 2.1 .3 1.3-.2 2.3-.5 .3-.3 0-.3-.6-.4-.4-.3 .8-.3 2.2 1 .8 0 .3-.4 0-2 .2-1 0-.3-.3-.4-.6-.2-1.6-.5zM456.8 215.4l-.7 .7-1.5 .6 .8 .3 .6 0 .4-.2 1.3-1.1 0-.3-.3-.2-.4 0zM361.7 216.1l-.5 .2-.3 0-2.4 0-2.3 .2-8.7 1.3-.9 .3-2.1 .8-1.9 .5-.8 .3-2.9 1.7-2.1 1.6-.6 .2-1.4 .2-2 1.5-3.5 1.6-.5 .3-.3 .3 .1 .4 .7 0 4.2-1.2 2.7-.5 6-1.5 2-.3 .6-.2 1.7-1.3 .7-.3 1.7 .2 .6-.2 .7-.4 .8-1 .5-.5 1-.3 2 0 .7-.2 1.3-.9 2.5-1.2 1.9-1.1 .3-.1 1-.1 .5-.3-.2-.1-.3-.1zM395.7 216.4l.2 .3 .4 .4 .2 .3-.5 .7 .3 .1 .3-.1 .7-.6 .8-.4 .3-.4-.3-.3-1.2-.3-.6 .1zM471.5 216.4l-.3 .3 .5 .3 1 0 .4-.1 .1-.2-.7-.3zM461 216.7l.1 .4 .3 .3 .8 .3 1.2 .4 1.3 .6 .7 0 1.9-.3-1.9-1-1-.7-1.3 0-1.7-.2zM484.8 218.1l-.4 0-.3 .3-.1 .7 .1 .3 .3 .4 .7 .1 .7 0 .9-.1 .4-.4-.1-.3-.2-.4-.4-.3-.6-.2zM475.5 218.4l-.1 .3 .3 .4 1.4 .4 .7 .4 .6 1.4 .4 .1 1.3-.3 1.9 0 .1-.3-3.3-1.4-.6-.7-.4-.2-1.7-.2zM402.6 220.1l-.2 .3 .2 .3 .4 0 .2-.3-.2-.3zM463.9 220.4l0 .4 .5 .3 1.6 .7 .7 .1 .4-.1 .1-.4-.5-.3-1-.4-.6-.4-.7-.1zM425.6 220.8l-1.3 .5-.6 .1 1 .4 1 .1 .6 .1 .7-.2 .1 0 .1-.4-.3-.3-.6-.4zM419.9 221.4l-.3 .4 1.4 1 .3-.2 .7-.6 .6-.2-.1-.4zM470.5 221.4l.9 1.4 .3 .2 2.4 .1 .6 .1 2.4 1 2.7 .5 .6 0 .4-.3-.2-.3-.4-.3-1.4-.5-1.4-.7-4.7-1.3-1.6-.1zM410.6 223.1l2.4 .5 .6 .3 .4 0 .3-.4 .7-.1 .4-.3-.4-.1-1.7-.1zM432 223.4l-.7 .4 0 .3 .5 .3 3.5 1 2.4 .8 2.3 .4 2 .9 2.2-.4 .5-.3 0-.3-.3-.4-.4-.2-3-.7-3-1.2-3.3-.4-1.7-.4zM420.4 223.8l-1.8 .8-.1 .2 .6 .3 3.6 .5 1.3 .4 1.3 .4 .7 .1 .7-.4-.3-.3-.8-.3-3.3-.7-.6-.4-.7-.8-.3 0zM370.2 224.1l-2.3 .3-.9 .4-.2 .3 1.1 .2 3.3 0 2.9-.5 .9-.4-.3-.3-1.1-.2zM447.5 224.4l2.9 1.6 2.6 .8 .6 .3 .8 .8 .6 .1 1.8-.2 .2-.2 .1-.1-.3-.4-.5-.3-2.3-.8-2.6-1.2-2-.5-1.4 0-.3 0zM398.3 225.5l-.1 .3 1.4 .5 .3 .2 .1 .3-.1 .7-.1 .3-.6 .7 .4 .2 .3 0 .7-.3 .3-.2 .5-.7-.2-1.4 0-.6-.9-.2zM408 225.8l-1 .4-1.4 .3-.4 .3 0 .3 .6 .4 .5 .1 2.7-.4 .6-.2 .3-.2-.2-.3-.7-.6-.4-.2zM394.2 226.5l.7 1 .5 0 .3-.4-.1-.4-.3-.2zM447.8 227.1l-2.1 .6-.1 .1 .1 .3 .5 .4 2.2 .4 .7 .2 .6 .1 .7-.1 0-.3-.7-.3-.3-.4-.2-.6-.2-.3-.3-.1zM321.8 227.5l-.3 .3 .3 .2 .5-.2 .2-.3-.4-.2zM388.4 227.8l-.2 .3 .7 .2 .8-.2 .2-.3-.6-.2zM363 228.5l-7.7 .6-2.4 .6-2.7 .3-2 1-2.1 .5-3.3 1.7-.7 .6-.2 .4 0 .3 .5 .3-.1 .4-.5 .3-.9 .3-.6 0-.3-.3 .2-.3-.4-.2-.3 .1-1 .7-2.3 1.3-2 .8-.5 .3-.3 .3 .1 .3 .3 .1 .4-.1 2-.8 3-.3 2-.7 2.3-.3 3-.7 1.7-.3 .6-.2 .9-.7 .2-.3-.3-.3 .5-.4 1.1-.1 .3 .1 .7 .4 1-.1 .5-.3 1.2-1.2 .6-.5 1-.3 2 0 4-2.2 2.1-.8 .3-.3-.3-.3zM458.7 228.5l-.1 .3 .2 .3 .5 .4 1.4 .5 1 .8 .4 .1 .6-.1 .8-.3 0-.4-.5-.3-1.3-.5-1-.7-1-.1zM467.8 228.5l.6 .3 .7 0-.2-.3-.5-.2-.3 0zM419.9 228.8l.5 1 .3 .4 .3 0 .5-.4 .1-.3-.4-.4-.9-.4-.3 0zM472.2 230.1l-.2 .4 .1 .3 .3 .2 1 .3 .3 0 .4-.1-.2-.4-.5-.5-.7-.2zM496.5 230.8l0 .4 .3 .1 .3 0 .2-.1-.3-.4-.2-.1zM474.6 231.8l.1 .7 .4 .3 .8 0 1-.3-.4-.3-.8-.4-1-.1zM461.1 232.2l-.2 .3 .2 .3 1.7 .7 .6 0-.3-.3-.7-.4-.7-.8-.3 0zM388.6 232.5l-2.4 .3 2.4 .5 2 .9 .3-.1 .6-.6 1-.7-.1-.3-.8-.3zM424.6 233.2l-.5 .3-.1 .3 .7 .2 .6 .1 .9-.3 0-.3-.3-.3-.6-.2zM468.1 233.5l.5 .7 .5 .3 2.3 .3 1 .3 1.5 .7 1.5 .4 .7-.1 .1-.3-.5-.3-5.6-2-1-.1zM419.5 234.2l.8 .8 .4-.2 .2-.6-.2-.2-.7-.1zM480.6 234.8l0 .4 .2 0 .3 .1 .2-.1-.2-.6zM436.8 235.8l-.8 .3-1.7 .1-3.3-.2-.6 .2-.1 .3 .5 .4 2.2 .4 3.3 1.2 2 .3 1.7 .8 .7 0 1-.3 1.3-.8 .4-.3-.1-.3-.3-.3-.6-.4-.7 .1-.7 .2-.6 .1-1.2-.1-1.1-.6-.7-1.1zM482 235.8l.2 .4 .2 .3 .6 .4 1.8 .5 .8 .5 .3 .6 .2 1 0 .4-.2 .3-.6 .3-.5 .2-2.1 .2-.2 .3 .8 1.4-.1 .3-1.1 1-.3 0-2.7-.8-.7-.9-.6-.3-.7 0-.4 .3 .1 .4 .5 .3 1.5 .4 .3 .3 .6 1 .4 .3 .7 .3 1.3 .2 .2 .2 .5 .9 .3 .2 3.3 1.1 .5 .5 .5 1 .4 .3 1 .5 .6 .8 .4 .4 2 .9 .5 .4 .3 .3 .2 .7 .2 1.4-.9 .4-1.1 .2-.2 .4 1.3 1.9 .7 .3 2.7 .4 0-.3-1.8-2-.4-1 0-.3 1.1-.6 .7-.1 1 .3 1 .4 1.4 .8 1.3 .3 .7 0 .3-.2 .1-.3-.2-1 .1-.3 1.3 .3 .2-.3-.2-.3-2.9-2.1-1.1-.3-1.3 .3-.7 0-1.8-.6-1.3-1-.5-1-.2-.4-1.5-1.2-.4-.1-1.3 0-1.3-.2-.7-.2-.3-.3-1-1.1-1.4-1.1-.3-.5-.2-1 .2-.2 .7 0 2.3 .5 2.7 .9 2.4 1.8 2.7 1.7 .9 .4 .3 0 .2 0 0-.4-3.5-2.6-2.7-1.1-2.7-2-.6-.7-.3-1 0-.3 .2-.3 .7-.4 1.4-.1 .5-.2 0-.3-.2-.4-.7-.4-1.7-.6-1.3-.6-1.7-.7-1.3-.4zM372.7 236.2l-1.3 .3-.8 .4-.2 .3 .5 .2 2 .1 4.3-.1 .7 .1 1 .6 .3-.3 .4-.6 1.2-.7 .1-.3-.3-.2-.7-.1-1.7 .1zM420 236.2l-1.3 1 .2 .3 4.1 .8 1.3 .6 1 0 .4-.4-.3-.3-.7-.3-3-.6-.7-.3-.7-1zM445.4 236.9l1.5 1 .5 .5 3.2 .8 .2 .3-.1 .4-.7 .6-.1 .4 .3 .3 .5 .1 .7 0 1-.8 .6-.3 1.4-.2 .1-.1-.5-.7-.6-.3-1.7-.6-1.7-.9-1.3-.5-.7-.2-1-.1-1.3 .1zM321.1 237.5l-.7 .7-.2 .3 .3 .2 .3-.1 .6-.4 .5-.7-.1-.3zM408.4 238.2l-.8 .5-1.5 .5-.2 .3 .2 .4 .5 .1 3-.5 .4-.3-.3-.3-.7-.8-.4 0zM327.4 238.5l-.6 .3-.5 .4-1.6 1.3 .1 .2 2-.7 .8-.5 .4-.6-.2-.4zM395.2 238.9l.2 .3 .5 .3 .4 0 .3-.3 0-.3-.3-.2-.7 0zM445.5 238.9l-1.9 1-.2 .3 .2 .3 .7 .4 1.7 .2 .4 0 .3-.2 0-.4 .6-1 .1-.7-.4-.2-.3-.1-.7 .1zM400.8 239.9l-.5 .6 0 .4 .6 0 .8-.4 .1-.3 0-.3-.2-.2-.3-.1zM364.8 240.5l-5.6 .5-2.7 .7-2 0-.6 .2-2 1.2-1.4 .1-.6 .2-2.8 1.5-.6 .7 0 .3 .5 .3 .1 .4-.3 .3-.5 .3-.8 .3-.7-.1-.3-.2 .1-.6-.4-.1-3.4 2.2-2 .7-.4 .5 .1 .4 .7-.2 1.6-.7 3-.2 2.4-.8 7-1.1 .8-.4 .8-.7-.4-.6 1.5-.1 .6 .4 .7-.1 1.3-.9 1.4-.7 1-.4 1.3-.1 .6-.1 1.8-1.1 2.6-1 1.2-.6 .2-.4-.7-.2-1 0zM455.6 240.5l0 .4 .6 .6 1.9 .9 .6 .2 .7 0 .3-.1 .4-.3-2.7-1.7zM324.1 240.9l-2.1 1-.7 .7 .2 .2 1 .2 1-1.2 1.1-.9-.1-.1zM419.5 241.2l.5 .9 .3 .1 .4-.3-.3-.4-.4-.2-.4-.2zM468.4 242.2l0 .4 .4 .3 .9 .2 .2-.2-.1-.3-.5-.4-.6-.1zM331.8 242.6l-.8 .3 .2 .1 .8-.1 .8-.3-.3-.2zM326.9 243.6l-1.8 .8-.6 .1-.7-.2-1-.5-.6 1.4-.7 1 .3 .2 .7-.1 2.3-1 2-.4 .9-.3 1.7-1-.6-.3-.6 0zM470.7 243.9l.1 .3 .3 .2 .6 0 .6-.2-.3-.3-.9-.3-.4 .1zM390.4 244.9l-1.1 .3 .4 .4 2.2 .9 .4 0 1.3-1.3-.2-.3-.8-.2zM458.6 244.9l.5 .4 .3 0 .1-.1-.4-.3zM463.9 245.2l.1 .4 .5 .6 .6 .4 .6 .1 1.7 0 .7 .1 3.3 1.1 .3-.1 .3-.2-.2-.4-.4-.1-1.3-.3-4-1.6-1.7-.2zM423.7 245.6l-.5 .3 .1 .3 .4 .2 1 0 .3-.2 .2-.3-.3-.3-.2-.2-.4 0zM418.9 246.6l.4 .6 .3 0 .3-.3 .2-.3-.5-.2-.3 0zM476.2 246.6l.2 .2 .5 .1-.1-.4-.4-.2zM477.6 247.6l.2 .3 .6 .5 1 .3 .7 0 .2-.1-.4-.3-.5-.4-.9-.3-.7-.1zM380.2 248.3l-3 .1-2-.1-1.1 .3-.7 .3-.3 .4 .5 .3 .6 .1 5-.1 .7 .1 1 .7 .3-.1 .7-1 .8-.4 .4-.3-.5-.3-.4-.1zM434.7 248.3l-3.2 .6-.7 .4 .6 .3 3.6 1.3 2 .4 1.9 1 1.1 .4 2.4 .2 1.6 .5 .7 .1 1.4-.6 .4-.3-.3-.7 0-.3 1.8-.3 .7 .1 .3 .2 1.7 1.6 2.7 .4 1.6 .7 .7 .1 1-.1 .2-.3-.5-.5-2.7-1.1-2-1.1-2-.3-.7-.2-1.8-1.2-1.8-.7-1.2 0-.5 .4 1.4 1 .3 .6 0 .4-1 .7-1 .2-.7-.2-.7-.4-.1-.3-.1-1-.4-.5-.7-.1-1.3 .6-1.1 .1-.6-.1-1.7-1.2-.7-.7-.3-.2zM326.6 248.6l-.8 .7-.3 .3-.1 .3 .4 .1 .3-.1 .8-.6 .5-.7-.2-.2zM481.1 249.3l.3 1.5 .4 .4 .6-.3 1.1-.3 .3-.3-.3-.4-.7-.4-1-.2zM332.3 249.9l-1.9 1.7 .1 .1 .3-.1 1.4-.4 .6-.4 .5-.5 0-.4-.1-.1-.4-.1zM421.6 250.3l.5 .3 .9 .2 1.1 .5 .6 .1 .7-.1-.1-.4-.7-.3-1.9-.4zM409.3 251.6l-.5 .3-.3 .4 .5 .3 2 .2 2 .5 .8 .3 .2 .4-.1 .3-.6 .6-.3 .3-.4 .1-3.3-.1-.9 .1-.4 .1-.3 .2 .1 .4 .5 .3 .7 .2 2.3-.1 .4-.1 1.3-.6 1.3-.1 .6-.3 .1-.3-.1-1 .3-.7 .1-.4-.2-.3-.5-.3-1-.4-1.3-.2-2.3-.2zM481 251.9l-.6 .4-1 .3-.1 .3 .6 .7 .6 .4 .9 .2 1 .1 .4-.3-1.2-2.1-.2-.3zM328.8 252.3l-1.2 .6-.4 .4-.2 .3 .2 .2 .6 .2 .4 0 1-1.3 .5-.4-.2-.2zM406.2 252.3l-.6 .3-.2 .3 0 .4 .4 .3 .5 .1 .4-.1 .5-.3 .3-.4 0-.3-.9-.3zM367.5 252.6l-4.6 .2-2.4 1.1-2.3-.2-.6 .3-.4 .3-.2 .3 .1 .4 .4 .4 .4 .2 .6 .2 1-.2 1.7-.7 .7-.2 4.3-.2 1 .3 1.4-.9 2.3-.6 .6-.4 .2-.3-.5-.2-.6-.1zM462.3 252.9l.4 .4 .4 0-.4-.4zM332.6 254.6l-1.4 .8-.7 .2-.7 0-1.3-.6-1.2 2.3 .2 .1 .7 0 2.3-1.2 2-.2 .9-.4 1.1-.6 .4-.4-1.4-.2zM466.2 255l.2 .6 .3 .6 .7 .1 .7-.3 0-.4-.4-.3-.6-.3zM353.5 255.3l-.7 .7-.1 .3 .2 .3 .5 .7-.2 .3-.5 .4-.8 .4-1 .2-.7-.1-.7-.4-.3 .1-1.7 1.1-.6 .2-1 .1-.7 .3-1.9 1.4-.2 .4 .4 .1 .3 0 1-.6 2.1-.6 1.3 .1 2-.6 1-.2 6-.8 3.2-1.1 .6-.4 .4-.3-.2-.1-.7-.1-4.3 .2-1 0-.6-.3 .4-1.7-.5-.2zM394 257.6l-.7 .1-.8 .3 1.1 .1 4.7 1 1 0 2-.4 .4-.4-.5-.3-1.9-.4-2.7-.2zM423.2 257.6l-.9 .3-1.6 .1-2.2 .6 .1 .2 3.4 .2 2.3-.2 .4-.2 .5-.3-.2-.3-.7-.4zM460.2 257.6l.3 .4 .2 .1 .6-.1-.2-.4-.4-.1-.3 0zM465.7 257.6l-1 .3-1.7 .1 .1 .3 1.6 .8 1 .3 1 0 .5-.1 0-.3-.8-1.1-.3-.3zM332.1 259.3l-4.5 2.4-.9 .6 .1 .2 .1 .2 .6 .1 1 .5 .7-.2 3.3-2.8 .8-1-.1-.1-.4-.1zM412.2 259.3l-.9 .2-2.3 .2-1 .3-.4 .3 1 .4 3.7 .1 1.7-.5 .2-.3-.3-.3-.9-.5-.4 0zM475.5 260l-.2 .3 .8 .9 .7 1.1 .3 .1 1-.4 .3-.3-.2-.4-.3-.3-1.1-.9-.7-.2zM339 260.3l-.6 .7 .1 .3 .7-.2 .5-.4 .1-.4-.3-.2zM487.2 260.3l0 1 0 .4-.4 .4-.6 .2-.4 .4 .1 .3 1.3 1.3 .4 1.1 .2 .1 1.3-.3 1.3 0 .4-.2-.2-.3-1.7-1.4-.3-.6-.3-1.4-.2-.5-.3-.4-.4-.2zM380.4 260.7l-1.6 .3-.8 .3 .6 .4 2 .3 2.3 0 2 .2 1.7 0 1.3 .3 2.4-.5 1.6-.3 .7-.4-2.7-.6-3.6-.2-2.7 .1-2-.1zM401.7 261.7l-1.4 .1-2 .1-1.6 .4-.3 .4 0 .3 .5 .3 1.4 .3 .7-.3 .9-.1 1-.1 1.4 .3 1.4-.7 .3-.4-.4-.4-1.3-.3zM492 263l-.3 .7 0 .6 .6 1.7 .5 .7 .6 .3 .4-.1 .4-.2 .1-.3-.1-.4-1.1-.6-.1-.4 .4-1 .3-.3 0-.4-.3-.3-.6-.2-.4 0zM475.5 263.7l-1.1 .4-.1 .2 .7 .7 .4 .3 .7 .2 1 .1 .5-.2-.1-.4-1.1-1.5-.3 0zM458.7 264.7l0 .3 .4 .2 .3-.2-.3-.3zM382.2 218.4l1.1-.1 .5 .1 .4 .3-.2 .4-.8 .3-1.6 .4-1 .1-.2-.1 .1-.4 .3-.3 .5-.4zM496.5 221.9l1.3 .1 2 .4 4 1.4 0 2.7-5-1.6-1-.5-.8-.6-.4-.7-.3-1zM346.2 234.2l.7-.2 .5 .2-.9 .2-.3-.1zM499.8 243.5l.7-.2 .6 .2 2.7 1 0 3.5-3-1.7-1-.7-.5-.7-.1-.7 .1-.3zM351.2 245.5l1.7 .1-.2 .3-1.5 .1-.6-.1zM489.4 249.2l1 .1 .6 .3 0 .3-.6 0-1.2-.3 0-.3zM499.1 252.9l.5 0 .5 .3 .2 .4-.2 .1-1.2-.4zM440.4 261.9l.6 0 1 .3 .7 .5 0 .3-.3 .4-.7 0-.4-.1-.5-.3-.3-.3-.2-.4 0-.3zM433.7 264l.6 0 .4 .1 1.3 1.1 .5 .2-.2 0-.8 0-2-.7-.5-.4zM445 263.9l.4-.1 .3 .1 .3 .2 .4 .6-.6 0-.7-.4-.2-.3z"/>
<path fill="#3c508b" d="M404 193.6l1.9 0-.9 .7-.7 .1-.5-.1-.2-.4 .2-.3zM397.9 194.5l1-.2 .7 0 .7 .3 0 .3-.3 .4-.7 .3-.7 .1-1 0-.4-.1-.2-.3 .3-.4zM392.6 195.6l.7-.1 .6 .1 .3 .3-.9 .7-.2 .4 0 .3 1.2 1 .2 .7 .1 .2 .3 .2 .4-.4 .2-.7 .3-.3 .8-.4 1-.1 1.3 0 1 .2 .4 .3 .4 .6 .2 .3 .4-.1 .1-.2 .1-.6 .2-.4 3.3-1.2 1-.2 .6 .2 1.5 .6 .1 .3-1.2 .3-.7 .4-.1 .3 .1 .1 .2 .2 .5 .2 2.3 0 9.3 1.5 3.7 .7 3.4 .2 2 .5 2.2-.7 .8-.5 .6-.1 1 0 1 .3 .5 .3 .9 .9 .3 .1 .7-.3 1-.7 .6-.1 1 0 1.1 .3 .6 .4 .1 .4-.5 1 .2 .3 .6 .1 .5-.1 .4-.3 .4-1.1 .3-.2 .7-.2 1.7 .1 2 .3 5.3 .4-2.1 .4-1.6 0-1.6-.3-.8 .3-.4 .3-.1 .3 .3 .3 .6 .1 1.7 0 .3 .1 .7 .6 3.7 .4 2 .4 2.6 .1 10.5 1.4 9.3 1.7 5.6 1.3-1.5 0-6.2-.8-6.6-.7-2-.1-1.3 .3 .3 .3 4 1.4 13.6 3.3 3.5 1 2 .7-.1 .1-.3 .1-2.4-.1-1.6 .2-.4 .3 1.1 1 .3 .4-.4 .3-1.3 .2-.3 .1 .5 1 .3 1.1 .2 .3 .3 .1 2 .2 .7 .2 .6 .5 .7 1 2.3 1.2 .3 .5 0 .3-.3 .3-.6 .1-1-.2-1.2-.5-.4-.4-.3-1-.3-.3-.8-.3-1.4-.1-.3-.2-.7-1.1-.3-.1-2-.3-1.3-.5-.6-.4-.5-.7-.3-.2-.6-.2-1.7-.1-1-.2-.5-.3-1-1-.5-.3-3-.5-1.3-.9-.7-.3-1.7-.4-.3 .1-.4 .2 0 .1 .2 .3 .5 .4 1 .2 2 .3 .3 .1 .4 .3 .5 1.1 .5 .3 2 .2 1 .4 1 1.1 .6 .4 1.4 .5 .4 .4 .2 .4 .1 .6-.2 .4-.5 .2-1.4-.2-2.2-.7-.7-.3 0-.7-.4-.3-.3 .1-.1 .2 .2 .3-.5 .3-1.3-.1-.7 .2-.9 .6 .3 .4 1 .5 1 .9 .6 .2 1.7-.1 1 .2 1 .3 1.4 .7 .6 .2 3 .4 1 0 .3-.3-.4-.7-.5-.4-1.7-.8-.3-.5 0-.3 .4-.3 .6-.3 .6-.1 1.4 .2 1.4 .5 .2 .3-.1 .7 .2 .3 .3 .4 1.5 1 .5 .4 .6 .4 1.7 .5 .8 .4 .5 .3 .5 .7 0 .6-.2 .4-.6 .2-.3 0-1.3-.2-4.4-1.3-.7 0-.6 .3-.3 .3 0 .3 .2 .4 .7 1 .1 .3-.1 .1-.6 .1-2.7-.4-.3 .2 1 1.1 .6 .3 2 .7 .7 .5 .8 1.1 .5 .4 1.4 .6 .4 .3 .3 .7-.1 .4-.3 .3-.7 .1-1.3-.4-1.3-.6-.5-.5-.3-.6-.6-.4-.6-.1-.9 .1-.3 .4-.1 .3 0 .3 .2 .4 .3 .3 1.2 .7 .9 .7 .6 .3 1.7 .6 .7 .4 .5 .7 .1 .6-.1 .4-.5 .4-1 .2-1.7-.2-1.6 0-1.7-1-.3 0-.4 .1-.1 .1 0 .4 .5 .5 .6 .2 1 .2 .7 .4 .8 .7 .3 .3-.1 .4-.2 .3-.5 .2-.6-.1-.7-.3-.3-.1-.7-1-.7-.3-1.3 .1-1 .1-.3 .4 .1 .3 .7 .7 1.8 .8 1.4 1.3 1.8 .9 .8 1 .4 .2 1.9 .5 1.1 .5 .3 .2 .6 1 .4 .4 1.3 .9 1 .9 2 .9 .7 .6 .4 .6 .1 .7-.2 .4-.3 .3-.3 .1-1-.1-1.7-.3-.3-.2-1.4-1.2-.6 0-.4 .3 0 .4 .4 .5 .6 .3 1.4 .3 1.9 1.5 .5 .7 .1 .3-.1 .4-.4 .1-1 0-.7-.3-.8-.5-.3-.3-.5-1-.4-.4-.3-.2-.7 0-.3 0-.2 .2 0 .4 1.5 2 1.1 .6 2.6 1 .6 0 .4-.1 .6-.6 .7-.2 1 .1 .7 .3 .7 .6 1 1.6 1.2 1 .2 .4 0 .6 .4 .7 .8 .4 1 0 1 .3 2.7 1.5 0 1.5-3.1 0-.3-.3-2.3-1.2-1.3-1.1-1.1-.8-1.5-1.3-1.1-.6-1 0-.5 .3-.5 1-.3 .2-.7-.2-.7-.4-.3-.3-.4-2-.4-.7-.9-.8-.6-.3-.4 .1-.2 .4 .6 1.3 0 .3-.2 .4-.5 .1-1 .1-.4 .1 .1 .3 .2 .4 1.8 1.6 .2 .7 0 .4-.2 .3-.5 .3-.5 .1-1.4 .1-.4 .2 .1 .3 .7 1-2.4 0-.4-.7-.2-.2-.7-.2-.3 .1-.2 .3 .1 .7-15.9 0-.3-.3-.5-.4-1.3-.6-2-.8-1.3-1.1-.7-.2-.6 .1-.2 .3 .2 .3 .6 .5 1.7 .7 1.3 .9 .6 .6-4.5 0-.3-.3-.8-.5-3.7-1.8-2.3-.9-1.7-1-2.3-.5-2-1.1-1.3-.6-4-.9-.7 .1-2 .5-1-.1-1.7-.6-2 .4-4.7 0-.8 .3-.4 .3-.3 .7-.1 0-.7 0-.7-.2-.3-.2-.7-.8-.3-.2-.3 0-.8 .7-.6 .3-1 .1-1-.2-.4-.2-.2-.3 .4-1 .5-.4 1.1-.1 2 .2 2.3-.5 .7-.3 .3-.3-.1-.3-1.2-.5-.7-.2-1.7 .3-4.7 .5-.7 .2-.1 .3 .7 .7 .5 1.2 .2 .2-.1 .3-.7 .3-1.1 .3-.5 .4-.1 .3 0 .4 .6 .6-.3 .2-1.7-.2-.7-.3-.3-.3-.2-1.4 .4-.3 1.1-.5 .3-.2 .1-.3-.2-.3-1.2-.7-.6-.5-.4 0-.7 .5-.6 .2-2.7 .1-1.6 .4-.7 .3-.1 .3 .3 .4 .6 .3 .4 .3-.3 1.4-.3 .3-.9 .3-.6 .4-.2 .3-.1 .7-.1 .2-.4 .1-.6-.1-.3-.2-.1-.4-.1-.6 .3-.4 .7-.3 .3-.3 .1-.4-.2-.3-.4-.3-1-.4-.4-.3-.3-.8-.3 0-.3 .8-.4 .2-.7 .2-1 .1-1.2-.2-.4-.3-.4-.7-.2 .4-.1 .6-.3 .4-1 .4-.4 .2-.3 .4 0 .3 .1 .3 1.2 .7 .1 .3-.1 .8-.2 .3-.4 .1-.4 0-.3-.1-.3-.7-.3-.4-1.4-.5-.3-.3-.4-1.2 .2-.3 1.1-.7 .1-.3-.4-.4-.6-.1-1.4 .1-5.6-.4-2.4 .1-2.3-.1-2.4 .4-1.6 .2-1 .5-.3 .4 .1 .3 .5 .1 1.7 0 2.3 .3 2-.1 3.9 .4 .5 .3 0 1.3-.2 .4-.8 .4-1 .3-.7 0 .3-.7 0-.4-.1-.3-.5-.4-.7-.1-1.4 .1-5.6 .1-2.4 .4-2.3-.1-1.7 .6-1 .1-.6 0-1-.4-.3 0-.4 .3-.7 .8-1 .5-1 .2-.7 0-1-.7-.6-.1-1.7 .8-2 .4-1 .6-.6 .6-19 0 2.2-1.1 3.4-.9 1.9-.7 .7-.3 1-.7-.3-.3-2.7 .2-3 1-.6 .1-1.4-.1-2 1-.6 .1-.7-.1-.3-.2-.2-.3-.1-.7 .1-.4 .8-.6 4.3-2.7 .2-.3 .2-.7-.3-.3-.4 0-.8 .3-1.8 1.4-2.4 1.1-2.1 1.5-.7 .7-.2 .3 0 .4 1.4 .2 .3 .4 .1 .7-.4 1-9.1 0 .2-.3 1.4-1.4 1.5-1.5 2.2-1.2 1.4-1.3 1.9-1.3 2-2.1-.2-.1-.3-.1-1.7 .4-6 2.4-1.4 .3-2.3 .2-1.7 .8-1 .4-1 0-.9-.2-.4-.3 0-.5 1.3-1.1 1.4-.8 1-.4 .3-.1 .7 .2 .5 0 .3-.4 .1-.7 .5-1-.2-.3-.2-.1-.7 .1-3.3 1.5-.7 .2-1 .1 0-2.6 .7-.4 1.6-1.7 2-.9 2-2.1 2.7-1.5 2.2-2.3-.5-.2-.9 .2-3.8 1.5-4.3 1.3-1.7 .3 0-10.1 3.3-1.7 .9-.7 1.5-1.7 0-.2-1.4 .1-3 1.4-1.3 .3 0-3 11.2-3.9 2.3-1.1 .1-.3-2.2 .3-5.1 1.3-1.3 .3-3.3 1.2-.7 .1-1-.2 0-2 .4-.3 .7-.7-.1-.1-.3 0-.7 0 0-4.2 .6-.4-.3-.1-.3-.1 0-2.9 1.8-.6 4.6-1.6 2.2-1.1 .2-.3-.7 0-1.8 .3-6.3 1.6 0-1.9 11.2-3.3 6.8-1.7 3.4-.8 2-.3 2.6-1 2.4-.6 .7-.3 1.6-1 1.4-.7 2.6-.7 2.7-1.2 5-1.9 2.7-.8 .6-.4 .3-.4 .2-.6 .6-.4 1-.2 1 0 .6 .2 .7 .4 .7 0 .3-.2 .8-.9 .9-.4 2-.4 1 0 .6 .1 .9-.6 1.5-.5 .7-.5 .2-.3-.1-.4-.5-.5-.5-.1 1.6-.4 1.2-.1 1 0 .7 .3 .2 .2 .5 1.3-.4 .3-1.3 .6-.4 .4 0 .4 .3 .3 1.1 .7 .4 0 .9-.8 1.1-.5 1-.2 2.3-.2 2.3-.5 .4-.2 .3-.3 0-.3-.4-.7 .1-1.3 .3-.4 .3-.1zM400.4 199.6l-2.8 .4-2.3 0-2 .6-.3 .4 .4 .3 1.9-.1 4 .4 6.7 .3 2.5-.3 .3-.3-1.5-.5-5-.8-1.4-.4zM374.1 201.3l-.4 1-.8 .9-.7 .3-2 .1-1 .2-2 1-2.3 .8-.5 .4 .5 .1 .7-.1 2-.8 2.3-.5 1-.4 1.6-.6 .1-.2 2 0 .6-.2 .5-.3 .2-.3-.2-.7-.5-.7-.3-.2-.3-.1-.4 .1zM387.2 202l-.3 .3-.6 .5-1.4 .4-3 .5-2.7 1-2.3 .8-2.7 1.4-1.3 0-.7 .1-.3 .3 0 .4 .3 .2 .4 0 1-.3 .6-.1 2.8 .9 3.6 .5 1 .1 2-.3 2.7-.1 1.3-.6 1.7-.3 .7-.4 1.6-1.5 .7-.2 .6 0 1.4 .5 .6 .1 1-.2 2.3-1 .5-.3 .2-.4-.5-.3-1.8-.3-4-.1-3.3-.5-.7-.1-.8-.3-.4-.7-.1-.1zM421.9 204.3l-.1 .4 .2 0 .6 0-.2-.4zM407.5 207l.1 .3 .4 0 0-.3zM401.6 207.3l-.4 .4-.2 .3 0 .4 .3 .1 .7 .2 .6 0 .7-.3 .2-.4 0-.3-.5-.4-.7-.1zM451.1 207.7l.1 .3 .7 .4 .8 .1 .4-.1-.1-.4-.6-.3-.7-.1zM426.4 208l-1.4 .5-4.7 .1-1.4 .4-.4 .4 0 .3 1.5 .7 .2 .3-.6 .4-.6 0-.8-.1-1.2-1-2.4-.9-.6 .1-1.4 .6-2.6 .3-1 .3-1.1 .3 .4 .3 3.7 .6 2 .6 2-.1 .6 0 3 1 1.7 .2 3 .3 2 .7 1.8-.6 .5-.3 .1-.4-.4-.6 .4-.4 .6-.1 1 .1 2 .7 .5 .3 .2 1.4 .3 .2 .4-.1 .3-.2 .6-.9 .7-.2 1.7 .1 1 .3 .4 .5 0 .6 .1 .4 .2 .1 .7-.3 1-.8 .3-.2 1-.1 1.7 0 .6 .3 0 .3-.3 .2-.2 .5 .1 .3 .4 .3 .7 .1 1-.2 .7 .2 .7 .6 .3 .1 4.3 .8 3.7 .1 1.3 0 1-.3 .1-.4 .5-.3 .8-.1 .2 .1 .4 .3-.1 .4-1.2 .1-.3 .1-.1 .1 .3 .3 .8 .3 1-.5 .6 .1 2.6 .8 1.4 1-2.1 1 .2 .4 1.5 .6 2.1 .7 1.5 0 .8-.3-.2-.4-2.5-1-1.2-1 .8-.3 .5-.1 2.3 0 .6-.3-.1-.3-2.7-1-1.5-1.1-2-.1-1-.2-.6-.3-1-1-.4-.2-2.3-.3-3.4-1.7-4-1.1-2-.9-.6 0-1.4 .2-.8 .3-.1 .4 .8 1-1.2 .3-.7 .1-2.5-1.1-.5-.3-.2-.4 .2-.3 .7-.9 .3-.1 0-.3-1.3-.2-.7 .1-.2 .1-.3 .3-.1 1.1-.5 .2-1.2 .1-1.7-.4-.5-.3-.5-.8-.3-.2-.7 0-1.3 .7-1.4 0-1-.3-3-1.8-.3-.1zM394 209l-.5 .4 .1 .3 1 .9 .3 0 .4-.5 .2-.7-.5-.4zM387.4 209.7l.6 1 0 .7 .3 .2 .3 .1 .5 0 .5-.3-.1-.4-1-.6-.6-.8-.3-.1zM406.6 210.7l.4 .2 .5-.2zM374.6 211.4l-1 .1-4 0-4.4 .5-3.5 .7-1 .3-.5 .4 .3 .2 .7 .1 4.7-.1 1.3 .1 .6 .4 .2 .6 .6 .3 .3-.1 .2-.2-.2-.6 0-.4 .7-.3 2-.5 2.3-.1 1.7-.9 .3-.2 0-.3-.7-.1zM400.6 211.7l-.4 .3-.6 .3-2.9 .4-1.4 .5-1.4 .2-.3 .3 .3 .1 4.7 0 2.7 .5 3-.3 2.7 .4 1-.1 1-.2 .2 0 .2-.4-.4-.3-.7-.3-2.3 .2-1 0-1.7-.8-1.7-.4-.7-.6zM380.8 212.7l-.3 .3 0 .4 .4 .4 .6 .3 .4-.1 .3-.2 .4-.8 0-.3-.4-.2-.6 0zM374.9 213.7l0 1.4 .2 .3 .5 .1 .6-.1 .6-.3 .1-.4-.2-.3-.5-.4-1-.4zM476.6 214.1l.1 .3 .5 .3 1.9 .8 .3 0 1.7-.4-.3-.4-.7-.3-1.7-.5-1.3-.1zM387.6 214.7l-.3 .4-.7 .3-3.3 .8-3.7 1.3-2.3 1.2-.4 .4-.2 .3 .2 .4 .3 .2 1.1 .4 2.3 .6 2.3 .4 1-.1 2.4-.3 1.6 0 .4-.1 .6-.5 1.7-.3 .5-.3 .7-2.1 .7-1-.2-.3-1.4-1-1.6-.5-1-.5-.4 .1zM362.3 215.4l-1.8 .4-4.3 .5-9 1.3-2.4 .9-2.6 .8-5.7 3.2-2 .7-1.6 1.2-.7 .5-3.4 1.4-1 .8-.4 .7 .4 .2 1-.1 4.1-1.1 5.5-1.3 3.8-.9 2-.3 .6-.2 2.4-1.1 2.3-.4 .7-.4 1.3-1.2 .7-.4 1-.2 1.3-.1 .7-.2 2.3-1.4 5.7-2.2 .4-.4 .1-.4-.5-.3zM395.1 215.7l-1.1 .7-.2 .3 .9 .7 .4 1 .5 .4 .3 .1 .7-.3 2.7-1.5 .2-.4-.3-.3-1.6-.5-1.7-.3zM478.8 216.1l0 .6 .3 .5 .3 .3 .4 .1 .6 .1 1.2-.3 0-.3-.4-.4-1.1-.7-.3-.2-.7 0zM421.3 216.7l0 .4 .4 .1 .4-.1-.1-.4-.3-.1zM407.4 219.4l.1 .4 .5 .2 .3 0 .5-.2-.2-.4-.6-.1zM402.1 219.8l-.3 .3 0 .3 0 .4 .2 .1 .3 .2 .7 .1 .3-.1 .4-.3 .1-.4-.1-.3-.4-.3-.7-.2zM425.6 220.4l-.9 .4-.7 .1-4 .1-1 .3-.3 .1 0 .4 .4 .3 .7 .3 .3 .4 .1 .3-.1 .3-.8 .5-1.3 .2-.7 .3 .3 .4 1 .5 4.4 .8 2.3 .6 1 0 1.8-.2-.1-.4-.5-.3-.8-.4-1.4-.4-2.6-.5-.7-.4-.2-.3 0-.7 .2-.3 .7-.5 .6-.1 1 0 1 .2 .3 .4 .1 .7 .3 .3 .3 .1 .7-.1 .5-.4 .1-.3 0-.3 .1-.4 .4-.3 .1-.3-.3-.4-1.6-1.1zM395 221.4l-.4 .4 0 .3 .7 .7 .3 .2 .3-.1 .6-1.1-.3-.4-.6-.1zM388.7 221.8l.1 .3 .6 .7 0 1 .5 .3 .4 0 .5-.3 0-.4-.8-.6-.7-.9-.4-.2zM414 221.8l-1 .5-1 .2-2.7 .2-1 .3-1 .1-.1 .3 1.8 .3 1.6 0 1.4 .2 .6 .2 1 .6 .7 0 1-.5 .7-.2 .3-.2 .1-.4-.1-.3-.3-.4-1.6-.9zM433 221.8l-.3 .2-.7 .8-2.1 .6 0 .4 .3 .3 1.1 .6 4 1 2.4 .8 2 .3 2.3 1 2 .1 2 .9 1.7 .3 1.7 .5 4.3-.2 .7-.3 .4-.6 .9-.2 1 .1 .7 .2 1 .9 2 .7 .7 .6 .2 .4-.1 .3-1.1 1 .2 .3 .7 .4 2.1 .7 1-.1 .2-.3-.3-.3-1.3-.8-.3-.6 .1-.3 .4-.3 .5-.2 1.6-.2 .2-.3-.5-.4-2.4-1-1.2-.8-2.4-.5-2.4-1.3-2.3-.8-2.3-1-1.3-.5-3-.5-1.7-.8-1.4 .5-.1 .4 .5 .4 2.9 .9 2.1 1.2 2.2 .5 .9 .3 .3 .4 .1 .3-.2 .2-.6 .3-1 .1-1-.3-.4-.3-.3-.7-.3-.4-.7-.2-2 .2-.6-.2-.8-.7-.6-.3-3.3-.7-1.8-.7-.5-.3 0-.4 .3-.7 0-.6-.4-.2-.3 .1-.4 .3-.1 .8-.3 .3-1.2 .2-1.4-.2-1.1-.3-.3-.3-.2-.7-.4-.4zM371.4 223.8l-3.5 .4-3.7 .9-.3 .3-.5 .1 7.2 .3 2.6-.6 1.7 0 .7 .3 .6 .6 .2 .7-.1 1 .3 .1 .6 0 .8-.4 .1-.4-1-1.3-.3-.7 .1-.3 1.1-.7 .1-.3-.2-.2-.7-.1-1.3 .2-2.7-.1zM401.3 224.1l-.3 .3-.8 .4-2.7 .3-1.9 .6-1.7 .1-.6 .3-.2 .4-.1 .3 .3 .5 1 .6 1 .3 .6-.1 .3-.3 .4-1 .5-.3 1.2-.1 .6 .2 .4 .2 .1 .3-.1 .3-.4 .3-1.8 .8-.2 .3 .6 1-.1 .7 .1 .7-.2 0-.4 .4-.1 .6 .3 1-.1 .3-1.1 .2-.2 .1-.1 .4 .3 .6 .4 .4 .3 .2 .4-.2 .6-1.3 1.4-.4-.5-1-.7-1-.1-.3 .9-.3 2.3-.3 .2-.1-.4-.7 .2-.3 .8-.7 .3-.3 .2-.7 .1-1 .3-.3 .7-.1 .3 .2 .7 .9 .9 .6 0 .7 .2 .3 .6 .3 .3 0 .2-.3-.1-.6 .1-.4 1.1-.4 3.6-.6 .4-.3-1.6-.7-1.4-.8-.3 0-1.7 .6-1.6 0-.4-.1-.5-.7-.5-.2-1.3-.4-.7-.6zM382.1 225.1l-.2 .4-.1 .3 .2 .3 .2 .3 .4 .1 .3-.1 .4-.3 .3-.3 .1-.3-.1-.3-.3-.2-.7-.1zM484.3 225.8l-.1 .3 .6 .5 .3 .1 .4-.2 .1-.4-.2-.3-.6-.1zM473.5 226.1l.3 .4 .6 .1 .7 0 .2-.1-.9-.4-.7-.1zM370.1 226.8l0 .3 .5 .3 .3-.1 .2-.2-.1-.3-.4-.3zM428.9 226.8l.3 .3 .8 .4 1 0 .6-.4-.2-.3-.7-.3-1 0zM321.7 227.1l-.7 .7-.5 .7 .3 .2 1.3-.3 .7-.5 .3-.4 .1-.4-.1-.1-.3-.2zM414.1 227.1l.6 .4 0-.4zM388.1 227.5l-1.4 1 .9 .2 1.3 0 1.4-.2 1-.4 .4-.3-.4-.3-2-.3-.7 0zM465.7 227.5l.4 .1 1 1 .6 .4 .7 .2 2.3 .4 .6 .9 .7 .7 1.6 .6 .4 .4 .4 .9 .3 .3 1.7-.3 1.7 .1 .3-.3 .1-.1-.4-.4-.5-.2-2.5-1-1.3-1.1-.4-.2-2.7-.5-1.1-.9-1.2-.6-2-.5-.7 0zM363.9 227.8l-5.7 .8-3 .3-2.7 .6-2 .1-2.3 1-2 .5-3.3 1.7-1.7 1.2-2 .7-1.4 1.1-1.3 .8-2.7 1-.6 .4-.5 .5-.2 .4-.1 .3 .4 .2 .7 0 2.7-.9 2.6-.4 2.7-.8 5-1 2-.3 2.4-1.1 2.3-.4 .7-.4 1.3-1.1 .7-.4 .6-.3 2.4-.3 2.6-1.6 3.1-1.1 .9-.5 .3-.3 .2-.4-.4-.3-.7-.1zM419.5 228.1l-.3 .4 0 .3 1.1 1.8 .4 .1 .3-.1 1.7-1 1-.1 0-.2-.3-.2-.7 .2-.4-.1-2.2-1.1zM475.4 228.1l.1 .4 .3 .3 .6 .3 1 .2 .5-.2-.8-.6-.7-.4-.7-.1zM382.9 229.5l-.2 .3 .2 .2 1.1-.5-.1-.2-.3-.1zM414.9 230.1l-.6 .4-.2 .3 .2 .3 .4 .1 .5-.4 0-.3-.2-.4zM381.5 230.5l-1.2 .7-.1 .3 .4 .3 .6 .1 .7-.1 .3-.1 .5-.5-.1-.9-.4 0zM401.8 231.2l.5 1 .3 1 .4 .3 .3 0 .3-.1 .3-.2 .1-.4-.1-.6-.3-.7-.3-.2-.7-.3-.6 0zM407.9 231.2l-.5 .3 0 .3 .6 .7 .3 .1 .3 0 .4-.2 .4-.6 0-.3-.4-.2zM391 231.8l-2.7 .4-5 .2-.5 .1-.4 .3 .1 .4 .8 .2 4.3 .2 1.7 .3 .6 .4 .8 .5 .2 .4-.1 1 .5 .2 .3 0 .4-.2 .1-.4-.7-1 .2-.6 .3-.5 1.3-.5 .3-.4-.1-.3-.8-.5-.7-.2zM468.5 231.8l-.2 .4-.2 .2-1 .2-.4 .2-.1 .4 .2 .3 .8 .7 .5 .6 .6 .2 2.4 .1 1 .3 1.5 .8 1.8 .3 1.2 0 .5-.3-.1-.4-.4-.3-1.5-.8-1-.7-1.7-.2-2.2-.6-.8-.4-.2-.3 0-.3-.1-.4-.4-.1zM424.8 232.8l-1.8 .6-3.7 .1-.9 .3 0 .4 1 .6 .3 .4 0 .3-.1 .3-.3 .5-.3 .2-.9 .4-.4 .3 .2 .3 .8 .4 3.6 .6 2.4 .7 1-.1 1.1-.2-.1-.4-1-.6-1.4-.4-2.6-.6-.6-.4-.2-.3 0-.7 .1-.3 .3-.4 .7-.4 1-.1 2.3 .2 1-.2 .7-.3 .1-.2-.1-.3-.4-.3-.9-.4zM430.5 233.2l.2 .3 1 .6 .4 .1 .5-.4 0-.3-.6-.4-1-.2zM413.6 234.5l-.5 .3-.5 .2-3.3 .1-2 .4-.1 .3 1.4 .6 1.7-.4 2 0 .7 .2 .4 .3 .2 .4 .2 0 .5-.7 1-.2 .2-.2 .1-.3-.2-.3-.8-.4-.6-.4zM332.8 235.5l-1.5 .7-.4 .3-.3 .4 .2 0 .7 0 1.3-.5 .5-.6 0-.3zM436.4 235.5l-.7 .3-1 .1-1.4 0-1.6-.3-1 0-.8 .2-.5 .4 0 .3 .5 .4 1.1 .4 2.7 .6 2.3 .8 2 .3 2 .9 2 .1 1.5 .9 .5 .2 2.7 .6 2.3-.3 2.7 .3 1.3 .5 .4 0 .6-.3 .2-.4-.7-.6 .2 0 .2 0 1.1 .6 2.6 1.1 1.1 .8 .3-.2 2.1-.4 .5-.2-.3-.4-2.2-1-1-.8-.6-.2-1.8-.4-2-1.1-2-.7-3.3-1.4-2.7-.4-2-.6-1.3 .2-1.7 .5-1 .1-1-.3-.9-.6-.5-.2-.3 0zM375.9 235.8l-3.7 .2-3.6 1-2.3 .2-.9 .3-.3 .4 .8 0 1.3-.3 1-.1 2.7 .3 2.3 .1 3-.2 1 0 .6 .2 .5 .3 .4 .7-.1 1 .3 .2 .3 0 .6-.2 .3-.4 0-.3-.4-.7 0-.6 .2-.4 .4-.3 1.5-.7 .1-.3-.5-.4-1.2-.2zM402 236.5l-.4 .4-.7 .4-2.5 .2-1.5 .6-2 .1-.5 .3-.1 .4 0 .3 .4 .3 .6 .4 1 .2 .5-.2 .8-1 .3-.2 1.4-.1 1 .3 .2 .3-.3 .7-1.3 1-.2 .3 .2 .4 .7 .2 .7 0 .6-.1 1.1-.5 .4-.3 .2-.4 0-.6-.6-1 0-.4 .6-.3 1.4 0 .3-.3 0-.4-.3-.2-1-.3-.7-.5zM383.9 237.5l-.2 .4 0 .3 .1 .3 .5 .3 .3 0 .3-.2 .5-.7-.1-.4-.4-.2-.6 0zM408.6 237.5l-1.3 1-1.7 .3-.6 .4-.1 .3 0 .4 .7 .6 .3 1 .4 .4 .3 .1 .4-.2 0-.3-.1-.6 .2-.4 1.2-.4 3-.6 .2-.3-1.2-.5-.7-.4-.6-.7zM327.3 238.2l-.6 .3-1.9 1.5-2.9 1.5-.9 .7-.6 .7-.1 .3 .2 .2 1.3 .2 .3 .3 0 .3-.3 1-1.2 1.4 .2 .3 .7 0 .6-.1 2.7-1.2 2.4-.5 2.3-1.1 3.6-1.1 2.4-1 .6-.4-.3-.1-.3 0-2.3 .3-3 .9-2.7 .4-2.4 1-1 .1-.3-.2-.3-.3-.2-.4 0-.3 .4-.7 1.4-1.1 2.7-1.2 .9-1 .3-.7-.2-.2-.6 0zM373.4 239.2l.2 .3 .3 0 .1-.3-.1-.1-.3 0zM427.9 239.2l.2 .3 .5 .4 .4 0 .6 0 .4-.4-.1-.3-.6-.2-.6 0zM367.3 239.9l-5.1 .6-3 .2-2.7 .7-2.3 .1-2 .9-2.3 .6-2.8 1.6-1.6 1-1.7 .6-1.3 1-1.3 .9-2.7 1-.8 .8-.2 .4-.1 .3 .4 .2 .7 0 2.7-1 2.6-.3 2.7-.8 6.4-1.1 1-.3 1.3-.6 2.1-.5 2.6-1.6 1-.4 2-.3 2-1.2 3-1.1 1.4-.7 .4-.4 .1-.3-.2-.2-.7-.2zM389.6 239.9l-.7 .6 .4 .3 .3 0 1.7-.2 .8-.4-.2-.3-1-.2-.6-.1zM463.7 240.2l.2 .3 .4 .4 .4 .1 1 .2 .4-.1 .1-.2-.4-.4-.7-.3-1-.1zM419.1 240.5l-.4 .4 .1 .3 .8 1.4 .4 .3 .7-.3 1-.6 .8-.1-1.5-.5-1.4-.8zM467.6 241.9l0 .3 .2 .4 .6 .5 1.3 .6 .4 .3 .3 .8 .3 .2 2.4-.3 .3-.1-.1-.4-.5-.3-2.1-1-.8-.7-.5-.3-1-.2zM414.6 242.6l-.7 .6 .1 .2 .3 .1 .5-.3 .1-.3-.1-.3-.2-.2zM383.3 243.2l-.5 .4 .2 .3 .6 .1 .3-.1 .2-.3-.2-.3-.3-.1zM402.2 243.6l.7 1 .4 1.1 .3 .2 .4 0 .3-.3 .1-.4-.1-.6-.3-.7-.4-.3-.6-.2-.7-.1zM408 243.6l-.4 .3 0 .3 .1 .4 .6 .4 .3 .1 .4-.2 .5-.7 0-.3-.6-.3zM457.5 243.9l-.4 .3 0 .4 .4 .3 1.6 .8 .6 .1 .7-.2 .1-.4-1.3-1-.5-.6-.3 0zM464.7 243.9l-.1 .3-1.2 .4-.5 .3 0 .3 1.2 1.4 .6 .3 2.7 .1 2 .7 1.7 .4 1 .1 .6-.3 0-.3-.2-.4-1.8-.8-.6-.6-1.7-.2-1.3-.4-1.5-.6-.2-.4 0-.3-.3-.2zM398.2 244.2l-.4 .4 0 .3 .2 .7-.1 .2-.1 .1-.9 .2-.3 .5 .3 .7 .4 .4 .3 .1 .4-.2 .6-1.3 1-.4-.1-.7-.4-.6-.5-.4zM390.5 244.6l-2.9 .3-2.3 0-.4 0-.4 .3 .1 .4 .3 .1 1.7 0 2 .1 2 .5 .7 .3 .8 .6 .2 .4-.1 .7 .1 .3 .6 .1 .3-.1 .1-.3-.5-1.1 .1-.6 .4-.5 1-.5 .3-.4-.2-.3-.6-.3-.9-.3-.6 0zM423.8 245.2l-1.1 .5-.7 .1-3.4 .2-.6 .2 0 .4 .8 .6 .5 .9 .3 0 .7-.9 .7-.5 1-.1 2.3 .2 .7-.1 .7-.4 .1-.1 .1-.3-.4-.3-.8-.4zM429.6 245.2l-.4 .4 .3 .3 .5 .3 .7 .1 .3-.4-.3-.4-.7-.2zM475.3 245.9l-.1 .3 .1 .4 .4 .5 2.2 1.5 2.2 .8 .3 .2 .5 .7 .1 .6-.2 .7-.7 .5-2 .1-.1 .1 .2 .3 1.6 1.3 .6 .4 2.7 .5 .7-.1 .2-.1-.2-.3-1.4-1.4-.3-.6 0-.4 .1-.3 .3-.3 1.9-.4 .2-.3-.4-.7-.8-.4-1.2-.6-1.2-.6-2.9-1.3-.5-.4-.4-.7-.4-.2-.7-.1zM337.8 246.9l-.8 .3-1 .7 .2 .2 .3 0 .8-.2 .5-.3 .4-.4 0-.3zM413.6 246.9l-.6 .7 .3 .3 1 .1 .5-.1-.1-.3zM381.2 247.9l-4 .2-2.3 0-1.3 .4-2.2 .8 .2 .3 2 .4 2.3 0 2.7-.1 1 .1 .6 .3 .6 .6 .1 1.4 .7 0 .6-.4 0-.3-.4-.7-.1-.3 .2-.7 .3-.4 1.5-.6 .3-.3-.1-.3-.6-.3-1.1-.1zM407.6 247.9l-.2 .4 1.2 1 1-.8 2.9-.6-2.5-.3zM434.7 247.9l-1.4 .4-1.3 .2-3-.1-.7 .3-.1 .2 .3 .4 4.2 1 2.3 .9 2 .5 3 1.2 2.4 .4 2 .5 2.6-.4 1-.1 .7 .1 1.3 .8 .7 0 1-.4 1 0 1 .3 1.7 .8 2-.2 .4-.4-.2-.3-.9-.7-3-1.2-1.7-1-2.6-.6-1.7-.9-2-.9-2.7-.2-2.6-.4-1 .2-1.1 .5-1 .1-.6-.2-1.4-.8zM333.1 249.3l-.9 .4-2.4 1.7-2.3 1.2-1.1 1-.2 .4-.1 .3 1.4 .3 .3 .4 0 .3-.3 .9-1 1.1-.2 .3 .2 .2 .7 .1 .6-.1 2.4-1 2.6-.7 2.4-.9 3.8-1.2 1.5-.7 .5-.4-.2-.1-.3-.1-1.7 .2-3.3 1-2.3 .2-2.7 1.1-.7 0-.3-.2-.4-.4-.2-.3 .1-.7 .3-.3 .5-.5 1-.6 2-.9 .4-.2 .7-.8 .3-1-.4-.2zM368.9 249.3l-.9 .3-.3 .3 .2 .2 .7 0 1.4-.5-.3-.3zM402.5 249.3l-.3 .3 .1 .3 1.3 .1 .4-.1-.1-.3-.9-.7-.4 .1zM418.5 249.6l-.5 .3 .3 .2 4.4 1 1.6 .5 1 .1 1.5-.1-.2-.3-1-.7-1.9-.6-3-.3-1.4-.4zM385.7 249.9l-.1 .4 0 .4 .3 .3 .4 0 .4-.4 .1-.3 .1-.4-.3-.2-.3 0zM399.6 249.9l-.8 .4 .1 .3 1.7 .1 .9-.4 0-.4zM396.1 250.6l-.6 .3-.1 .4 .3 .3 .6 .2 .3 0 .4-.2 .3-.3 .1-.4-.1-.1-.7-.2zM409 251.3l-1.4 .6-1.3 0-.7 .2-.5 .5-.4 .7 .1 .3 .2 .2 .6 .4 1 .1 .4-.1 1.5-.9 1.5-.2 1.2 .2 1.2 .3 .5 .4 0 .3-.4 .3-.9 .2-4.3-.1-.7 0-.3 .2-.4 .4 .2 .3 1.7 1 .5 .6 1.3-.4 2.4-.2 2.4-.6 .8-.4 .3-.3 .3-1 .5-1-.1-.4-.8-.6-.8-.4-1.6-.5-3.4-.2zM333.4 251.9l-.1 .4 .2 .1 .3-.1-.2-.4zM370.7 251.9l-5.1 .6-2.7 .1-2 .7-.7 .2-2-.2-.7 .3-1 .6-.6 .3-1.4 .1-.6 .2-1.2 .8-.5 .7-.1 .3 .4 .7-.3 .4-.7 .3-.6 0-.4-.8-.3-.1-.7 .1-1.3 1.2-.7 .5-.6 .2-1.4 .2-.6 .4-2.3 1.6-.2 .4-.1 .3 .2 .4 .7 .1 .3-.1 1.3-.8 1.1-.4 .6-.1 1.7 0 3-.8 6-.9 3.7-1.3 1.6-.8 .4-.3 .2-.4-.2-.4-.4-.1-1.3 0 0-.1 1-.2 1.6-.5 1.8-.4 .6 .1 1 .5 .4 0 .3-.2 .3-.7 .4-.3 1-.4 2-.5 .6-.3 .5-.5 0-.3-.8-.3zM487.4 252.3l0 .3 .4 .2 .3-.2 0-.3-.3-.2zM461.5 252.6l0 .3 .6 .6 2.3 1 1 .6 .5 .5 .3 .7 0 .3-.2 .4-.5 .3-1.1 .3-1.7-.2-2-.5-.6-.1-.5 .2-.3 .3 0 .3 .2 .4 .3 .3 .6 .3 2 0 1 .2 2.3 .8 1.4 .2 .8-.1 .2-.4-1-1.1-.4-.9 .1-.3 .3-.2 1.4-.5 .2-.3-.1-.4-.4-.3-.8-.5-2.7-1-.6-.4-1.1-.8-.9-.2zM401.2 253.3l-.5 .3-.1 .4 .3 .2 .4-.1 .4-.5-.1-.2zM377.1 253.6l0 .4 .1 .1 .4-.1 .2-.4-.2-.2zM419.8 253.6l-.2 .4 .4 .6 .7 0 .8-.3-.1-.3-.4-.3-.3-.1zM400.9 254.6l-.2 .4 .2 .3 .4 .1 .6-.1 0-.3-.3-.2-.7-.4zM454.4 256.3l-.3 .3 .1 .4 .5 .3 1 .2 .4-.2-.2-.3-.9-.7-.3-.1zM393 257.3l-1.5 .3-.5 .4 .3 .3 5 .7 1.2 .3 .4 .2 2.4-.3 2-.1 1.7-.8-.2-.3-.2-.1-1.3-.1-2.7-.4-2.7-.2zM477.2 257.3l.3 .7 .3 .3 .3 .1 1 .1 .8-.2-.1-.3-.4-.4-.6-.3-1-.2-.4 0zM427.7 257.6l-.2 .4 .8 .4 .7 .1 .3 0 .4-.2-.1-.3-.6-.4-.7-.1zM471.6 257.6l-.5 .6 0 .4 .3 .3 .3 .1 .7 0 .2-.4-.3-1-.2-.1zM481.8 259.3l-.1 .4 .1 .6 0 .4 .3 .4 .7 .3 .6 .1 .4-.2 .1-1.3-.2-.3-.5-.4-.4-.1zM473.9 259.7l.2 .3 1.6 1.3 .4 .7 .1 .7-.2 .3-.5 .3-.8 .2-1.3 .2 0 .3 1.1 1 .9 .6 .7 .2 2.4 .2 .2-.3-1.4-1.4-.2-.3-.2-.7 .1-.3 .3-.3 1.8-.6 .1-.1-.1-.3-2-1.9-.3-.1-2.1-.2zM481.4 264.7l-.4 .3 .1 .4 .3 .2 .4 0 .3-.2 .1 0-.1-.4-.3-.3zM416 195.6l1.3-.2 1.7-.1 .6 .1 .1 .2-.7 .3-1.4 .8-.6 .1-.7-.2-.8-.7zM410.3 195.9l1-.2 1 0 1.2 .2 .1 .4-.6 .6-.7 .2-1 .2-1.7 0-.9-.3zM385.6 197l1 0 .7 .3 .2 .7 0 .3-.2 .3-.7 .4-1.3 .3-1.4-.1-.8-.2-.2-.7 .1-.3 .2-.4 .7-.3zM382.2 206l1.1 0 .6 .2 .2 .1-.8 .4-2.4 .2-.7-.1-.5-.1 .5-.4zM423.7 210.3l1-.1 .7 .2 .4 .3 .4 1-.1 .3-1.1 0-1.4-.3-.4-.3-.1-.4 .1-.3zM447.4 212.7l.6 0 1 .2 1.3 .5 .4 .3 0 .4-.1 .3-.6 .5-.6 .2-1.3 0-.7-.3-.2-.1 .3-1-.2-.7 0-.3zM454 214.4l1 .1 .8 .2 .2 .4-.2 .3-.4 .4-1 .3-.7 0-.7-.2-.2-.2-.1-.3 .1-.3 .2-.4zM497.8 222.7l1 0 1.7 .3 1.1 .4 2.2 1 0 1.3-1.7-.3-3.1-1-.7-.3-.7-.7-.1-.4 0-.2zM493.4 225.1l1 0 1 .4 .4 .3 .1 .3-.1 .4-.3 .2-.4-.1-1.7-.8-.2-.3zM492.1 228.6l.7-.1 .6 .1 1.4 .5 .7 .4 .2 .3-.2 1 .1 .7-.1 .2-1.7-.6-1.6-1-.5-.6 .1-.5zM500.1 230.5l.7-.2 1 .3 .7 .6 .3 .3 0 .3-.3 .4-.4 0-1.3-.4-.7-.3-.3-.3 0-.4zM487.4 231.4l1 0 1.3 .4 4.4 2.2 2.7 1.1 1.1 .7 1.6 1.4 .6 .4 1 .3 1 .2 1-.2 .7-.2 0 2.3-1.3-.2-1.7 .2-.5-.1-.7-.4-.5-.3-.5-1-.6-.7-3.2-1.8-2-.5-.8-.4-2.2-1.5-2.3-1.1-.3-.4 0-.3zM496.8 232.3l1.1 .2 .6 .3 1.1 1-.1 .2-1.2-.5-1.2-.7-.4-.3zM501.1 235l.8 .5-.1 .1-.4-.1-.4-.3zM487.8 236.4l.6-.2 1 .1 .7 .2 .6 .4 .3 .3 .5 1 1.3 1 .6 .7-.3 .2-.7 .2-.4 .2 .3 .7 .5 .4 .6 0 .4-.1 .6-.6 .4 0 1.7 .5 1 .7 .3 .8 0 .3-.3 .4-.7 .1-2.4-.2 0 .1-.1 .3 .9 1 2.9 2.5 2.9 1.5 1.1 1 .4 .7 .3 1.4 .5 .6 .5 .3 0 1.7-.7-.4-2-1.7-.9-.6-1.1-.4-1.3-.3-1.7 .3-.6-.1-.7-.3-.8-.5-.3-.3-.7-1.4-1.6-1.4-.6-.3-2 0-1.4-.4-.6-.4-1.9-1.8-.3-.7 .2-.4 .6-.1 1.4 .3 1.3 .5 1.2 .7 4.8 3.2 .7 .4 1 .3 1 .1 .7-.1 .3-.2 0-.3-.3-.5-2.3-1.2-2.4-1.8-4.7-2.5-.9-.8-.2-.3-.1-.7 .1-.3 .4-.3 .7-.2 2 .1 .3-.3-.1-.3-.5-.7-.7-.5-1.6-.8-.1-.3 .1-.4zM491.3 242.2l0 .4 .1 .3 .4 .2 1 .1 .3-.2 .1-.1-.2-.3-.6-.6-.6-.1zM448.4 239.5l.6-.2 .7 .2-.1 .4-.6 .4-.3 .1-.3 0-.2-.2 0-.3zM500.1 243.8l.7 0 .7 .2 1.2 .6 .9 .6-.8 1.1-.3 .2-1-.3-1.1-.6-.6-.7-.1-.7zM494.1 254.9l.7-.2 .7 .1 1.2 .5 1 .7 .3 .3-.2 1 .3 .8 .7 .5 1.3 .6 1.4 1 1.1 1.1 .2 .4 .1 .3-.1 .1-.3 .1-.4 0-.7-.2-.7-.3-.6-.6-.7-1.1-.6-.6-2.3-1.2-1.4-1-.7-.6-.4-.6-.1-.7zM356.2 255.9l1.5 .4 .1 .3-1.3 .2-.6-.1-.2-.1 0-.3zM500.5 257.1l.6 .1 .6 .4-.2 .2-.7-.1-.5-.4zM410.3 261l.7 .1 .7 .2 .2 .4 0 .3-.3 .7-.6 .3-.7 0-.7 0-.6-.3-.3-.7 0-.3 .1-.4 .5-.2zM390.3 262.3l1 .1 .4 .3 .1 .3-.1 .7-.3 .3-.8 .3-1 0-.7-.1-.3-.5 0-.7 .7-.5zM399.6 263.6l1-.1 .7 .2 .2 .3 0 .7-.3 .3-.6 .2-.7 0-.6-.2-.2-.3 0-.7zM419.3 264l.8 0 .6 .3-.4 .3-.3 0-.6-.3zM488.8 265.6l1 0 1 .4 .7 .4 .9 .9 .4 .2 .5 .2-5.1 0-.3-1 0-.3 .2-.4zM494.8 267.4l.7-.1 .4 .4-1.9 0z"/>
<path fill="#355f8d" d="M398.6 194.6l.8 0 .3 .3-.3 .4-.5 .1-1 0-.2-.1 .1-.4zM411 195.9l.6-.1 1 .1 .5 .4-.2 .3-.6 .4-1 .1-1 0-.5-.1-.2-.4 .4-.3zM391.6 196.3l.7-.1 .3 .1-.1 .7 .2 .3 1.2 1 .6 1.3 0 .4-1.6 .6-.3 .4 .2 .3 .5 .2 2-.1 4.3 .3 6.4 .3 1.6-.1 1.7-.3 .2-.3-.8-.3-2.1-.4-4-.6-1-.4-.2-.3 .3-.7 .2-.6 .2-.4 2.9-.9 1-.1 .3 0 .8 .4-.1 .3-.7 .3-.3 .3-.1 .4 .2 .3 .9 .4 2.3 0 8.9 1.3 4.1 .8 3 .2 2.4 .6 3.3-1.1 .7-.1 1 0 .6 .3 .5 .3 .5 .7 .7 .2 .7-.2 1-.8 .6-.1 1 0 .9 .2 .5 .3 .1 .4-.1 .3-.5 .7 .2 .3 1 .3 .6-.1 .4-.2 .4-1 .3-.3 .6-.2 1.3 0 1 .2 .2 .3-.5 1 .2 .4 .8 .1 1.7 .1 .3 .1 .7 .6 .3 .1 1.3-.1 2 .2 2.4 .5 2.6 .1 6.7 .9 6.8 1 4.9 1.1 .3 .2 .7 .1-1.2 0-8.8-.8-2.1 .1-.6 .4 .7 .3 4.7 1.5 9 2.2 5 1.3 1.8 .7 .1 .3-1.2 .2-1-.1-3.4-.9-2-.4-1 .2-.2 .4 .2 .3 1.4 1 .3 .3 1 1.9 .7 .3 2 0 .3 0 .7 .5 .4 .7-.1 .7-.3 .1-.7 0-1.2-.1-.9-.4-.5-.3-.7-1-.4-.2-2-.1-1.3-.4-1.2-1-.8-.4-2.4-.5-2.3-1.1-1-.3-1.3-.2-.9 .2 .1 .3 .8 .7 .6 .2 1.7 .3 1 .3 .3 .3 .6 .9 .4 .3 2.7 .5 .7 .5 .6 .7 .5 .3 1.9 .8 .4 .6 0 .6-.4 .4-.3 0-1.4-.2-1.5-.5-.5-.3-.4-1-.6-.3-.7 .1-.3 .2 0 .3-.3 .2-1.4 .2-1.3 .5-.7-.1-1.3-.4-.6-.4-.3-.3 0-.4 .9-.2 2.3 .1 .7-.1 .2-.1 .1-.4-.3-.3-.3-.2-2.6-.8-.6-.3-.8-.8-.4-.2-1.6 0-1-.2-1-.5-.7-.7-.7-.4-2.3-.4-3.7-1.7-3.7-.9-2-.9-.6-.1-2.4 .5-.4 .2 .1 1-.3 .2-1-.1-1.2-.4-.7-.3-.2-.4 0-.3 .4-.4 1-.6-.1-.3-.6-.3-1.6-.1-.7 .2-.3 .2-.2 1-.2 .3-.7 .2-.6 0-1-.1-.7-.3-.3-.3-.7-.8-.3-.2-.7-.1-1.3 .8-.7 0-.7 0-3-1.4-1-.7-.3 0-1.3 .4-1 .2-3 0-2.1 .2-1.1 .4-.9 .6-.3 .1-1-.2-1.3-.5-.7 0-2 .7-2.7 .3-1.6 .4-1.4 0-.6 .3 .1 .3 .5 .2 5 .4 2.4 .8 2-.1 .6 0 3.4 .9 4.3 .5 2 .7 2.3-.7 .5-.3 .3-.7 .3-.2 1 0 1 .2 .7 .3 .2 .4 .1 1.1 .1 .2 .2 .1 .7 0 .3-.2 .6-.9 .4-.3 1.3-.1 1.4 .3 .5 .5-.1 1.3 .2 .1 .7-.1 1.4-1.1 .3-.1 .7-.1 1 0 .6 .3 .2 1 .4 .3 .8 .2 1.3 0 1 .7 .3 .1 2.4 .2 2.6 .6 5.4 .1 1 .5 .7 .1 1-.3 .6-.1 2 .5 .9 .4 .4 .4 0 .3-.6 .5-1.6 .5 .5 .4 4.1 1.4 2.3 0 .7 .1 2 1.2 .7 0 1.6 0 1 .2 2.1 1 .6 .2 1.4 .1 2.3 .4 1-.1 .3-.2-.2-.3-.5-.7-.6-.4-1.8-.9-.2-.4 .1-.3 .2-.3 .7-.2 1.3 .1 1 .4 .4 .3 .3 1 .3 .4 1.5 1 .2 .3-1.1 .4-.4 .3 .1 .3 .7 .8 .4 .2 .6 0 .4-.3 .3-.7 .3-.2 1.4 .3 1 .4 .7 .5 .2 .7 0 .3-.4 .4-.5 .1-.8-.1-1.1-.4-2.1-.8-2.4-.3-.6 .2-.5 .3-.2 .3 0 .3 .5 1-.1 .4-.7 0-1.4-.3-1-.3-2.4-1.4 .8-.4 .4-.3-.2-.3-.2-.2-3.1-.6-.4 .1-.3 .3 .4 .4 1.3 .6 .4 .4-.1 .3 0 .3 .2 .4 .5 .5 2.7 1 1 .9 .7 .4 1.6 .5 .7 .4 .4 .3 1 1.1 1.7 .9 .4 .3 .3 .7-.1 .3-.3 .2-.7 0-1.7-.5-.6-.4-.6-.9-.4-.4-2.4-.6-.7-.7-.5-.3-2.9-1-1.6-1.2-.6-.3-1.7-.3-2.3-1.4-3.8-1.2-.9-.2-.3-.1-.4 .2 0 .1 .5 .3 1.9 .9 1 .9 .5 .2 2.1 .5 .7 .3 1.3 1.3 1.5 .6 .5 .4 .4 .6 0 .4-.2 .3-.2 .1-.6 .1-1.4-.2-1.1-.3-.7-.4-.3-.3-.1-.7-.4-.3-.4-.1-.4 .1-.9 .7-.7 .2-.5 .4 0 .4 .2 .3 .8 .7 .5 .6 .4 .2 .3 .1 1.7 0 1 .1 .6 .2 2 1 2.7 .3 1-.2 .1-.3-.2-.4-.5-.4-1.7-.9-.2-.3 0-.4 .5-.3 1-.2 1.8 .2 .7 .3 .3 1 .5 .7 1.2 .7 .9 .7 2.5 1 .8 .5 .4 .5 .1 .6-.2 .4-.3 .3-.3 .1-1 0-2.7-.4-.7-.1-1.3-.7-.7 0-.4 .4 0 .4 .3 .6-.1 .4-2.5 .5-.3 .1 0 .4 .5 .7 .4 .3 2.1 1 1.4 1.3 1.6 .8 1 1.2 .4 .1 1.6 .3 .8 .3 .5 .4 1.1 1.3 1.4 1 .9 .9 2 .9 .8 .5 .3 .4 .2 .7-.2 .6-.4 .3-.7 0-1-.2-.9-.4-.8-.7-.2-.3 .3-.7-.1-.4-.3-.3-.7-.1-.4 .1-.1 .4 0 .3-.1 .3-.5 .4-.2 .3 0 .4 .3 .6-.3 .4-.7-.1-.6-.2-2-1.6-.4-.5-.1-.7 .1-.3 .5-.3 1.9-.2 .2-.2-.3-.6-.7-.7-2.6-1.4-3.1-1.3-1.2-1.2-.7-.3-1 0-.4 .2-.1 .6 .3 .7 2.3 1.7 2.6 1 .4 .3 .3 .7 0 .7-.2 .3-.5 .3-.7 .1-1.6-.2-.7 .1 .3 .4 3 2.1 3.4 .7 1 .4 .6 .7 1.4 1.9 .3 .4 .7 .3 3 1 .6 .1 .7-.2 .7-.6 .3-.1 .8 0 .8 .3 .4 .4 .9 1.3 1.2 1.3 .3 1 .5 .7 .8 .5 1.7 .2 .6 .2 2.7 1.4 0 1.4-2.8 0-.5-.5-2.4-1.2-2-1.7-1.5-1.3-1.5-.7-.7-.1-.7 .1-.4 .4-.5 .8-.4 .1-.6-.3-.4-.3-.2-.3-.2-1.4-.6-1-1-1.1-.6-.4-.4 0-.4 .2-.2 .3 0 .4 .7 1 .1 .3-.1 .3-.4 .3-.3 0-.7-.1-.7-.4-.2-.4 0-.7-.2-.3-.4-.4-1.2-.3-1.3-.1-.2 .1 .2 .1 .2 .6 .5 1.3 .3 .3 2 .9 2.3 2 .4 .5 .1 .3-.1 .4-.4 .4-.6 .2-.7 0-2-.4-1-1.3-.3 0-.7 .2-.3 .2-.1 .3 .1 .5 .3 .4 1.5 .1 .5 .2 1.4 1.5-1.9 0-.2-.7-.6-.6-.3 0-.1-.2-1 0-.6-.2-1.7-1.1-.8-.9-.2-.7 .1-.3 .6-.4 1.7-.3 .1-.3-.2-.3-2.3-2.1-.3-.1-2.1-.2-1-.2-.3-.1-.3-.4-.4-1-.3-.3-.3-.1-.7 0-.4 .4-.2 .7 0 .3 .3 .4 .3 .2 1.7 .4 2 1.4 .7 .7 .2 .6 0 .4-.3 .3-.6 .3-2 .2-.3 .2 .3 .3 2.3 1.7 4 .8 .4 .1 .3 .3 .3 .8-15.4 0-.2-.3-.5-.4-1.3-.6-2.3-1-1.4-1.1-.9-.1-.7 .1-.1 .4 .2 .3 .6 .5 2.7 1.4 .6 .5 .3 .3-3.9 0-.3-.3-.8-.5-3.6-1.8-2.7-1-1.7-1-2.3-.6-3.3-1.6-2.4-.5-1.6-.4-.7 0-1.7 .5-.7 0-.6 0-1.7-.6-2 .4-2-.1-2.7 .1-1 .2-1 .9-.7-.1-.6-.3-.7-.8-.3-.2-.2-.3 .9-.4 1.7-.3 .7-.4 .6-.4 .3-.1 2 .6 .6-.1 .4-.3-.1-.3-.5-.4-.7-.2-.7 0-1.3 .5-2.7-.7-1.7 .3-5.1 .5-.6 .3-.1 .3 .1 .4 .7 .7 .3 1-.1 .3-1.5 .4-.4 .2-.2 .4-.2 .7-.3 .3-.6 0-.6-.3-.2-1 .1-.4 1.4-.6 .3-.4 .1-.3-.1-.3-.5-.4-.8-.3-.9-.7-.5-.1-1 .8-.6 .1-2.7 0-1.7 .5-.6 .4-.1 .3 .1 .4 1 .6 .1 .4-.1 .6-.2 .4-.8 .3-.4 0-.2-.3-.3-.7-.3-.3-1.5-.7-.6-1.3 0-.4 .3-.2 1-.5 .3-.2 0-.4-.7-.3-1.3-.1-3-.3-2.7-.2-4 .1-1.5 .4-.5 .4 .2 .3 .5 .2 5.3 .7 1 .5 0 .3-.4 1.3-.4 .4-1.3 .6-.2 .4-.2 1-.2 0-1-.1-.3-.3-.3-.6 0-.4 1.2-1 0-.3-.1-.3-.5-.3-7.6-.3-2.4 .1-2.3-.1-2.4 .4-1.6 0-1.3 .8-.3 .4 0 .3 .2 .2 .7 .1 1.7 0 2 .3 2.3 0 3.7 .3 .3 .1 .1 .3-.1 1-.3 .4-.7 .2-.3 0-.2-.2-.2-.7-.4-.3-.2-.2-.7-.2-5.3 .3-2-.1-2.7 .4-2-.1-1.4 .5-1.3 .3-.6-.1-1-.3-.4 0-.3 .1-.6 .7-.4 .4-1 .3-1 0-1.4-.5-.6-.1-1.7 .8-1.7 .4-.6 .2-1.2 .9-.2 .3-18.5 0 .8-.5 1-.5 3.4-.9 2.1-.8 1.4-.7 .5-.3 .3-.3-.3-.2-.3 0-3.4 .2-2.3 1-1 .1-1-.2-.4 0-2 1.1-.6 .1-.7-.1-.3-.3-.2-.4 .1-.3 .1-.4 .8-.6 2.2-1.2 2-1.4 .4-.4 .2-.7 0-.3-.6-.2-.7 .1-.7 .3-1.6 1.4-2.7 1.3-1.9 1.4-.8 .7-.4 .7 0 .3 1.4 0 .4 .2 .3 .5-.1 .3-.5 1-2.9 0-.4-.3 0-.7-.4-.1-.4 .1-.3 .3-.1 .4 .2 .3-4.4 0 .5-.7 2.5-2.3 .6-.4 1.4-.7 1.6-1.5 2.1-1.4 2.1-2.1 0-.3-.8 0-1.7 .4-6.7 2.4-1 .2-2 .2-2.7 1.2-1 .1-.4-.1-.4-.4-.1-.3 .5-.7 1.8-1.2 1-.3 1 .2 .6-.2 .5-.5 .7-1.3 0-.4-.1-.3-.4-.3-1-.1-3.3 1.8-.7 .2-1 0 0-2.2 .7-.4 1.6-1.6 1.7-.9 .7-.4 1.6-1.8 2.7-1.6 2.9-2.8-.2-.1-.3 0-1.7 .4-3.4 1.3-4.3 1.3-1 .3-1 .1 0-3 .3-.2 .2-.4 0-.3-.5-.4 0-5.3 2.7-1.4 .9-.6 2.9-2.7 .1-.4-2.3 .5-3.3 1.3-1 .2 0-2.6 12.5-4.4 1.4-.7 .5-.3 .1-.3-.8 0-1.3 .2-6.7 1.6-4 1.5-.7 0-1-.2 0-1.6 2.3-1.7 2.4-.9 .8-.9 .3-.7-.5-.2-.3 .1-1 .3-.7 .5-1 1-.6 .5-.7 .3-1 .3 0-3.9 1-.6 .1-.3-.4-.1-.7 0 0-2.6 2-.6 5.6-2.1 1.4-.7 .5-.3 .2-.3-.7-.1-1.7 .3-7.3 1.9 0-1.6 10.6-3.2 7.8-2 3-.7 2-.3 3-1.1 2.3-.6 2-1.2 1.4-.6 2.6-.7 2.7-1.3 5.2-1.9 2.5-.7 .9-.6 .9-1 .9-.4 1 0 1.3 .6 .7 .1 .3-.1 .7-.9 .6-.5 1-.4 1.4-.2 1 .2 .1 .2-.1 .7-.4 .6-.6 .4-1 .2-2.4 .3-2 1-2.3 .8-1 .7 0 .3 .3 .1 1-.1 2-.8 3.2-.8 2.5-.9 2.3-.4 .7-.4 .3-.3 0-.4-.4-.7-.5-.6-.1-.4 .5-.3 1.5-.6 .5-.4 .2-.3 0-.7 .3-.3 1.7-.2 .7 .1 .3 .4 .2 .7 0 .3-1.7 1-.3 .3 0 .4 .3 .3 1 .7 .5 .2 .3 0 .4-.2 .7-.7 1-.4 1.6-.3 2-.1 2-.5 .8-.4 .3-.3 0-.3-.5-.7 0-.3 .1-.7 .1-.3 .5-.4zM386.9 201.6l-.3 .7-.4 .4-.6 .2-3.7 .7-2.3 .9-2.7 .8-2.3 1.1-2.4 .4-.3 .2-.7 .8-1.2 .6-.4 .3 .3 .1 .7 .1 2.6-.6 1-.1 7 1 2.7-.4 2.4 0 .6 .2 .2 .7 .4 .7 .2 .3-.1 1 1 .2 1-.2 .3-.3-.1-.4-.9-.6-1-1.1-.6-.3-.2-.3 .3-.3 .5-.3 1.8-.4 .5-.4 1.1-.8 .6-.4 1-.1 1.7 .3 1-.1 3-1.2 .5-.3 .1-.4-.6-.4-1.3-.3-4.4-.2-4-.5-.6-.3-.3-.3-.4-.8-.3-.1zM421.5 204.3l0 .4 .5 .3 .3 0 1-.3-.3-.4-.7-.2-.3-.1zM424.7 204.7l.6 .2 .4-.1 .3-.1-.3-.3-.4 0zM406.6 207l0 .3 1.4 .3 .8-.3 .1-.3-.6-.2-.7 0zM401.3 207.3l-1.4 1.2-2.3-.1-2 .4-1.3 0-.9 .2-.2 .4 .1 .3 1 .9 .3 .2 .3 .1 .4-.3 .4-.9 .6-.5 2.6-.1 1.4-.4 2 .1 1-.3 .5-.5 .1-.3-.4-.4-1.2-.2zM450.1 207.7l1.3 .7 1 .3 .6 .1 .5-.1 0-.3-.1-.4-.5-.3-1.5-.2-1 0zM381.2 210.4l-.1 .3 .1 .3 .4 .3 .3 0 .3-.3-.3-.5-.3-.2zM370.6 211.4l-4.4 .4-3.6 .6-2.4 .6-.6 .4-.2 .3 .5 .1 1 .1 5.7-.1 .7 .3 .3 .6 .4 .4 .9 .1 .3-.1 .2-.4-.2-.6 .1-.4 .3-.1 .4-.2 1.2-.3 1.7-.1 1 .2 .5 .5 .2 .7 0 1 .6 .2 1 0 .5-.2 .4-.3 0-.4-.2-.3-1.8-1.4-.1-.3 .3-.3 1-.7 0-.3-.7-.3-2 .2zM400.5 211.4l-.6 .6-.6 .2-3 .4-2.7 .6-.3 .2-.2 .3 .5 .3 2 .1 2.7-.2 1 .1 2 .5 2.7-.3 2.3 .3 1 0 1.2-.1 .8-.2 .4-.1 .1-.4-.8-.6-.7-.2-2 .2-1 0-1.8-.7-1.5-.4-1.1-.9-.3 .1zM382.9 212l-2 .4-.5 .3-.2 .3 .1 .4 .2 .3 .5 .4 .6 .1 .6-.2 .7-.9 .7-.5 1.5-.2 .7-.4-1.9-.1zM387.8 214.4l-.8 .7-.4 .2-3 .7-3.7 1.2-3.3 1.7-.7 .2-1.3 0-.4 .3 0 .4 .4 .1 1.3-.1 1.4 .6 1.3 .4 4.3 .7 3-.4 1 0 .7 .2 .3 .1 .3 .4 .8 1 .1 .3-.1 .7 .1 .3 .8 .1 .7 0 .5-.4 0-.4-.8-.7-1.4-1.6 .1-.3 2-.7 .4-.3 .5-1.2 .4-.4 .6-.4 1 0 1.4 1.1 .6 .2 .4-.1 1.3-.8 1.6-.8 .5-.3 .1-.4-.2-.3-.8-.3-2.9-.7-.6 0-1.4 .5-1 .2-.6-.2-1.4-.7-1.6-.5-.7-.4-.3 0zM361.4 215.4l-7.9 1.1-3.6 .7-2.7 .3-2.7 1.1-2.3 .6-5.4 3-2.6 1.1-2.1 1.5-1.3 .6-1.6 .5-.7 .4-1.3 1.2-.2 .3 0 .3 .5 .2 1-.1 4.9-1.4 6.9-1.7 1.9-.4 2.3-.3 2.4-1.1 3-.7 2.3-1.8 1-.3 2-.3 .7-.3 1.2-.8 .7-.4 5.1-1.9 .8-.4 .3-.3 .1-.4-.3-.3-.3-.1-1-.1zM421.3 216.4l-.4 .3 .1 .4 .3 .3 .7 0 .8-.3-.3-.4-.8-.3zM424.3 216.7l-.4 .4 .8 .1 .3-.1-.3-.4zM406.9 219.4l.1 .4 1 .4 .6 0 .6-.4 0-.4-.9-.3-.7 0zM401.8 219.8l-.2 .3-.2 .7 .3 .3 1.3 .2 .5-.2 .4-.3 .1-.4-.1-.3-.3-.4-1-.3-.3 .1zM448.3 220.1l1.4 .5 .3 .1 .4-.1 .1-.2-.3-.3-.5-.2-1-.1zM425.4 220.4l-1.4 .4-4 .1-1 .2-.4 .2-.2 .1-.1 .4 .3 .3 1 .5 .3 .2 .1 .3-.4 .5-.6 .2-1.4 .1-.5-.1-.8-1.1-1.7-1.1-.3-.1-.3 .1-1 .6-.7 .1-2.7 .2-2.6 .4-.5 .2 0 .3 .5 .3 1.6 .3 1.7-.1 1.3 0 .7 .2 1.2 .7 .5 .1 1.6-.5 .7 0 1.4 .7 1.3 .4 4 .7 2.3 .6 3 .1 1.4 .7 1 .1 .8-.2 .4-.4-.1-.3-.5-.3-.6-.1-1.7-.1-3-1.4-2.7-.4-1.1-.4-.2-.3-.1-.4 .1-.3 .3-.4 .7-.3 1.4 0 .8 .4 .4 1 .4 .3 .7 .1 1.3-.6 .7-.1 1.5 .9 1.5 .6 3.6 .8 2 .8 2.4 .3 .6 .2 1.4 .7 2 .2 1.9 .8 2.1 .4 1.7 .5 5.6-.2 .9 .6 .5 .1 .3-.1 .2-.3-.2-.3-.3-.1-1 0-.3-.3 0-.3 .6-.3 .7 0 .7 .3 .8 .7 2.5 .9 .5 .4 .2 .4-.2 .3-1.3 1 .4 .3 2.4 1 1 .3 .7-.1 .6-.2 .1-.3-.4-.3-1.3-.7-.3-.3-.2-.4 .2-.3 .6-.3 2-.1 .5-.3-.1-.3-.5-.4-2.7-1-1.5-.9-2-.5-2.7-1.3-2.4-.8-2.3-1-1.3-.5-2.7-.5-2-.9-1.7 .6-.2 .1-.1 .4 .3 .4 .7 .3 2.3 .6 1.4 .7 .2 .3-.9 .2-.7 .1-.6-.3-1.4-.8-.6-.3-3-.5-1.4-.4-.4-.3-.2-.4 .3-1 .3-.6-.3-.2-.7 0-.7 .3-.5 1.2-.1 .2-.7 .1-.7 0-1.3-.2-.7-.2-.2-.2-.3-1-.5-.3-.3 0-.3 .2-.7 .7-.3 .2-1 .2-1.4 0-.3-.1-.2-.3-.2-.6-.3-.4-1.6-1.1-.4-.1-.3 0zM372.1 220.8l0 .3 .5 .1 .7-.1 .3-.3-.4-.3-.3 0zM397.3 220.8l-2.7 .6-.3 .4 .1 .3 .9 .9 .3 .2 .3 0 1-1.4 .7-.2 2-.2 0-.3-1.7-.3zM383.1 222.8l-.2 .3 .2 .3 .5 .3 .3 0 .2-.3-.1-.3-.4-.3zM376.4 223.4l-3.8 .2-4.4 .4-5.1 1.1-.9 .4-.3 .3 .3 .1 2-.1 5 .1 .7 .2-.2 1 .3 .4 .6 .1 .6-.1 .2-.4-.1-.3-.3-.7 .5-.3 1.4-.4 1.7-.1 1 .4 .6 .8 0 .6-.4 .7 0 .3 1.1 0 .9-.3 .5-.3 .1-.4-1-1.3-.2-.7 .1-.3 1.2-.7 0-.3-.6-.4-.7-.1zM401.1 223.8l-.5 .6-.7 .3-2.6 .3-1.7 .5-2 .2-.6 .4-.4 .7-.3 .3-.4 .1-1 0-1.6-.2-.7 .1-2.7 1.5-.7 .2 2.4 .1 2.7-.2 .6-.1 2-.7 .7 .1 1.6 .5 .7 .3 .8 1.3 0 .7-.3 1.4 .1 .6-.1 .4-.8 .3-.3 .3 0 .4 .1 .3 .5 .6 .7 .5 .4-.1 .6-1 .3-.3 1.9-.4 .1-.3-1-.8-.5-.9 0-.3 .2-.3 .3-.1 1.4-.1 1 .3 .7 .6 .2 .6 0 .7 .3 .3 .5 .1 .6 0 .4-.2 .2-.2 0-.7-.1-.7-.6-.6-1.5-.9-.2-.2-.1-.3 .2-.3 .8-.7 .6-.9 .7 .2 .9 1 .5 .4 .6 .2 .3 0 .3-.2 .1-.4 0-.6 .3-.3 .9-.4 4.4-.6 1 .1 1.7 .5 .3-.1 .2-.2-.2-.4-.7-.2-2-.2-2-.5-.6-.3-1.4-.8-.3 0-1.7 .7-1.3-.1-.3-.1-1-.8-1.4-.4-1-.8-.3 0zM385 224.4l.4 .4 .9 0 .6 0 .6-.4-1.2-.1zM382.5 224.8l-.7 .3-.2 .4 0 .3 .1 .3 .3 .4 .6 .1 .3 0 .6-.5 .6-1-.3-.3-.9-.1zM363.1 227.8l-4.9 .7-2.7 .2-3 .7-2 .1-2.3 1-2.3 .6-4.7 2.7-2.4 1-1.3 1-1.1 .7-2.9 1-1.3 1.4-.2 .3 0 .3 .5 .2 .7 0 3.3-1.2 2-.3 2.7-.7 5-1.1 2.3-.3 2.4-1.1 2.6-.5 2.4-1.7 1-.4 2-.3 2.3-1.4 3.7-1.4 1-.5 .4-.3 .1-.4-.1-.3-.4-.2-1-.1zM419.1 228.1l-.2 .4 .1 .3 .6 .9 .4 .8 .3 .2 .4 .1 .3-.1 1.3-.7 1.4-.3 .4-.2-.1-.4-.3-.1-1.7-.1-2-.9-.4-.1zM383 229.1l-1.2 1-2 1.1-.3 .3 .3 .3 2.1 .5 .2 .9 .6 .3 4.9 .2 1 .2 .9 .3 .9 .6 .2 .4 0 .3-.2 .7 .3 .3 .9 .1 .3-.1 .4-.3 .1-.4-.7-1 .1-.6 .5-.5 1.6-.5 .2-.4-.2-.3-.5-.3-1.1-.5-.7-.1-3.7 .5-5 0-.3-.3 .3-.5 .2-.8 .3-.4 1.7-1-.2-.2-.3 0-1 .1zM415.2 229.1l-.4 .7-1 1 0 .4 .8 .1 .6-.1 .2-.4 .1-.7 .3-1-.2-.2-.3 .1zM322.8 229.5l-.3 .3 .1 .3 .2 .1 .3 0 .5-.4 0-.3-.1-.1-.4-.1zM391.1 229.8l-.1 .3 .3 .5 .3 .1 .3-.1 .4-.5-.1-.3-.3-.2-.3-.1-.3 .1zM407.1 231.2l-.2 .3 .1 .3 .7 .7 .6 .3 .3 0 .4-.2 .8-.8 .2-.3-.6-.3-1.1-.3-.7 0zM376.8 231.5l.1 .2 .3 0 .4-.2-.4-.1zM445.9 232.2l.4 .3 .7 .2 .4-.1 0-.1-.7-.3zM424.5 232.8l-1.5 .4-3.7 .2-.7 .1-.3 .1-.2 .2 0 .4 1.2 .8 .2 .5-.1 .3-.4 .5-1.5 .6-.2 .3 .3 .3 1 .5 3.7 .6 2 .6 2.7 0 .3 .1 1.4 .7 .6 0 .7-.1 .4-.4-.2-.3-.5-.3-2-.1-1.4-.8-1-.4-.6-.2-2.7-.5-.7-.4-.2-.3 0-.7 .2-.5 .4-.3 .6-.2 .7 0 2 .3 .7 0 1.3-.5 .6-.5-.2-.3-1.4-.8-.7-.1zM430.5 232.8l-.4 .4 .3 .3 1.3 .9 .6-.1 .6-.5 0-.3-.6-.4-1-.3zM375 233.2l.8 0-.2-.3zM413.5 234.2l-.5 .4-.7 .3-3 0-2 .4-.6 .2 0 .3 1.5 .7 .3 .4 0 .3-.6 .7-.4 .3-.5 .2-1.4 .1-1 0 .1-.6-.1-.4-.3-.3-1.3-.5-.7-.6-.3 0-.7 .8-.4 .2-2.6 .3-1.7 .5-1.3 .1-.7 .2-.4 .3-.2 .4-.1 .6 1.4 .6 1 .2 .6-.3 .7-.8 .7-.3 1-.1 .6 .2 .3 .2 0 .3-.2 .4-1.7 1-.2 .3 0 .3 .4 .7 0 .7 .1 .5 2-.1 1 .3 .7 .4 .3 .5 .2 .4 0 .7 .2 .3 .6 .2 .4 0 .3-.2 .3-.3 0-.4 0-.6-.3-.7-.7-.6-1.6-.7-.5-.4 .1-.3 1.2-.7 .3-.3 .2-.4-.2-.6-.5-.7 0-.4 .4-.2 .3 0 1 0 .2 .3-.2 .6 .1 .7 1.5 1.7 .7 .4 .4-.1 .2-.3 0-1 .1-.2 .2-.2 .8-.3 4-.6 .7 .1 1 .3 .6 .1 .4-.2-.2-.4-.5-.2-2.3-.3-1.7-.4-.7-.5-.6-.9-.1-.3 .4-.4 .7-.2 1-.2 1.3 .2 .6 .2 .6 .7 .6 0 .7-.7 .8-.4 .3-.3 0-.3-.3-.4-1-.6-.3-.3-.3-.2zM333.4 235.2l-.9 .2-.9 .4-2.1 1.5-2.4 .9-2.3 1.6-2.7 1.5-1.3 .9-.6 .7-.3 .3 0 .4 .2 .1 1.4 0 .3 .2 .1 .7-.3 .6-1.5 1.4-.2 .3 .6 .2 .3 0 1.3-.2 2.4-1 2.7-.7 2.3-1 3.9-1.3 2.6-1 1-.7-.2-.2-.3 0-3.3 .5-3 .9-2.4 .4-2 .8-1 .3-.7 0-.4-.3-.2-.7 .3-.6 .7-.6 1-.6 1.7-.6 .3 .1 .2 .6 .1 .2 .4 .1 .6-.3 .2-.3-.1-.4-.5-.3-.1-.3 1.2-1.9 .3-.3 .7-.3 2-.6 .6-.3 .8-1-.1-.3zM425.3 235.2l-.3 .1-.2 .5 .2 .4 .3 .1 .4 0 .1-.1 .2-.4-.3-.5-.3-.1-.1-.1zM436.9 235.2l-1.2 .4-.7 .2-1.7-.1-1.6-.4-1.7 .3-.8 .2-.3 .4 .1 .3 .7 .5 1 .3 3.3 .8 1.7 .7 2.3 .4 1.7 .8 2.3 .3 1.7 .8 3 .7 2.7-.2 2.3 .3 1.3 .5 .7-.1 1-.4 .7 0 .6 .2 1.3 .5 .5 .3 .2 .3-.3 .4-1 .6 .1 .4 .4 .3 1.9 .9 1 .1 .9-.3 .2-.4-1.7-1-.2-.3 0-.3 .6-.4 2.2-.3 .1-.3-.3-.4-2.5-1-1.3-1-2.4-.5-1.7-1-2.3-.8-3.3-1.5-2.7-.4-2-.5-1.3 .1-2 .5-1 0-.7-.2-1-.7-.4-.1zM379.7 235.5l-7.5 .4-3.3 .8-3 .4-.9 .4-.4 .4 .3 .3 .3 0 3-.4 5.4 .3 2.3-.3 1.3 0 .9 .4 .4 .7 0 .3-.4 1 .1 .1 .7 0 1-.3 .5-.5-.1-.3-.4-.7-.1-.3 .1-.3 .2-.4 .5-.3 1.7-.7 .1-.3-.4-.4-.8-.2zM385.4 235.5l-.1 .3 .3 .4 .9 .3 .1 .4 .3 .1 1 .2 1-.3-.6-.3-1.4-.1-.3-.3-.1-.4-.2-.3-.4-.1zM384 237.2l-.4 .3-.1 .7 .1 .3 .3 .3 .4 .1 .4 0 .5-.4 .6-1-.1-.3-.4-.1-.7-.1zM480.3 237.5l.2 .4 .3 0 .3 0 0-.4-.3-.1zM373.1 238.9l-.3 .3 0 .3 .1 .1 .7 .2 .3 0 .4-.3 .1-.3-.2-.4-.3-.2-.3 0zM390 239.5l-.7 .4-.9 .6-.1 .4 .3 0 1.3 .1 1.4-.2 .9-.3 .5-.3 .2-.3-2-.4zM365.9 239.9l-3.4 .4-3.3 .3-2.7 .7-2 0-.6 .2-1.7 .8-2.3 .6-4.4 2.5-2 .8-1.2 1-1.1 .7-2.7 1-.7 .5-.6 .9-.2 .3 .1 .3 .4 .2 .7 0 3-1.2 2.3-.2 3-.9 6.4-1.1 2.6-1 2-.4 2.4-1.6 1-.3 2-.4 2-1.2 3.7-1.3 1.5-1 .3-.3-.1-.3-.7-.3-1.4 0zM463 239.9l.5 .6 .6 .5 .7 .2 1.9 .4 1.2 1.3 1.8 1 .4 .7 0 .4-.1 .2-.3 .2-.6 .1-1-.1-1.7-.6-.4-.2-.5-1-.4-.2-.4 0-.5 .2-.2 .3-.3 .2-1 .5-.4 .3-.1 .3 1.5 1.4 .7 .3 3 .3 2.2 .7 1.8 .4 1.2 0 .5-.4-.1-.3-.2-.4-1.8-1-.3-.3 0-.3 .4-.4 .6-.2 2.2-.1 0-.3-.3-.4-.4-.3-2.1-.9-1.7-1.2-2.3-.5-1-.8-.7-.3-1.7-.4-.6 0zM472.1 239.9l-.3 .3 .3 .3 .6 .3 .4-.1 .1-.2-.5-.4zM418.7 240.5l-.2 .4 0 .3 1.1 1.8 .4 0 .3 0 1.4-.7 1-.2 .4-.2-.1-.4-1.7-.2-1.7-.8-.3-.1zM384.9 241.5l-.1 .4 .5 .1 .7-.5-.4-.2zM414.9 241.5l-1.3 1.7 0 .4 .7 .1 .5-.1 .3-.4 .3-1.3-.1-.4zM382.8 243.2l-.4 .4 0 .3 .5 .2 .7 .1 .3 0 .4-.3 .1-.3-.1-.4-.4-.2-.6 0zM407.3 243.6l-.1 .3 .3 .7 .5 .4 .6 .3 .6-.4 .7-.7 .2-.3-.5-.3-1.3-.4-.7 .1zM398 243.9l-.4 .3-.1 .4 0 .6-.2 .4-.7 .3-.2 .3 0 .4 .3 .6 .6 .7 .3 .1 .3-.1 .7-1.1 .7-.4 1-.2 .1-.3-.5-.5-1.3-1.7-.3 0zM391.9 244.2l-3.3 .4-3.7 .1-.6 .2-.2 .3 .1 .4 .7 .3 4 .1 1 .2 1 .3 .6 .4 .4 .3 .1 .4-.2 1 .5 .3 .6 0 .6-.3 .1-.3-.5-1.1 0-.3 .2-.5 .3-.3 1.3-.5 .2-.4-.2-.3-1.3-.6-1-.2zM423.5 245.2l-1.5 .5-3.4 .1-.3 .1-.6 .3 0 .4 .8 .6 .3 .4 .4 1-.1 .3-.5 .4-.8 .3-.3 .3 .5 .4 1.3 .2 3 .7 2 .5 4 .4 .7-.1 .1-.1-1.8-.5-1.6-.9-1.7-.7-.7-.1-1.6-.1-1-.1-.6-.2-.4-.4 0-.3 .1-.3 .4-.7 .5-.5 .3-.1 1-.2 2.7 .1 1-.3 .5-.4 0-.3-.4-.3-.8-.5-.7-.1zM429.1 245.2l-.2 .4 .1 .1 .2 .2 .8 .5 .7 0 .4-.2 .1-.3-.1-.3-.7-.4-.7-.1zM413.4 246.6l-.7 .6-.4 .2-3.3 .1-1.7 .3-.2 .1-.1 .4 1 .7 .6 .9 .4-.3 .3-.7 .7-.3 1-.2 3.3-.1 .7-.2 .2-.2-.1-.3-.1-.2-1-.8-.4-.1zM337.3 246.9l-1.2 .7-1.3 .9-2.6 1-2 1.6-2.4 1.2-1.3 1-.8 1 .1 .3 1.4 .1 .3 .3 .1 .6-.4 .7-1.4 1.3 0 .4 1 .1 1-.2 2.4-1 2.3-.6 3-1.1 2.9-.9 1.8-.7 1.3-.7 .3-.3-.3-.1-1.7 .1-1.6 .2-2.7 .9-2 .2-3 1.1-.7 0-.5-.4-.2-.3 0-.3 .4-.7 .7-.6 1-.5 1.3-.4 .3 .1 .1 .4 .3 .3 .3 .1 .4-.1 .3-.3 0-.4-.7-.6 1.3-2.2 .7-.4 2.3-.7 .8-.8 .2-.3-.3-.3zM379 247.9l-4.4 .2-3.4 .9-2.6 .2-.9 .4-.3 .3 .1 .4 .4 .1 .7-.1 2-.5 3.6 .4 2 0 2-.2 1 0 .8 .3 .6 .6 .1 .4-.2 1 .1 .1 .3 .2 .7-.1 .5-.2 .3-.4 .1-.3-.6-1 .2-.7 .5-.4 1.6-.6 .3-.3-.2-.3-.8-.4-.9-.1zM386.9 247.9l.1 .4 .3 .2 .6 .2 .3-.1 0-.3-.3-.5-.3-.2-.3 0zM434.2 247.9l-2.2 .4-2.7-.1-.6 .1-.6 .3-.2 .3 .2 .4 .9 .3 3.7 .9 2.3 .8 2 .5 3 1.2 2.4 .4 2 .6 2.6-.4 1 0 .7 .2 1.3 .6 .7 0 1-.4 1 0 1.1 .3 1.6 .8 2.3-.3 .5-.2 0-.3-.3-.3-1.2-.8-3-1.2-2-1.1-2.3-.6-3.7-1.7-2.3-.2-2-.4-1-.1-.7 .1-1.7 .6-.7 0-.6-.1-1.4-.7-.3-.1zM402.5 248.6l-.4 .7-.5 .3-2.3 .2-1.7 .7-1.7 0-.3 .1-.3 .3-.1 .4 .2 .3 .2 .1 .6 .2 .4 0 .7-.3 .6-.6 .4-.2 2.3 .1 1.7-.6 1.7-.1 .4-.3-.1-.3-1.3-1.1zM388.5 248.9l-.1 .4 .5 .1 .7 0 .6-.1-.6-.4zM476 249.3l.4 .1 .2-.1-.2-.3-.3 0zM385.8 249.6l-.4 .3-.1 .7 .3 .4 .3 .2 .4 0 .3-.3 .5-.6 .2-.4-.1-.3-.6-.2zM466.7 249.9l.2 .4 .5 .1 .5-.1 .3-.4-.5-.1zM457.3 250.9l.2 .4 .6 .2 .3 0 .4-.2-.3-.4-.4-.1-.4-.1zM474.2 250.9l-.2 .4 .5 .3 .6 .1 .7-.1-.2-.3-.6-.4zM375.6 251.3l-.1 .3 .4 .4 .7-.1 .2-.3 0-.3-.2-.2-.4-.1zM408.5 251.3l-.9 .4-1.3 .1-.7 .2-.7 .6-.5 .7-.1 .3 .8 1-.2 .7 .4 .3 2.1 1 .3 .4 .3 .8 .3 .2 .5-.7 .6-.3 2.9-.3 2.3-.6 .7-.3 .5-.5 .4-1 .7-.7 .1-.3-.8-.7-.9-.5-2-.7-.7-.1-1.6 0-1.7-.3-.3 0zM368.9 251.9l-3.3 .5-2.7 0-2 .8-.7 .1-2-.1-2 1-2.3 .5-1 .6-1.7 1.6-1-.1-.7 .2-2 1.7-.6 .3-1.4 .2-.7 .2-2.4 1.9-.5 .7 0 .3 .6 .4 .7 .1 .6-.3 1.3-.8 .8-.3 2.3-.1 3.5-1 3.8-.6 1.7-.2 2-.8 2-.6 1.3-.7 .7-.4 .2-.4 .1-.7 .4-.3 .7-.2 1.3-.2 1.3 .4 .5 0 .4-.3 .3-.7 .5-.3 .9-.3 2.4-.6 .9-.8 .1-.3-.2-.4-1.1-.2zM461.7 252.3l-.3 .1-.3 .2 .2 .3 .3 .4 .8 .5 2 .9 1 .6 .5 .7 0 .6-.2 .4-.5 .3-.8 .1-1.3-.1-2.4-.6-1 0-.5 .3-.3 .3 0 .3 .3 .4 .8 .6 .4 .2 1.7-.1 .6 .1 3 1 2 .1 .8-.2 0-.4-1.5-1.3-.1-.7 .2-.3 .3-.2 1.7-.5-.1-.3-.2-.4-1.1-.7-3.3-1.4-1.3-1-.7-.2zM377.1 253.3l-.3 .3 0 .4 .3 .3 .5 0 .5-.7-.1-.3-.4-.1zM400.7 253.3l-.4 .3-.2 .4 0 .3 .2 .7 .2 .3 .4 .3 .7 .1 .9-.4 0-.3-.6-.7 .3-.7-.1-.3-.5-.2-.3 0zM418.8 253.6l.4 .7 0 .7 .1 .2 .3 .1 1.1-.5 .6-.2 .6-.3-.2-.4-.5-.3-.5-.1-1.1-.1zM372.3 255l0 .3 .2 .3 .4 0 .2-.3-.2-.5-.3-.1zM461 255.3l-.1 .3 .2 .2 .3 .1 .3-.2 0-.2-.2-.2zM454 256.3l-.2 .3 .2 .4 1 .6 1 .1 .5-.4-.3-.3-1.2-1-.6 .1zM476.9 257l0 .3 .2 .3 .3 .6 .4 .3 .6 .2 2.4 0 0-.1-.6-.6-1-.7-1.4-.4zM343.3 258l-.4 .3 .3 .2 .3 0 .7-.1 .2-.4-.2-.2-.4 0zM371.7 261.7l-.5 .3 0 .3 .4 .5 .3 .1 .3-.6 .1-.6zM462.8 261.7l.3 .2 .4-.2zM454.2 262.7l-.2 .3 .3 .3 .7 .2 .4-.2-.1-.3-.3-.1-.3-.2zM338.6 263l-.2 .3 .1 .4 .3 .4 .4 0 .3-.3 .3-.5-.1-.3-.5-.2zM481.9 263.3l-.1 .4 .3 .6 .7-.3 .1-.3-.1-.4-.4-.1zM384.3 197.3l1.3-.2 1 .1 .3 .1 .3 .3 .1 .7-.4 .3-1 .4-1.3 .1-1-.1-.4-.4 0-.6 .3-.4zM397.6 197.6l1.3 0 1 .3 .5 .7 0 .7-.8 .3-2 .3-1.3 0-.7-.3-.1-.3 .3-1 .5-.4zM418.3 210.3l.9 .1 .4 .3-.6 .1-.4 0-.2-.1zM424 210.5l.7 0 .6 .2 .2 .3 .1 .4-.3 .3-.3 0-.7 0-.6-.3-.2-.4 .2-.3zM448 213l.7 0 1.2 .4 .5 .3 .1 .4-.2 .3-.4 .3-.5 .1-1.3-.1-.3-.3 0-1zM453.7 214.6l.7 0 .7 .1 .4 .4 0 .3-.5 .3-.6 .2-1-.1-.4-.4 0-.3 .4-.4zM482.1 216.3l.6 .1 .1 .3-.8-.3zM484.4 220.7l1-.2 1 .2 .6 .4 .2 .7-.1 .1-2.2-.5-.5-.3-.1-.3zM487.4 222.4l.4-.1 2 .8 .4 .3 .2 .4 0 .3-.3 .2-.7 0-1.4-.5-.4-.4-.2-.3zM498.1 223.1l1-.1 1.9 .4 .9 .4 1.1 .6 .4 .4 .1 .3-.7 .1-1-.1-2.3-.7-1.2-.6-.3-.4zM494.1 225.4l.6 .1 .4 .3-.3 .2-.7-.2-.3-.3zM397.3 226.7l.6-.1 .7 .1 .2 .1 .2 .3-.1 .4-.6 .3-.7 .1-.7 0-.1-.4 0-.4zM450.4 226.7l.8 .1 1.2 .3 .4 .4-.1 .3-.6 .3-.4 .1-.6-.1-.4-.1-.3-.3-.3-.6 .1-.3zM492.4 228.7l1.2 .1 .8 .3 .6 .4 .2 .3 .1 .3-.2 .8-.3 .3-.4-.1-1-.4-1-.6-.3-.3-.2-.3 0-.4 .2-.2zM500.8 230.7l.7 .1 .6 .3 .3 .4-.2 .3-.7 0-.7-.3-.3-.3 0-.4zM488.1 231.8l.9 0 1 .4 2.1 1 2.7 1.5 2.2 .8 .5 .3 .8 .7 .2 .4 0 .3-1-.3-.8-.4-1.9-1.2-2-.4-1-.4-1.7-1.2-2-1.1-.1-.4zM488.4 236.4l1 .1 .9 .4 .4 .3 .5 1 1.5 1.3-.3 .4-.3 0-.7-.1-.3-.2-1-1.2-2.1-1.2-.1-.3 .2-.4zM499.5 238.2l.3-.1 2.3 .3 1.7-.2 0 1.5-1.7-.3-1.3 .2-.5-.1-.6-.3-.2-.3zM488.1 239.9l2.7 .4 .6 .4 .4 .5-.1 .3-.5 .4-.2 .3-.1 .4 .2 .7-.7-.1-1.3-.6-1-.5-.7-.6-.3-.4 0-.6 .3-.5zM494.8 241.1l1 .2 1.2 .6 .5 .7 .1 .3-.1 .3-.4 .3-.7 .1-1.5-.4-1.1-.5-.3-.5 .9-.9zM480.4 241.7l.7 .2 .4 .3-.1 .4-.6 0-.4-.2-.2-.2 0-.3zM491.4 243.5l1.4 .2 .6 .2 2.9 2.3 .5 .7-.3 0-1.4-.7-2-1.5-1.3-.8zM485.1 243.7l.3-.1 .7 .1 1.6 .5 1.8 1 .9 .7 .6 .7-.2 .1-1.7 .3-.9-.1-.8-.3-.6-.4-1.6-1.6-.3-.4 0-.3zM500.1 244.1l.7-.1 .8 .2 .7 .4 .4 .3 .2 .3-.1 .4-.3 .4-.4 .1-1-.3-.6-.4-.5-.5-.1-.3 .1-.4zM492.8 247.8l1.5 .8 1.8 .5 1 .1 .7-.1 .3-.2 .4-.5 .3-.2 1 .3 .8 .4 .9 .7 .6 .7 .1 .3 .1 1.3 .2 .4 .6 .6 .7 .3 0 1.1-.6-.3-1.1-1.1-.6-.5-2-1-1-.3-.7-.1-2 .3-1-.4-.8-.6-.8-1.7-.6-.7zM408.6 253.6l1-.3 1.4 .2 .6 .1 .7 .4 0 .3-.7 .3-.6 0-2.4-.2-.5-.1 0-.3zM494.4 254.9l.7 0 .7 .1 .7 .3 .8 .7 .2 .3 0 1 .3 1-.3 0-1-.4-1.8-1.3-.6-.6 0-.4 0-.3zM487.8 255.3l1 .3 1 .6 .9 .8 .2 .3 .1 .3-.2 .2-.7 .1-.7-.2-.7-.4-.6-.7-.4-1zM399.9 259.3l1.4 0 .7 .4-.1 1-.3 .3-.7 .3-1 .1-.7-.1-.5-.3-.4-1 .3-.3zM419.6 259.5l.7-.1 1 0 1.2 .3 .1 .3-1 1-.6 .2-1 0-.6-.2-.3-.3 .1-.7zM499.8 259.6l.7 .2 1 .7 .6 .7 .2 .5-.2 .2-.3 0-.6-.2-.5-.4-.6-.6-.3-.7-.1-.3zM409.3 261.3l1-.2 1 .2 .3 .4 0 .6-.3 .4-.7 .2-.6 0-.7-.2-.3-.4-.1-.3 0-.3zM389.6 262.6l1-.2 .7 .2 .3 .4-.1 .7-.5 .3-.7 .2-.7 0-.5-.2-.3-.3 0-.4 .1-.3zM400.3 263.7l.6 .1 .4 .2 0 .3-.1 .4-.6 .3-.7 .1-.3-.1-.3-.4-.1-.3 .2-.3 .5-.3zM395.9 264.3l.5 0 0 .4-.1 .1-.2-.1zM488.4 265.9l.4-.1 .6 0 1.4 .4 .7 .5 .2 .3 .1 .7-3.4 0-.4-1 .1-.4z"/>
<path fill="#2a788e" d="M411 196.3l1.1 0 0 .3-.8 .1-.7-.1zM390.6 197.2l.7-.1 .3 .2 .4 .3 1.3 .7 .3 .4 .3 .9-.3 .4-1.3 .6-.3 .4 .1 .3 .2 .1 .6 .3 2.7 0 10.7 .4 2.4-.1 1.7-.4 .1-.3-.9-.4-2-.4-4.6-.8-.7-.2-.3-.2 .1-.3 .3-1 .7-.4 1.5-.2 .4 0 .2 .2 0 .7 .2 .3 .6 .4 .6 .2 2.6 .1 5.4 .7 4.7 .6 2.7 .6 3.3 .2 1 .2 1 .6 .4 0 1.3-.5 2.7-.6 .6 0 .8 .2 .3 .3 0 .4-.5 .3-.1 .4 .5 .2 2.4-.5 .8-.8 .5-.2 1.1-.1 .9 .3 .4 .3-.1 .4-.7 .7 .1 .3 1 .4 2 .1 1 .3 1.7-.1 2.3 .1 .7 .2 .6 .5 .6 .2 1.8-.2 2 .2 2 .5 3 .1 7.4 1.1 3.2 .6-.9 .3-3.7 0-2.7-.3-.3 0-.3 .4 .6 .4 2.4 .4 6 1.9 7.8 2 2.1 .6-.2 .2-2.4 .1-.4 .1-.4 .3 0 .4 .2 .3 1.6 1.3 .7 1 .2 .4 0 .3-.9 .2-1 0-.7-.2-.6-.3-1.7-1.2-2.7-.7-2.8-1.1-1.8-.4-1-.1-.7 .1 .1 .4 1.2 1.2 .7 .3 1.4 .1 1.2 .4 .5 .3 .6 1.1 .3 .2 2.5 .4 .6 .3 1.2 1 2.1 .9 .4 .5 0 .3-.2 .3-.6 .2-1-.2-.9-.3-.4-.3-.4-.4-.2-.6-.4-.4-.7-.2-1.3-.2-.5-.3-.5-.6-.4-.2-2-.3-1-.4-.3-.1-1-1-.3-.2-2 0-.7-.2-.8-.3-1.5-1.2-2.7-.6-3.7-1.5-4-1.1-1.7-.8-.6-.1-1.7 .3-1.7-.1-.3-.2-.6-.7-.6-.4-.5-.1-2-.1-1 .2-.2 .4 0 .6-.1 .4-.4 .2-.7 .1-1.3-.3-.4-.4-.6-1-2.3-1-.3 .2-.1 .2 .4 .6-.3 .4-1 .1-3-1-1.4-.9-.3 0-2 .6-3.3 0-1.7 .2-1 .2-2 .6-.7 0-1.3-.4-.7 0-1.4 .6-.9 .2-2.7 .2-3 .4-.7 .4-.1 .1 0 .3 .4 .4 .4 .1 2 .4 2-.2 1 .1 1 .2 1.7 .6 2.3 0 4.4 1 3.3 .2 1 .3 1.3 .6 3-.9 1-.6 .4-.1 .6 0 .6 .3 .2 .3-.1 .5-.6 .5 0 .4 .6 .2 2-.3 .4-.3 .6-1 .7-.2 .6 0 1 .2 .5 .4 .1 .3-.1 .3-.4 .7 .2 .3 .4 .1 1 .1 .4-.2 .6-.7 .7-.5 1 0 .7 .2 .6 1 .8 .4 1.6 .2 .3 .1 .7 .7 1-.2 .6 .1 1.7 .1 2.3 .6 4.7 .2 .7 .1 1.7 .5 1.6-.4 1.7 .3 .8 .3 .3 .4 0 .3-.7 .4-3.4 .1 0-.1-1.7-.4-.2 .4 .2 0 1.4 .2 1 .2 .4 .2 5.6 1.9 3 .3 2.3 1.1 2.3 0 .7 .1 1.4 .6 1.3 1 1.3-.1 .7 0 2.1 .5 1 .3 .2 .4-.6 .2-1.7 .9-.7 .1-.3 0-.3-.3-1.7-1.8-1.4 .2-2.6-.3-.7 .3 .1 .3 1.5 1.4 .8 1 .6 .5 .7 .4 1.9 .7 .5 .4 .9 1 .4 .2 1.6 .4 .7 .3 1.3 1.4 2.1 1 .2 .4 0 .3-.3 .2-.3 .1-1.1-.3-.6-.3-.3-.3-.6-1.1-.4-.2-2-.6-1.3-1-2.9-.8-2.2-1.5-2.1-.6-2.5-1.2-4-1.4-2-.4-.4 .1-.1 .3 .3 .3 2.8 1.3 1.4 1.2 2.2 .5 .8 .3 1.2 1.1 2.1 1 .3 .6-.1 .4-.5 .3-1-.1-.9-.2-.7-.4-.4-.3-.2-.7-.5-.4-.7-.2-1.3-.1-.3-.2-1-.9-2-.5-1-.4-1.7-1.1-2.3-.5-2.4-1.2-2.7-.9-3-1.2-2.6-.6-1-.2-1.7-1-2.1 .7-.6 .3-.3 .5-.3 .2-.7 0-1-.2-.7-.4-.1-.4 .3-.7 .6-.6-.2-.4-.2-.1-1 0-1 .1-.4 .4-.4 1-.3 .3-.6 .1-.7 0-.7-.1-.8-.3-.2-.4-.3-1-.7-.4-.6-.1-.3 .2-.3 .7-.4 .4-.7 .2-.7-.1-.6-.2-.8-.7-1.4-.6-.8-.7-.4-.2-.3 .1-1.7 .6-4 .1-1 .1-.9 .3-.6 .3-.3 .4 .1 .3 1.7 .7 .2 .3-.3 .3-.9 .2-.7-.2-.3-.3-.4-.7-.3-.2-2-.9-.6 0-1 .6-.7 .2-3.3 .1-2.7 .6-.4 .3 0 .3 .1 .1 .3 .3 1 .3 .6 .3 0 .4-.4 .3-.7 .4-1.2 0-1.3-.8-1.6-.6-.7-.7-.4-.2-.3 0-.4 .2-.4 .7-.6 .4-3 .3-1.6 .5-1.7 .2-.6 .3-.7 .7-.7 .3-1 .1-2-.1-2 1.1-1 .4-2.7 .6-1.7 1.2-1.3 .6-1 .3-1.7-.1-.6 .3-.4 .3-.4 .7-1.4 .6-.2 .4 .4 .3 1 .1 1-.2 .6-.2 .4-.7 .6-.2 2 .2 .7 .2 1 .8 .7 .2 2.7 .2 2.6 .1 1.4 .3 .6 .4 .3 .5 0 .3-.2 .3-.4 .3-1 .1-1-.1-.3-.2-1-.8-.7-.1-.7 .3-.5 .5-.1 .4-.4 .1-.8-.5-.9-.2-1.3-.2-1-.1-7.3 .5-3.4 .6-2.6 .4-1 .3-1.1 .4-.4 .4-.2 .3 .5 .3 .8 .1 2.4-.4 1 0 3.1 .3 0 .4-.1 0-.7 .2-1.7 0-3 .4-4 .7-2.7 .1-3 .8-.6 .1-1.4-.2-2.3 1.1-2.7 .7-1.1 .8-2.5 1.4-2.4 1-2.1 1.6-.7 .3-.9 .3-.6 0-.4-.1 0-.2 .8-1.3-.1-.4-.7 0-1.2 .4-1.3 .6-1.8 1.1-2.3 1.1-2 1.5-2.4 1.2-1.6 1.2-1 1-.4 .7 .3 .2 1.7-.2 .4 .1 .1 .2 0 .3-.1 .4-1.1 .9-.6 .3-.4 0-1.3-.9-.1-.7-.9 0-.7 .4-.4 1-.7 .6-1.9 1-1.3 .1 0-1.8 .7-.4 1.7-1.5 1.9-1.2 2-1.9 2.7-1.7 2.4-2.1 1-.9 .2-.3-.2-.2-.4 0-2.2 .5-8 2.7-1.5 .3-.3 .1 0-1.9 1.3-.7 2-.3 1-.3 2.7-1.1 2-.6 2.4-.9 5.6-1.9 1.6-.7 1.6-1 0-.4-.8 0-4 .7-3.4 1-1.2 0 0-.3 .7-.7 .5-.7 0-.3-.6-.7 .1-.3 .5-.8 .6-.5 .7-.4 .7-.2 .7 .1 .1 .1-.1 .4-1.5 1.6 0 .4 .2 .1 .6 .1 .7 0 1-.2 2.7-1 2.6-.5 3-.9 4.4-.9 2.3-.3 2.4-1.1 3-.6 1.6-1.3 .7-.4 3-.7 2.3-1.4 4.1-1.4 1.4-.9 .3-.4 0-.3-.3-.3-.4-.3-.7-.1-.7 0-6.3 1.1-3.4 .3-2.6 .7-2 0-2.7 1.1-2.7 .7-1.2 .8-3.1 1.7-2.4 1-1.7 1.3-1.3 .7-1.3 .3-.3-.1-.3-.2 .1-.3 .7-1 .1-.4-1 0-1.2 .4-1.4 .6-2.4 1.5-2 .9-2.3 1.6-2.4 1.3-1.1 .8-1.5 1.3-.5 .7 0 .3 .5 .1 1.6-.3 .5 .2 0 .4-.1 .3-.6 .7-.8 .5-.6 .2-.4 0-.6-.5-.7-.2 0-4.5 3.4-1.9 3.9-3.4-.1-.3-.7 0-2.5 .7-3 1.1-1 .3 0-2.2 13-4.6 1.9-1 .5-.3 .2-.4-.2-.1-1 0-7.8 1.8-.9 .1-.7-.1 .7-.1 .9-1.2 .1-.4-.4-.2-1.5-.1 .2-.1 1.7-2.3 .2-.3-.2-.1-2.7 .8-.5 .3-1.8 1.5-1 .5-.7 .2 0-3.4 .9-.4 .7-.7-.1-.4-.2 0-1.3 .1 0-2.3 2-.6 6-2.2 2.1-1 .8-.7-.2-.1-.3-.1-1.4 .2-9 2.2 0-1 9.1-2.8 4.7-1.4 6.8-1.7 2.8-.4 2.6-1.1 2.7-.6 2-1.2 1.4-.6 3-.8 2.4-1.3 7.9-2.6 .8-.4 1.2-1 .7-.2 .7 0 .5 .2 .6 .3 .1 .4-.4 .3-.6 .3-2.2 .9-1 .5-.8 .6 .2 .4 .2 0 1 0 1-.2 2.7-1 4.7-1.3 2.6-.6 1.2-.6 .4-.7 0-.3-.7-1 0-.4 .7-.3 1.4-.5 .4-.3 .5-.9 .5-.2 .3 .1 .3 .1 .1 .4-.2 .3-1.2 .5-.3 .3-.3 .5 0 .4 .3 .4 2 1 .6 .1 .4-.1 1-1 .7-.3 1.3-.3 1.3 0 .6 .2 .1 .3-.2 .7-.2 .3-.5 .4-.8 .2-3.3 .5-2.2 .9-2.5 .8-2.3 1-2.4 .5-.6 .3-.9 .8-1.4 .7-.3 .3 .1 .3 .8 .2 3.3-.4 1.4-.1 4.3 .4 1.6 .3 .7 .3-.5 .7 0 .3 .1 .3 .4 .7-.3 .3-.7 .4-.3 .3-.2 .3 .1 .4 .2 .3 .6 .4 .6 .3 .7 0 .6-.3 .8-.9 .6-.3 2.4-.3 1.3-.3 1.7-.2 .7-.4 .2-.3 0-.4-1.2-1-.9-1-.2-.3 .3-.3 1.7-.6 2-1.2 1-.2 1.7 .2 .7 0 3.3-1.4 1-.5 .1-.4-.3-.3-1.5-.5-8-.7-.7-.1-.7-.4-.7-1.3 .1-.4 2-.8 .6-.5 .1-.3-.4-1 .1-.5zM421.3 204l-.2 .3 0 .4 .2 .3 .4 .2 .3 .1 1.7-.3 2 .2 .5-.2 .2-.3-.2-.4-.5-.2-2 .1-1.7-.5-.3 .1zM406.5 206.7l-1.5 .6-2.4-.4-.6 0-.7 .2-1 .6-.7 .3-3 .1-3 .5-.8 .4-.1 .4 .2 .3 .3 .3 1.1 1 .6 .2 .4-.2 .6-1 .7-.4 3-.2 1.3-.3 2.1-.2 .6-.3 1.4-1 .6-.1 2.4 .4 1-.2 .6-.4 .2-.3-.5-.2-1.3-.2zM359.5 207.3l-.2 .4 .2 .1 .7-.1 .5-.4-.5-.1zM449.2 207.3l.2 .4 .6 .3 3.2 1.4 .3 .3 .2 .3 .3 .2 .2-.2-.1-1.6-.2-.7-.2-.2-3.7-.4-.3 0zM374.1 211l-4.9 .3-3.6 .5-3.1 .4-2.9 .8-1.2 .7-.1 .4 .9 .2 3.7 0 3-.2 .7 .2 1 .9 .6 .3 .7 0 .6-.1 .3-.3-.1-1 .2-.4 .3-.2 .7-.2 1-.1 1 .1 .7 .2 .6 .6 .1 .3-.1 .4-.3 .4-.7 .3-2.6 .5-3.2 1.4-.5 .3-.3 .4 .3 .2 .7 0 .9-.2 1.7-.8 3.7-1.2 2.7-.5 .5-.2 .3-.3 .2-.4-.2-.3-1.4-1-.2-.4 0-.3 .9-.7 .3-.3-.1-.3-.4-.4-.6-.1-.7-.1zM400.3 211l-.4 .7-.6 .3-1 .2-2.4 .2-2.3 .5-.7 .3-.2 .2-.2 .3 .1 .4 .3 .2 2 .4-.2 .4-.8 .3-.6 .1-.7-.1-1.3-.5-1.7-.3-1-.5-.7-.1-.3 .2-.7 .7-.6 .3-2.7 .6-1.4 .4-2.6 1-3 1.4-1.7 .1-.7 .2-1 1.1-1.6 .8-.1 .3 .6 .3 .8 .1 2.3-.8 .7 0 5.7 .8 1 .3 .3 .2 .4 0 .2-.2 1.1-.3 1-.2 1.3 .1 .7 .2 .8 .8 .3 .7-.2 .3-.2 .3-.7 .1-1.3 0-1-.1-.7-.4-1-.9-.3-.2-.4 0-.3 .4-.1 .5 0 .3 .4 .7-1.3 .7-.3 .3-.1 .4 .1 .6 .2 .4 .7 .3 .7 0 .4-.2 1-.9 .6-.4 2.5-.2 1.5-.5 2-.3 .3-.2 .3-.3 0-.4-1-1-.8-1-.1-.3 .3-.3 1.4-.5 .3-.3 .7-1 .6-.4 1 0 2 .9 .4-.1 1.3-1 2-.9 .6-.4 .2-.4-.2-.3-.3-.2-.6-.3-2.4-.5-.8-.3-.2-.4 .7-.3 1.3-.2 1.4 .1 1.6 .3 2.7-.2 3.4 .3 2.5-.3 1.1-.3 0-.4-2-1.2-.6 0-1.4 .3-1 0-3.3-1-1-.9-.4-.2-.3 0zM362.9 214.7l-3.3 .7-5.7 .9-4.3 .8-2.4 .1-2.4 1.1-3 .8-1.6 1-3.7 2-2.3 .9-2.5 1.8-.9 .4-2.3 .7-2.2 1.9-.4 .7 .2 .2 .4 .1 1.7-.2 6.1-1.8 6.6-1.7 1.6-.3 2-.2 1.7-.9 1-.4 2.7-.5 .3-.2 1.7-1.2 .6-.4 .7-.2 2.3-.5 2.1-1.2 5.6-2.1 1.2-.6 .4-.3 .1-.4-.1-.3-.6-.5-.3-.1zM343.8 215.1l-.5 .3 .2 .1 .5-.1 .7-.3-.2-.2zM420.7 216.4l-.1 .3 0 .4 .4 .4 .3 .2 2-.3 1.7 .1 .3-.2 .2-.2-.2-.4-.6-.2-1.7 .1-1.7-.5-.3 0zM406.7 219.1l-.6 .3 .1 .4 1.4 .6 .7 .1 .3 0 .7-.4 .4-.3 .2-.4-.6-.3-1-.2-.7 0zM401.9 219.4l-.5 .4-.5 .5-.3 .3-1.3 0-2.7-.4-1 .6-1.3 .3-.4 .3-.1 .4 .5 .6 1 1 .3 .1 .3 .1 .4-.2 .6-1.1 .7-.3 2.3-.2 1.7-.3 1.4 0 .9-.4 .5-.7 .1-.3-.2-.3-1.3-.5-.7 0zM447.6 219.4l-.2 .1-.2 .3 .4 .3 .7 .3 2.1 .6 .3 .1 .4-.3-.1-.4-.3-.3-.7-.3zM377.4 223.1l-1.8 .2-4 .2-3.7 .4-5.5 1.2-1.3 .7-.2 .3 .3 .3 .3 0 2.7-.3 4.4 .1 .4 .3 0 .6 .1 .4 .6 .3 .9 .2 .6-.1 .5-.4 .1-.4-.2-.6 .1-.4 .5-.3 1.4-.3 .6 0 .7 .2 .7 .4 .2 .4 .1 .3-.3 .6-1 .6-2.7 .8-1.3 .6-.5 .4-.1 .3 .6 .2 .6-.1 3-1.2 3.4-.9 .7-.3 .4-.3 .2-.4-.2-.3-.8-.7-.3-.6 .1-.4 .2-.2 1.4-.8-.1-.3-.6-.5zM327.6 224.1l-1.5 .7-1.3 1 0 .1 .7-.1 2.1-.7 .6-.5 .2-.5zM347.9 226.8l-.5 .3-.1 .4 .2 0 1.3-.4 .3-.3-.2-.2-.4 0zM352.5 238.5l-1 .4-.2 .3 .5 0 .8-.3zM384.3 197.5l1-.2 .6 0 .7 .2 .3 .5-.1 .3-.5 .3-1 .2-1 0-.5-.2-.2-.3 .1-.3zM396.9 197.9l1.4-.1 1 .1 .5 .4 .2 .7-.2 .3-1.2 .3-1 .1-1.1-.1-.5-.3 0-.7 .3-.4zM371.6 201.2l1 0 .5 .1 .2 .3 0 .4-.3 .3-.4 .4-1 .3-1 .1-.9-.1-.1-.3 .3-.7 .7-.4zM442.7 202.2l.7 0 .6 .1 .2 .4-.1 .3-.4 .3-.3 .2-1-.2-.2-.3 0-.3zM383.6 209l1.7 0 1 .2 .3 .3 .6 .9 0 .3-.1 .3-.5 .4-.7 .1-1.6 0-1-.2-.4-.2-1.4-1.4 .5-.3zM442.4 210.6l.6-.1 .4 0 .1 .2 0 .3-.5 .3-.6-.2-.2-.1 0-.3zM448.7 213.7l.7 0 .1 0 .3 .4-.4 .2-.4 0-.4-.2zM454 215l.5 .1-.1 .3-.5 0 0-.3zM480.1 218.3l1-.1 .9 .2 .5 .3 .1 .4-.1 .3-.7 .2-1.1-.2-.6-.3-.3-.4 0-.3zM466.4 219.5l.7 0 1.3 .2 .4 .4-.4 .3-.3 .1-1-.1-.8-.3-.2-.3zM479.8 222.1l.6-.2 .7 .1 .7 .2 .3 .2 .2 .4 .3 1-.2 .1-2.5-1.1-.3-.4zM423 222.7l1 0 .7 .3 .2 .4 .2 .7-.1 .2-.7 .1-1-.1-.6-.3-.3-.2-.1-.4 .1-.3zM488.4 223.1l.4 0 .8 .3 .2 .4-.4 .1-.6-.1-.5-.4 0-.3zM499.8 223.8l.5 0 .9 .3-.1 .2-1-.2zM410.3 224.1l1 0 .7 .1 1.6 .9 .7 0 1.3-.3 .7 .1 2.3 .8 4.4 .6 2.3 .6 2.7 .2 1.7 .6 .6 .1 .7 0 1.3-.3 .3-.4-.1-.3-.5-.5-.3-.1-2.4-.3-1.7-.8-.5-.3 .3-.4 .9-.1 .7 .1 2.7 .9 3.6 .7 1.7 .7 2.7 .4 2 .9 2 .3 1.3 .5 2.7 .6 1.7 .6 2-.2 2.6 .1 .7 .1 1.3 .6 .4 0 .6-.1 .7-.5 1 .1 1.4 .4 .5 .3 .1 .4-.2 .3-.4 .3-1.6 .4 .2 .3 .6 .3 3.8 1.4 1 0 2-.1 2 1.2 2 0 1 .1 1 .4 1.3 .7 .7 .2 3 .3 1.1-.1 .1-.4-.4-.7-.8-.5-1.4-.8-.3-.3 .2-.4 .8-.3 .7 .1 .9 .2 .4 .4 .7 1.2 1.4 1.1-.3 .4-.8 .3 .1 .3 .3 .4 .6 .4 .4 .1 .6-.2 .7-.6 1 .1 1 .3 .8 .5 .4 .7 0 .3-.2 .4-.3 .2-.7 .1-1-.2-2-.5-1.7-.6-.6-.1-.7 .2-.4 .2-.3 .3-.1 .7-.2 .3-1 .3-1 0-1-.3-1.3-1-.3-.3 .5-.7-.5-.3-2.8-.6-.3 0-.3 .2-.1 .1 .2 .3 1.7 1 .5 1 .7 .6 .6 .3 1.4 .3 .3 .2 1.5 1.3 2 1 1.6 1.3 1.6 .9 .5 .5 .5 1 .3 .1 1.7 .1 1.1 .5 1.1 1.3 1.7 1.3 .1 .4-.3 0-1 0-.7-.1-1.3-1.4-2.2-1.2-.6-.7-.2-.1-1.4-.2-1.6-.7-.5-.3-.9-1-.3-.2-2-.5-1.4-1-2.4-1-1.6-1.1-2-.6-2.3-1.2-4.3-1.5-1.1 0 0 .4 .5 .3 1.9 .9 1.3 1.1 2.6 .7 1.4 1.2 1.6 .8 .3 .3 .1 .4-.1 .3-.5 .3-.7 0-1.3-.3-.6-.3-.5-1-.4-.4-.5-.2-1.4-.1-1-.8-2.8-.9-1.8-1.2-2.1-.5-2-1-2.6-1-2.7-1.1-3-.5-2-.8-3 .6-1 .1-1-.3-1-.6-.7-.1-1.7 .7-1.6 0-1.1-.3-.1-.4 .8-1 0-.3-.3-.3-1.3-.5-1-.1-.8 .2-.4 .4 0 .3 1.2 .7 .2 .3 .1 .3-.8 .4-1.5 .4-.6 .2-.1 .4 .3 .3 .4 .4 1.3 .5 3.7 .8 2 .8 2 .3 2 .9 2 .3 1.7 .6 2 .5 1.3 .5 .3 0 1.7-.3 1.1 .1 1.6 .2 1.6 .7 .7-.1 1.3-.5 1.4 .2 .9 .5 .1 .3-.3 .4-1 .6 .1 .4 .5 .3 2.4 1.1 .6 .1 2-.2 .7 .1 1.3 .9 .7 .2 2.7 .2 2.6 .9 1.7 .3 1.7 0 .7-.2 0-.4-.2-.3-.8-.7-1.3-.7-.2-.3 0-.3 .4-.3 .7-.1 .7 .1 .6 .2 .5 .4 .5 1 1.3 1 .1 .4-.7 .3-.2 .3 .2 .4 .3 .4 .7 .2 .4-.1 .6-.7 .4 0 1 .2 .8 .3 .5 .3 .3 .4 .2 .6-.1 .4-.4 .3-.7 .1-2.3-.4-2-.6-.7-.1-.3 0-.5 .3 0 .4 .3 .3 .5 .2 1.7 .3 1 .4 1.3 .7 2 1.5 1.7 .3 2 .6 .9 .7 .5 .7 .3 1-.1 .3-.9 1.1-1.4-.5-2-.5-1.6-1.1-.8-.3-1.9-.4-.7-.1-.4 .1 .8 1.1 .6 1.3 1.9 0 1.1 .3 .6 .7 .4 1 .4 .5 .6 .4 1.1 .4 2.6 1.8 .4 .6 .1 .3-.1 .4-.4 .3-.7 .1-.6-.1-.9-.3-.5-.4-.2-.3 .2-1-.1-.4-.2-.2-.7-.3-1.3-.2-.3-.1-.9-.8-1.8-1.4-.5-.6-.2-.6-2 .1-1.3-.3-.7-.5-.6-1.1-.4-.3-.7-.2-1.3 0-.3-.2-.9-1-1-.6-3.5-1.6-1.8-1.1-.8-.2-1 0-.7 .1-.1 .1 .5 .6 .9 .8 .7 .4 2 .9 1 .6 .2 .4 .1 .3-.1 .3-.3 .4-.6 .2-.6 0-1.2-.2-.5-.3-.2-.1-.1-.3 .1-.7 0-.3-.5-.4-.6-.1-.8 .2-.5 .3 .3 .7-2 1.2-.7 .1-1-.6-.7-.7 .1-.4 .7-.3 2.2-.1 .6-.2-.5-.7-1.1-.9-1.3-.6-2.4-.9-2-1.1-2.6-.7-3.4-1.7-2.6-.2-2-.5-1.4 .1-2.3 .5-1-.2-1.4-.6-.3 0-1.4 .4-1.3 .2-3.3-.1-1 .2-.5 .4-.1 .3 .2 .4 .4 .2 .7 .3 4 .9 2 .7 3 .9 2.3 .9 2.4 .3 2 .7 1.6-.3 1.4-.1 1 .2 1.6 .7 .7-.1 1.3-.4 1.1 .1 .9 .3 .4 .4 .2 .3-.1 .3-1 .7 0 .3 .2 .4 1 .6 .7 .2 .6 .1 1.3-.3 .4-.2 .2 .2 .5 .2 1.7 1.1 .6 .1 1.4-.1 .6 .1 3 .9 2.4 .2 1.2-.1 .2-.3-.3-.4-1.8-1.2-.2-.5 0-.3 .3-.3 .6-.2 1.6 0 .4 .2 .2 .3 .2 1.7 .6 .7-.5 .6 .5 .7 .6 .3 .4 0 .3-.3 .3-.7 .7 .1 1 .4 .8 .5 .4 .4 .2 .6-.1 .4-.3 .3-.7 .2-3-.3-1.4-.6-.6-.1-.3 .1-.3 .4 .2 .3 .8 .3 1.6 .2 1.7 1 2 1.5 .3 .1 1.7 .2 1.3 .4 .7 .3 .4 .4 .2 .3-14.6 0-.3-.3-.7-.5-1.3-.7-2.4-1-1.3-1-.7-.2-.6 0-1.1 .1 0 .2 .4 .7 1 .8 2.4 1.2 .8 .7-3 0-.3-.3-.9-.6-4-1.9-2.4-.9-2-1.1-2.3-.6-3-1.5-2.7-.5-1.6-.6-3.1 .6-.6-.1-1.7-.6-2 .5-2.7-.3-3 .3-1.3 .7-.3 0-.4-.2-.5-.6 .2-.4 1.7-.4 1.3-.5 .7 0 1.6 .4 .4-.1 .5-.4 .2-.3-.1-.3-.6-.4-1.4-.4-2 .3-2-.4-.6 0-1.7 .3-4.7 .3-.7 .3-1 .9-.3 .1-1-.2-1-.7-.3-.2-.4 0-.8 .7-.5 .3-1 .1-1-.1-.5-.3 0-.3 .2-.7 .3-.3 1-.3 2.3-.1 2.4-.7 1-.6 .7-1 .6-.4 .7 0 .3 .2 .2 .2 .2 .7 .6 .3 .3 0 1.1-.5 1.3-.5 .3-.3-.1-.3-.9-.6-1-.2-2-.2-1-.2-2-1-2-.8-.3 0-2.4 .1-.7-.2-.7-.3-.1-.3 .3-1 .6-.5 .6-.1 1.4 0 .9 .2 .1 .4 0 .7 .3 .3 .3-.3 .1-.4-.2-.3 0-.4 1.8-.6 .3-.4 0-.3-.2-.4-1.1-.8-.3-.2-.4-.1-.3 .1-.7 .7-.6 .3-1 0-1.7-.1-2.3 .5-.4 .3-.1 .4 .3 .3 1 .7 .6 1.3-.1 .3-.3 .3-.7 .3-1.7 .2-.4 .2-.9 .9-.7 .4-.6 0-1.4-.4-.7 .1-.6 .4-.7 .7-.2 .3 .1 .3 .2 .4 .8 .6 .4 .2 .7 .1 1.7-.2 .7 .1 2.6 .8 .7 .5 .5 1.5-.2 .4-1.8 .7-.3 .3-.3 1-.2 .1-.8-.1-.6-.3-.3-1 .1-.4 1.2-.7 .2-.3 0-.3-.5-.5-.7-.1-6.3-.4-4.4 .1-1.3 .2-1.1 .3-.5 .4 0 .3 .9 .4 4.7 .6 1.3 .4 .2 .3-.2 1-.3 .4-1 .3-.3 0-.4-1-.3-.4-.3-.1-.7-.2-1.7 .1-5.6-.2-2.4 .2-2-.2-2.7 .5-.6 0-1-.2-.4 .1-1.7 1.4 0 .3 .2 .3 .9 .5 .3 .1 .5-.2 1.2-.1 .5 .1 .4 .3-1.3 .2-1.6-.1-2.4 .5-.6 0-.7-.1-.3-.2-.1-.6 .3-.7 .4-.7-.3-.3-.3 0-1.4 .6-.4 .4 0 .3 .6 1-.2 .4-.6 .4-.9 .2-.8 .1-1.3-.5-.4-.1-.4 .2-.9 1-1 .3-1 0-1.4-.4-.6 0-1.7 .8-2.3 .6-1.5 1.1-.2 .3-17.8 0 .4-.3 1-.5 3.4-1 2.5-.9 1.4-.7 1-.6 .2-.4-.1-.1-.3-.1-2.7 .2-.7-.1-.3-.1-.1-.1 .5-.7 .9-.5 .7-.2 2-.1 3-.9 4.3-.8 1.7-.1 2-.8 2.3-.7 1.6-.9 .4-.3 .8-1 .6-.4 1-.1 1.3 .4 .7-.1 .3-.3 .5-.9 .6-.3 .9-.3 1-.1 .7 .1 .2 .3-.1 .7 .1 .6 .5 .3 .3 0 .4-.3 .1-.3-.2-.6-.7-.7 .2-.4 1.2-1.1 .7-.3 1.6 .2 .7-.2 .3-.6-.1-1 .5-.3 1-.1 1 .1 .4 .3 .3 .3 .1 .4-.2 .6-.6 .6-.2 .1-.2 .2-2 0-.6 .5-.2 .3 0 .4 .3 .3 .5 .3 .4-.1 .3-.2 1-1.2 .7-.2 2-.2 .9-.4 .3-.4 .1-.3-.7-.9 0-.4 .2-.4 .6-.3 1.3-.3 .6 0 .2 .3 0 1.3 .5 .5 .7 0 .3-.1 1-1.1 .3-.2 2.4-.2 1.3-.5 1.3-.2 .6-.2 .4-.3 0-.3-.4-1.1-.1-.3 .2-.4 .7-.4 .6-.1 .7 .2 1.3 1.7 .7 .4 .4 0 .6-1.1 .7-.4 2.1-.2 .9-.3 1.3 0 .7-.1 .4-.3 .2-.3 0-1.4-.3-.6-1.5-1-.1-.4 .6-.4 1-.1 1.5 .9 .3 .3 .1 1 .2 .3 1.3 1.1 .6 .3 .4-.1 1.3-1.1 1.1-.5-.6-.3-2.4-.7-.7-.3-.1-.7 0-1 .4-.4 1.6-.3 2-.2 1.4 0 1.6 .5 .3 .4-.8 1.3-1.3 1.4 .4 .3 .8 .1 .7-.1 .5-.3 .2-.4 .4-1.7 0-.3-.2-.7 0-.6-.2-.4-.8-.4-3.3-.5-1-.3-.5-.4-.3-.7 0-.3 .5-.4 1-.1 1 .1 .3 .1 1 .9 .3 .1 .7-.1 1-.6 .7 0 .3 .1 1 .7 1 .4 4 .7 2 .5 2.4 .1 2.3 .8 .7-.1 .9-.2 .3-.4-.1-.3-.5-.3-.6-.2-1.4-.2-.6-.2-2.5-1.1-.2-.3-1.3 .1-1.4-.2-.6-.3-.3-.3-.1-.7 .4-.4 .6-.3 .7 0 .7 0 .6 .4 .2 1 .5 .6 .7 0 .9-.6 .2-.4-.2-.6 .3-.4 1.2-.6 .3-.4 0-.3-2.1-.8-1-.2-2.3 .5-4 .2-1 .3-.4 .3-.1 .4 .4 .3 1.1 .5 .2 .5-.2 .5-.7 .3-1 .2-.7-.1-.4-1.2-.2-.3-1.5-1.1-.5-.1-.6 .1-.8 .7-.6 .2-3 0-2.4 .5-.4 .3 0 .3 .3 .4 1.1 .5 .3 .2 0 .3-.4 .7-.5 .2-.7 .1-.7-.1-.3-.2-.7-.8-1.3-.6-1-.8-.3 0-.4 .2-.4 .6-.4 .4-.9 .1-2 .2-1.6 .5-1.7 .3-.4 .2-.9 .9-.4 .1-.6 .1-2.4 0-2.6 1.4-2.5 .5-.4 .3-.3 .7-.5 .4-2.7 1 .1 .3 2.3 .8 .1 .2 .3 .7 .6 .4 1 .2 4 .1 1.3 .3 .6 .3 .4 .5 0 .5-.3 .4-.7 .2-1.3-.1-.4-.1-1-.9-.6-.1-.7 .3-.7 .6-.3 0-1.7-.5-1.3-.1-3 .1-2.4 .2-2 0-1 .1-2.6 .7-2.4 .2-.6 .2-1.2 .5-.4 .3-.1 .4 .3 .3 1 .1 2-.5 1.4 0 3 .4 .2 .3-.6 .5-3 0-2.6 .3-3 .5-2.7 0-2 .8-.7 .1-2-.1-2.3 1.1-2 .3-2.4 1.7-2.3 .8-1.5 1.4-.5 .3-.7 .2-1.3 .1-.3-.3 .1-.6-.2-.4-.6-.1-.7 .1-.7 .4-1 .8-2.8 .9-1.8 1.4-2.7 1.4-2.2 1.5-2.1 1.9-1.4 .4-.3 .2-.4 .5-.2 .7-3.4 0 .2-.3 2.8-2.6 2-1.2 1.3-1.3 2.3-1.6 2.2-2.1 .2-.3-.3-.3-1 .1-2 .5-6.7 2.3-2.7 .4-2.7 1.2-.6 .1-.7-.3-.1-.3 .4-.7 .9-.6 .8-.5 .7-.1 1 .2 .6-.1 1.7-1.4 3-.6 2.7-1.2 2-.5 2.3-.9 5-1.6 1.6-.7 1-.7 .4-.3-.3-.3-.3 0-3.7 .4-3 1-1 .1-.9-.2 .2-.1 1.1-1.3 .1-.3-.6-.7 .1-.3 .3-.7 .6-.6 .8-.5 .6-.1 .7-.1 .2 .3-1.4 1.7-.2 .3 .2 .4 .9 .2 1 0 2.7-1.2 2.9-.5 3.3-.9 3.3-.6 2.8-.4 2.3-1 2-.4 .4-.1 1.3-1 .8-.5 .9-.3 1.6-.3 .7-.2 1.9-1.2 3.8-1.3 2.7-1.4 .6-.1 1.4 .1 .6-.1 .6-.6 0-.3 0-.7 .4-.3 1.4-.2 1 .2 .4 .3 .1 .4 0 .3-.2 .4-.3 .3-.7 .4-2.3 .6-1 .5-.5 .5-.1 .3 .9 .1 1.1-.4 1.6-.8 2.6-.6 .9-.3 .5-.3 .3-.4-.1-.3-.5-.7-.1-.3 0-.3 .3-.4 .7-.3 1.7-.2 .3 .2-.1 1 .2 .4 .3 .4 .7 .2 .6-.2 1-1 .7-.4 2.3-.2 1.4-.5 1.3-.1 .7-.2 .4-.4 0-.4-.6-1 0-.3 .2-.4 .6-.3 1-.1 .6 .1 1.4 1.7 .7 .4 .3 0 .4-.3 .4-.8 .6-.3 2.3-.3 1.4-.3 1.6 0 .7-.4 .3-.7 .1-.6-.2-.7-1.5-1.4 .2-.3 .4-.2 .7 0 1.5 .5 .5 .4-.3 .7 0 .3 .3 .3 1.7 1.2 .6 .1 .4-.1 1-.8 1.5-.7-.7-.3-2.9-.7-.8-.4 .1-1.6 .4-.4 1-.2 2-.3 1.7-.1 1 .1 1.5 .5 .3 .4-.5 1-.5 .6-1.1 1.1 .4 .3 .9 .1 .7-.1 .6-.3 .2-.4 .1-.7 .6-1.3-.4-1.3-.5-.5-.6-.3-3.7-.6-1.1-.3-.5-.3-.6-.7 .1-.4zM419.2 227.8l-.6 .3-.2 .4 .1 .3 .8 1 .4 .7 .3 .3 .3 .1 .7 0 1.3-.7 1.7-.3 .2-.1 .3-.3-.1-.4-.5-.3-1.9-.1-2-1zM444.7 231.8l.3 .4 1.4 .6 1.3 .3 .4-.3-.2-.3-.4-.3-.5-.2-1.6-.3-.4-.1zM418.8 240.2l-.6 .3-.2 .4 .1 .3 .8 1 .3 .7 .4 .4 .4 0 1.7-.7 1.3-.3 .5-.4-.1-.4-.4-.3-1.7-.1-.6-.3-1.1-.5-.3-.1zM379.2 243.2l-.5 .4-.2 .3 .2 .3 .2 .1 1.6-.4 .4-.3-1-.4zM442.7 244.2l.3 .4 1.4 .5 .6 0 .4-.2-.3-.3-.7-.4-1.4-.3-.3 .2zM377.4 244.9l-.5 .3 .1 .4 .2 .1 .6 .2 .4 0 .8-.3 0-.4-.4-.4-.4-.1zM423.1 245.2l-1.4 .3-3.4 .2-.7 .2-.3 .3-.1 .4 1.1 .8 .3 .4 .2 .5-.1 .3-.2 .3-1.3 .7-.1 .3 .2 .4 .7 .2 4.3 .8 2.4 .6 4 .6 .6 0 .8-.2 0-.4-.6-.3-2.2-.6-2.3-1.1-.6-.3 0-.3 .3-.7-.1-.3-.3-.3-.3 0-.3 .3-.4 1-.3 .1-1.7 0-.6-.2-.5-.3-.1-.3 .2-.7 .4-.5 .3-.2 1-.2 2 .2 .7-.1 1.3-.4 .8-.5 .1-.3-.4-.3-1.5-.6-.7-.1zM428.6 245.2l-.3 .4 .2 .3 1.5 .8 .7 0 .3-.1 .5-.4 .1-.3-.1-.3-.5-.3-1-.3-.7-.1zM402.4 248.3l-.5 .6-.3 .3-.3 .2-2.4 .2-1.6 .6-1.7 .2-.4 .2-.2 .3-.2 .4 .1 .3 .7 .4 1 .1 .5-.2 .8-.5 .7-.3 2.3 0 1.7-.6 1.7-.1 .2-.1 .3-.4 0-.3-.2-.2-1.6-1.3-.4 0zM466.6 249.6l-.5 .1-.3 .2 .3 .4 1 .5 .3 0 .7-.2 .5-.3 .1-.4-.2-.3-.4-.1zM456.8 250.6l0 .3 .2 .4 .7 .4 1.4 .2 .3-.1 .2-.2-.6-.7-.7-.3-.9-.2zM391 251.9l-.1 .4 .4 .3 1 0 .7-.3-.4-.4-.7-.1-.6 0zM467.8 251.9l.1 .4 .2 .2 .3 .1 .2-.3-.2-.3-.3-.2zM472.6 254.6l0 .4 .2 .3 .6 .2 .3-.1 .1-.1-.2-.3-.4-.4-.5-.1zM440.9 256.6l.3 .4 .8 .2 .4 0 .3-.2-.3-.4-.7-.1-.7 0zM462.7 261.3l-.7 .4 .2 .3 .5 .3 .7 0 .3-.2 .5-.4-.4-.4zM453.5 262.7l.1 .3 .2 .3 .6 .4 1 .1 .6-.1 0-.4-.3-.3-.7-.4-1-.2zM486.8 226.4l1 .1 1 .4 .5 .6 .1 .3-.2 .3-.8 .2-.7-.2-.8-.3-.5-.3-.1-.4 .1-.4zM393.3 228.8l.6 .1 .6 .2 1.2 1.4 .1 .3 0 .7-.2 .5-.3 .3-.4 0-.6-.2-1.5-.6-.5-.3 .6-1.1 .1-.3-.2-.7 .1-.2zM321.8 229.1l.5 0-.3 .7 .1 .3 .4 .6 .3 .1-.1 .4-2.1 1-1.1 .3-1 0-.6-.3-.1-.2 .1-.5 1.2-1.2 1.4-.7zM386.9 229.1l2.7-.1 1 .1 .1 .4 0 .6 .1 1.1-.9 .4-2 .3-3.3 0-.7-.1-.3-.2-.1-.1 0-.7 .1-.3 .4-.4 .6-.3 1-.4zM492.4 229.1l.7-.1 .5 .1 .6 .4 .3 .3 .1 .3-.2 .4-.6 0-.8-.4-.6-.5 0-.1zM399.3 231.4l1 0 1 .3 .4 .5 .1 .3-.1 .3-.4 .4-.4 0-.6-.1-.7-.3-.4-.3-.3-.7zM463.7 231.4l1 .1 .7 .1 .5 .2 0 .4-.5 .7-.3 0-.7-.1-.8-.3-.4-.3-.1-.4 .3-.3zM489.1 236.8l.7 .4 0 .3-.9-.3 0-.3zM398.6 239.2l.7 0 .3 .3-.2 .4-.8 .3-.7 .1-.2-.1 0-.3 .2-.4zM487.8 240.2l.6-.1 .7 .1 1 .3 .5 .4 .3 .3-.5 1-.3 .3-.7-.1-.6-.2-1-.6-.4-.4-.1-.3 .1-.4zM393.6 240.5l1-.1 2.3 .5 .1 .6 .4 1.1 0 .6-.8 1.5-.3 .1-.7-.1-2.7-.9-.3 0-2.3 .5-2.4 .2-2.6-.2-.3-.1-.2-.3-.1-1 0-.3 1.9-.9 1-.4 4.3-.3zM392.5 242.2l-.1 .4 .2 .4 .3 .1 .4-.1 .3-.4-.1-.4-.2-.2-.4 0zM326.1 241.1l.7-.1 1.3 1.2-2.6 1.3-.7 .2-.7-.1-.2-.4-.1-.3 .3-.6 1-.7zM494.8 241.8l.3-.2 .4 0 .9 .3 .7 .6 .1 .4-.4 .3-.3 .1-1.3-.4-.5-.3-.2-.4zM460.4 243.5l1.4 .1 .5 .3-.2 .3-.4 .3-.6 .1-.9-.4-.3-.3zM399.9 243.8l1 0 1.1 .4 .3 .4 .1 .3-.1 .5-.3 .3-.4 0-.7-.1-.6-.4-.4-.3-.3-.7 .1-.3zM485.4 244.2l.4-.2 .3 0 1 .2 .7 .3 1.6 1.1 .3 .3 .1 .3-.3 .4-.4 .1-.7 0-.6-.2-.7-.4-.6-.5-.9-1zM500.5 244.5l.3-.1 .7 .2 .4 .3 .2 .3-.3 .4-.7-.2-.6-.5zM498.8 249.2l.7-.2 .3 0 .7 .3 .9 .6 .2 .4 .1 .6-.2 .6-.4 .1-3-.9-1-.1-1 .2-.6 0-.7-.4-.3-.5 0-.3 .3-.2 2.7 .2 .6-.1zM483.1 251.5l1.3 0 1 .3 .4 .2 .2 .3 0 .3-.6 1.4-.3 .1-.7-.2-1-.5-.4-.5-.5-.6 .1-.4 .2-.3zM331.8 252.2l.5 .1 .9 .9 .3 .1-.4 .3-1.9 1-1 .2-.5-.2-.3-.3 0-.3 .4-.7 1-.7zM489.1 252.2l.3-.1 .7 .2 1.3 .6 .6 .7 .1 .4 0 .3-.3 .3-.7 0-1-.2-.7-.4-.4-.4-.1-.3zM494.8 255.2l.9 .1 1 .7 .3 .6-.2 .8-.7-.1-.6-.4-.8-.6-.3-.7 .2-.3zM488.8 256.4l.3-.1 .7 .3 .4 .4 .1 .3-.2 .2-.8-.2-.4-.3-.2-.4zM342.8 259l1.4 .1 .1 .2-.5 .7-2 1.3-1 1-.3 .2-.7-.2-.1-.3 1.1-1 .7-1.4 .3-.4zM399.3 259.6l1-.1 1 .1 .3 .4-.1 .7-.3 .3-.6 .2-.7 0-.6-.1-.4-.3-.1-.5 0-.3zM420 259.7l.7-.1 .7 .1 .5 .3 0 .3-.2 .4-.7 .3-1-.1-.4-.2-.1-.4 .1-.3zM488.8 259.6l.6 .1 1.7 .5 1 .1 .7-.2 .3-.4 .3-.2 .4-.1 .6 .3 .4 .3 1.3 2 .7 1.3 .7 .7 .6 .5 .7 .3 2 .2 1.3 .6 1.4 .9 .3 .1 0 1.1-2.3 0-.7-.6-2.6-1.4-3.1-2.8-1.7-.8-1-.3-1 .1-.5 .4-.5 .6-.3 0-.3-.2-.2-.4-.3-1.3-.7-1.3zM485.1 259.9l.7 .5 .2 .6-.2 .1-.4 0-.3-.2-.2-.2 0-.4zM416.3 260l.3 0 .2 .3-.1 .4-.5 0 0-.4zM409.6 261.5l.7-.1 .7 .1 .2 .2 .1 .3-.1 .3-.8 .4-.8-.2-.2-.2-.1-.3 .1-.3zM390.3 262.7l.6 .1 .3 .2 0 .3-.2 .4-.4 .2-.7 .1-.6-.3-.1-.4 .1-.3zM340.8 262.9l1 .1 1 .3-.2 .4-1.1 .6-.7 .2-.6-.1-.1-.1-.1-.3 .5-.8zM477.8 262.9l.6-.2 1.7 .2 .7 .3 .2 .5-.1 .3-.8 1.1-.3 .2-.4-.1-1-.4-.9-.8-.1-.3 0-.4zM337.5 263.3l.3 .1 .3 .6 .1 .3-.1 .4-.9 .6-.7 .2-.7 .1-.3-.2-.2-.4 0-.3 .2-.4 1-.7zM400.3 264l.3 .1 .2 .2-.2 .4-.7 0-.1-.4 .1-.2zM332.5 266l.3 .1 .3 .3 0 .3-.6 1-1.6 0-.1-.7 .1-.3 .6-.4zM489.1 266l1 .2 .8 .5 .2 .3 .1 .7-2.5 0-.4-1 .1-.3 .4-.3z"/>
<path fill="#22a884" d="M397.9 198.3l.7 .1 .3 .1 .1 .1 0 .4-1.1 .2-.6 0-.4-.2 0-.4zM413 200.6l2 0 .6 .2 3.5 .2 1.5 .3 .5 .3-.2 .7 0 1-.6 1 0 .4 .6 1-.2 .6 .1 .4 .2 .2 .3 0 .4-.2 .3-.7 .7-.4 1-.1 2.6 0 .6-.2 .3-.3 0-.3-.2-.4-.7-.4-.6-.1-2 0-1.2-.5-.3-.3-.2-1 .4-.4 .9 0 1.4 0 1 .2 .6 .2 1 .7 .7-.1 1.3-.5 1.4 0 .6 .2 .8 .7 .9 .4 3-.1 6.7 1.3 2.3-.1 1.4 .1 .6 .2 1 .5 .7 .2 1.7-.4 2 .2 1 .4 .4 .3-.4 .7-.4 .2-1 .1-2.6-.4-.4 .1-.6 .3-.2 .3 .2 .4 .6 .4 3.4 1.4 .3 .2 1 1.3 .3 .2 .4-.1 .4-.4 .6-1.3 .1-.4-.4-1 .4-1-.1-.7 .3-.3 1.1 0 1.7 .3 .5 .4-.3 .6 .2 .4 .4 .3 .8 .4 5.6 1.2 3.7 1.2 3.4 .9 1.6 .7 .2 .3-.5 .7 0 .3 .1 .4 2.3 2.3 .1 .3-.5 0-1.4-.7-1-.5-1.9-.4-3.1-1.1-6.3-1.3-2.7-1.1-.3-.1-.6 .2-.2 .3 .2 .4 .6 .5 .7 .4 1.8 .4 1.5 .7 .5 .3 .1 .4-.6 .1-.7 0-.6-.4-1.4-1-.6-.3-1.3-.1-1.4-.4-1.9-.6-1.8-.9-3.1-.5-1-.3-1.6-.9-2.6 0-1-.3-1.7-.8-.7-.1-5.7-.4-3.3-.6-1 .1-1.3 .6-.7 0-1.3-.3-1-.7-.7-.1-.3 0-1 .5-.7 .2-1 0-2.7-.1-4.3 .7-2.7-.1-.7 .1-1.3 .6-1.7 .1-1.3-.2-.3-.3 .4-.3 1.2-.7 2-.5 2.4 0 .6-.1 .3-.1 .3-.3-.2-.4-.7-.2-.7 .1-1.3 .4-.7 0-4-.4-2 0-2.3 .3-2.7 .1-1 .2-1.7 .6-1.8-.1-.7-.3 .1-.3 .6-.4 2.8-1.1 .9-.5 .1-.4-.2-.3-1.1-.6-1-.3-2.6-.4 .4-.4 10.2 .1 6.4-.4 2.6 .4 .5-.1 .4-.3 0-.4-.5-.4-.7-.2-1.7 0-.2 0zM384.3 201.3l1 0 .3 .1 .1 .2 0 .4-.4 .3-1 .4-.7 0-.7 0-.3-.3 .1-.4 .4-.4zM378.6 202.6l.9 .1 .6 .3 .1 .3-.6 .4-2.4 .8-2.8 1.2-2.5 .6-2 1.2-1.6 .9-.4 .3 0 .3 .4 .4 1.3 .2 4.6-.2 4.7 .3 .7 .3 0 .5-.4 .4-.6 0-1.7-.5-1-.1-8.7 .9-4.3 .7-2 .4-2.4 .7-3.3 1.2-2.2 .2-.6 .3-.3 .4 0 .6-.3 .4-.9 .3-1.6 .3-.8 0-1-.5-.3 0-.3 .2-.4 .7-.4 .3-1.6 .8-1 .2-1 .2-.6-.2-.4-.4-.3 0-.3 .4-.1 .7-.2 .3-.4 .4-1.4 .6-5.6 2.4-.7 .4-1 .9-.7 .3-.7 0 .1-.3 1-1-.2-.3-1.2 .1-2 .6-1.3 .6-2.7 1.5-2.3 1.1-2.4 1.6-1.3 .6 0-2.4 .7-.4 1.4-1 .6-.7 0-.3-.4-.2-.6 0-1.7 .3 0-1.6 8-2.8 2.9-1.4 1.8-1 .9-.7 .2-.3-.4-.3-.3-.4 7.6-2.3 1.3-.2 .4 .2 .3 .3 .3 .2 .4-.2 .3-.7 .3-.3 1.4-.7 1.3-.4 1.4-.2 .3 .1 .7 .4 .3 0 .2-.2 .4-1 .4-.3 1.3-.7 1-.4 1.7-.2 .3 .3-.1 .3 .1 .2 .4 .1 .7-.3 .2-.3-.3-.4 .1-.3 1.6-1 .9-.4 1.1 0 .3 .7 .6 .4 1.8-.1 2.3-.8 3-.7 3.6-1.1 4.9-1.4 2.2-.5zM344.3 214.4l-1.5 .6-.6 .4-.5 .7 0 .3 .8 0 2.7-1 .6-.3 .4-.7-.3-.3zM334 215.4l-.5 .3-.1 .4 .8 .1 .7-.1 .5-.4 .2-.3-.4-.3-.7 0zM335.4 220.4l-.5 .4-.2 .3 .1 .1 .7 .1 .6-.5-.1-.4zM392.6 207.3l1.1 0 .1 .4-.9 .2-.6 .1-.3-.3zM405 208.7l1-.3 .6 0 1.2 .3 .4 .3-.5 .4-2.1 .4-.6 .2-.5 .4-.5 .7-.4 .2-.3 0-.7-.2-.9-.7-.2-.4 .2-.3 2.3-.5zM389.9 208.9l.7 0 1.3 1.4 1 .5 .9 .6 .4 .3 .1 .3-.6 .4-1.4 .4-.4 .2-.7 .7-.6 .3-.7 0-1.6-.6-.2-.4 .6-.3 1.9-.5 .6-.5 .2-.3 0-.4-.1-.4-1.4-.9-.2-.3 0-.4zM383.9 209.3l1 .1 .9 .3 .4 .3 .2 .4-.1 .3-.7 .2-.7 0-1-.1-.6-.3-.5-.5 0-.3zM397.6 210l1 0 1 .4 .1 .3-.3 .7-.5 .3-1 .1-1 0-.6-.2-.2-.2 0-.4 .2-.4 .3-.3zM384.6 213.3l1.3 0 1 .1 .2 .3-.2 .4-.6 .6-.8 .4-2.6 .4-6.3 2.5-2.4 .5-.5 .2-1.3 1.1-1.3 .6-.5 .4-.1 .3 .2 .3 .2 .1 1.7 .4 3.6-.3 4.7 .5 .4 .3-.1 .4-.3 .2-.7 0-1.6-.4-1 0-10 1.1-5.2 1.1-1.9 .7-2.3 1.1-.3-.1-.7-.1-1 .1-.6 .3-.2 .3 0 .7-.4 .3-.9 .4-1.2 .3-.7 0-.3-.1-.7-.5-.3-.1-.4 .2-.2 .5-.3 .3-1.2 .7-.9 .3-1.4 .3-.3-.1-.7-.4-.3 0-.4 .4-.2 .9-1 .6-1.4 .7-1 .3-.3-.3-.1-.3-.3-.2-.7 0-2.3 1.4-4 1.1-2 .9-4.7 2.5-2.4 1.6-2.9 1.5-2.7 2-1 .6 0-1.9 3.3-2 3-2.5 1.3-1 .6-.7 0-.3-.2-.1-.7-.1-.6 .1-6.7 1.9 0-1.1 .7-.2 3.9-1.5 8.4-3 1.5-.7 2.4-1.4 1.4-1 0-.3-.9-.3 .3-.2 .2-.2 2.8-.7 2.6-.9 1.5-.4 1.1 0 .8 .5 .3 .1 .4-.2 .2-.7 .3-.4 .5-.3 1-.4 1.3-.3 1-.1 .4 0 .6 .4 .4-.1 .1-.2 .1-.6 .4-.5 1.4-.8 1-.4 2-.1 .3 .1-.3 .3 0 .4 .3 .1 .3 0 .6-.5-.2-.3-.4-.3 1.1-1 .6-.4 .9-.3 .8-.1 .6 0 .1 .1 0 .7 .1 .3 .2 .1 .6 .2 1-.1 .8-.2 1.9-.9 2.7-.4 3-1.1 6-1.8 1-.4 1.3-.9 .7 0 1.7 .3 .6-.1 .4-.1 1-1zM348.6 226.1l-1.4 .6-.8 .4-.5 .7 .2 .3 .8 0 2.2-.6 .6-.4 .5-.6 0-.4-.3-.2-.4 0zM338.5 226.8l-.3 .1-.9 .6-.1 .3 1.3 .1 .5-.1 .6-.3 .1-.4-.2-.3-.7-.1zM416 213.3l2 .1 1.5 .3 .6 .4-.1 .6 .1 1-.3 1 .1 .4 .5 .6 .1 .4-.3 .6 .1 .4 .4 .2 .3-.1 .5-.8 .6-.3 1.2-.2 2 0 .6-.2 .4-.3 0-.3-.2-.4-.8-.5-2.3 0-1.2-.5-.3-.3-.3-1 .5-.3 .6-.1 1 0 1 .2 .7 .2 1 .7 .3 0 1.7-.5 1-.1 .7 .1 1 .8 1 .3 3.3 0 5.7 1.1 1-.1 1-.2 1.7 .1 .6 .2 .7 .7 .7 .3 1.3-.5 1 0 1 .1 1 .3 .5 .4 0 1-.2 .3-2-.1-2-.4-.6 .2-.3 .3 .1 .4 .3 .3 .9 .4 2.3 .8 .9 .5 .3 .3 .1 .7 .4 .6 .3 0 .3-.2 .2-.4-.1-1 .1-.7-.6-1.3 1-.7 .3-.7 .5-.3 1 .1 1.5 .2 .5 .3-.2 .7 .2 .4 .5 .3 .5 .2 4.3 .9 4.4 1.4 3 .6 3 1.1 1.6 0 .9 .1 .5 .4-.4 .3-1.6-.2-1 0-.7 .4-.2 .2 0 .3 .4 .7 1.8 1.6 .9 1-.9 0-1.3-.3-2.7-1.2-4.3-1.5-3.4-.6-2-.2-.4 .2 .4 .1 1 .8 .7 .7-1.3 0-3.1-1.2-3.6-1.1-2.4-1.1-2-.2-1.3-.3-.7-.4-1-.7-.6-.1-1.4 .4-1.3-.1-.3-.1-.9-.8-.5-.3-1-.2-4 0-4-.9-1 .1-1 .7-.7 0-1.3-.3-1.1-.7-.6-.3-.3 .1-1 .5-1 .2-3.3-.1-4.4 .8-2.3-.3-.7 .3-.7 .5-.6 .2-1.4 .1-1.1-.4-.1-.3 .2-.3 .4-.4 1-.4 1.6-.4 2 .1 .7-.1 .4-.2 .3-.3-.2-.4-.8-.2-2.4 .5-5-.4-1 0-2 .4-2.6-.1-.8 .2-1.3 .8-.6 0-1-.1-.7-.4 0-.3 .5-.4 1.5-.5 1-.5 .9-.6 .1-.4-.1-.3-.4-.3-.8-.6-.7-.3-1.2-.1 .2-.1 2 .1 2.7-.2 3.7 0 5.3-.4 3 .4 .6-.2 .3-.3 0-.3-.6-.7zM456.5 224.1l-.2 .3 .3 .4 .4 .2 1.1 .2 .6 0 .4-.1-1.6-1-.5-.1zM371.2 213.9l.7-.1 .7 .1 .4 .2 .3 .3-.4 .4-.7 .1-.6 0-.4-.2-.3-.3 .1-.3zM436 214.3l.3-.1 .4 .2-.4 .1-.3 0-.1-.1zM467.4 216.4l.4 0 .5 .3-.2 .1-.7-.1zM393.6 219.6l.7 .2 0 .3-.7 .1-.4-.1 .1-.3zM405.6 220.7l.7-.1 .7 .1 .7 .4 .2 .3-.3 .4-2.3 .7-.4 .3-.6 .8-.3 .1-.7-.1-.7-.5-.6-.7 .4-.3 1.2-.2 .7-.3zM385.6 221.7l.8 .1 .5 .2 .7 .4 .2 .4-.2 .3-.7 .1-1-.1-.6-.2-.7-.5 0-.3 .7-.3zM391.6 221.8l.7 .2 .6 .6 1.4 .8 .9 .7 .1 .3-.5 .4-1.9 .4-1.3 .9-.7 .2-.6 .1-1.3-.3-.3-.3 .2-.3 .7-.4 2-.5 .8-.5 .1-.3 .1-.7-1.1-1zM435.7 221.6l.6 0 .4 .2 .2 .3-.1 .3-.5 .3-.3 0-.7-.3-.1-.3 .1-.3zM398.3 222.4l1 0 .9 .4 .1 .3-.2 .7-.5 .3-.7 .1-1 0-.6-.1-.3-.3 .1-.7 .2-.3 .3-.2zM410.6 224.7l1 0 .6 .4-.2 .4-.8 0-.7-.4 0-.3zM385.6 225.8l1.4 0 .9 .3-.1 .4-.8 .6-1.6 .7-2.8 .8-2.7 1.4-1 .2-1.3 .2-1 .3-1.7 1.2-1.6 .9-.3 .4 .1 .3 1.1 .4 3 .2 2-.4 .7 0 2.5 .8-.2 .1-1.4 .2-2.9 .2-2.7 .3-3 .2-5.6 1-2.2 .7-1.5 .7-1 .6-.3 0 .3 .1 .4 .6-.4 .2-.7 .1-.1-.3 .3-.3 .1-.4-1-.2-.6 .1-.5 .1-.4 .4-.3 1-.5 .3-.9 .3-1.4 .2-.5-.2-.5-.5-.4-.1-.3 .3-.3 .7-.5 .3-1.5 .7-1.4 .2-.3 0-.7-.4-.3 .1-.3 .4-.2 .7-1 .7-1.5 .6-.7 .2-.3-.1 0-.4-.4-.3-.6 0-.5 .3-1.5 1.1-3.7 .9-2 .9-4.3 2.3-2.4 1.6-2.3 1.2-3.4 2.4-2 .9-.6 .5-.7 1.3-.7 .7-1 .4-.6 0-.3-.1-.1-.4 .9-1 3.1-2.2 2.2-2.1 2.9-1.9 2-1.8 1.7-1.4 .3-.3 .1-.3-.5-.4-1.3 .2-3 .7-2.7 .9-2.3 .4-2.2 .9-.5 0 .2-.4 .6-.3 1.9-.5 2.9-1.5 2.4-.8 2.4-.9 7.3-2.7 2.5-1.3 1.5-1 .4-.4-.9-.6 .7-.4 4.4-1.3 1.4-.3 1.4-.1 1 .5 .3-.2 .2-.6 .3-.3 .8-.5 1.4-.4 1.6-.2 .7 .4 .3 0 .3-.3 0-.7 .4-.3 1-.7 1-.4 1.3-.2 .7 .1 .2 .2-.2 .3 .1 .3 .6 .1 .6-.4 0-.3-.4-.4 .1-.3 1.3-1 .7-.4 1.3-.2 .4 .1 .1 .2-.1 .6 .1 .4 .9 .2 1-.1 2.3-1.1 3-.5 2.7-1 3.7-1.1 3-1.2 2.3-.1 .7-.3 1-.9zM352.8 237.9l-1.6 .5-.7 .4-.4 .4-.2 .3 .2 .4 .8 0 2.2-.7 .4-.3 .4-.7-.1-.3-.3-.1zM342.6 238.5l-.9 .7 .5 .3 .6 0 .7-.1 .4-.2 .2-.3-.1-.4-.5-.2-.3 0zM415.3 225.7l1-.1 3.3 .7 3.4 .4 2.3 .6 2.4 .1 2.3 .6 3.3 0 2.4 .4 1.6 .1 1.4 .4 .7-.1 0-.3-1.4-.4-.3-.3 .3-.4 1.2 .1 1.5 .7 2 .4 .7 .2 .3 1 .3 .3 .4-.1 .4-.5 .2-.1 .7-.1 1.3 .2 1.1 .3 .6 .3 .3 .6 .4 .3 .3-.1 .3-.1 .4-.4 .6-.2 2 .2 .2 .1 .4 .3 0 .7 .3 .3 .5 .4 3.7 .7 4.6 1.4 3 .5 2.4 .9 2 0 1 .2 1.3 .6 .3 .4 .1 .3-.4 .2-.7 .1-2.3-.4-.9 .1-.5 .3 0 .4 .2 .3 1.3 1 1.9 1.7 .7 .4 2 .9 1.3 1.2 1.4 .5 .6 .3 .4 .4 .3 .4-.3 0-1.6-.4-1.5-1-2.4-.7-2.6-1.5-1.6-.5-2.4-1.1-4.3-1.6-1.9-.3-1.5 0-.3 .3 .8 1-.4 .1-1.2-.1-2.5-1.1-3-.9-1.6-.7-.5-.3-.1-.4 .2-.3-.1-.3-.3-.3-.3 .3-.1 .3-.2 .2-.7 .1-1.3-.1-1-.2-.7-.3-.7-.8-.3-.2-.3 .1-1 .6-2.4 .2-.7-.3-.1-.3 .2-.3 0-.4-.3-.3-.8-.3-3 .2-3.2-.9-1.1-.2-.7 0-2 .4-1-.1-1.3-.4-.7 0-2.3 .5-2.7 0-2 .2-2.3 .7-.7-.1-1.3-.4-.4 0-.3 .1-.7 .6-.6 .4-1 .1-.9-.1-.6-.4 0-.3 .1-.3 .4-.4 1-.4 2.3-.1 1.7-.3 .6-.2 .9-.6 .2-.4 .2-.7 .4-.4 .8 .1 1.4 1.4 .8 .2 .7-.2 1.3-.6 2.4-.4 .5-.4 .1-.3-.2-.4-.8-.5-.6-.2-1.4-.1-.6-.1-1.7-1-2.4 .1-2.2-1.2-.4-.3zM444.2 231.2l-.3 .3-.1 .3 .2 .4 1 .6 3 .8 .7 0 .3-.3 0-.5-.3-.3-.7-.5-3.3-.9zM453.7 236.5l0 .4 .3 .2 .4 .1 .6 0 0-.3-.3-.4-.7-.1zM373.6 226.1l.4 0 .6 .2 .2 .2 .1 .3-.3 .3-.4 .1-.6 .1-.4-.1-.2-.4-.1-.3 .3-.3zM357.9 227.1l.3-.2 .3 0 .2 .2-.3 .4-.5 0-.3 0zM409.3 228.1l1.7-.2 1.6 .1 .8 .1 .6 .3 .3 .4-.3 .8-.4 .3-.6 .4-1 .3-1.7-.1-1.7-.4-.4-.3-.3-.3-.1-.4 .2-.5 .3-.2zM463.4 228.1l.5 0 .8 .4 .3 .3-.6 .1-.5-.1-.5-.3-.2-.4zM387.6 229.5l1.5 0 .7 .3 .1 .3 0 .4-.1 .3-.4 .4-1.1 .3-1.4 0-1.3 0-.7-.2-.3-.2-.1-.3 .1-.3 .4-.4 .9-.3zM476.1 230.1l.9 .4-.2 .3-.7-.3-.2-.4zM320.5 230.4l.3 .1 .2 .3-.1 .4-.3 .3-.8 .4-.3 0-.5-.1 0-.3 .1-.3 .7-.5zM458.7 230.8l.6 0 .2 .4-.7 0-.3-.4zM471.4 232l.7 .2 .5 .3-.2 .3-.4 0-.7-.3-.1-.3zM405.6 233.1l.7-.2 1 .3 .6 .6 0 .4-.3 .1-2 .7-.3 .2-.5 .6-.2 .2-.3 0-.7-.2-.8-.6-.2-.4 .4-.3 1-.2 .6-.2zM434.7 234.1l.6 0 .3 .4-.2 .3-.4 .1-1 0 0-.4zM387.6 234.7l.3-.1 .7 0 .6 .2 .2 .4-.5 .3-.6 0-.7-.3-.2-.4zM393.6 234.8l1.7 1 .9 .7 .1 .4-.5 .3-1.9 .5-1.2 .8-.4 .2-.7 .1-.7-.1-.5-.2-.5-.3 .3-.3 .6-.4 1.8-.4 .7-.4 .4-.5 .1-.4zM399.3 234.8l1 .1 .6 .3 .1 .3-.2 .7-.5 .3-.7 .2-1-.1-.4-.1-.3-.2 0-.5 .3-.6 .4-.2zM422.3 235.5l.8 0 .3 .3-.1 .4-.3 .1-.7-.1-.2-.4zM410.3 237.2l.7-.3 .6 .1 .4 .2 .3 .3 0 .4-.7 .1-.9-.1-.4-.4zM474.4 237.4l.7-.2 1.6 .3 .8 .4 .1 .3-.5 .3-.7 .3-1-.1-.7-.4-.4-.4-.1-.4zM386.9 238.2l1.4-.1 .6 .1 .4 .2 .1 .1-.5 .7-.5 .3-1.5 .7-2.3 .6-2.4 1.5-1 .2-1.3 .1-1 .3-.6 .3-1.1 1-1.1 .7-.3 .3 0 .4 .4 .3 2 .5 1.7-.1 1.3-.5 .7 0 1.7 .8 .5 .3-4.2 .3-2.6 .4-2.7 .1-3 .6-2.4 .4-1.9 .6-1.3 .6-.4 .4-.1 .3 .5 .7-.5 .3-1.4 0-.1-.3 .4-.7-.5-.3-.7 0-.6 .3-.2 .3-.1 .7-.3 .3-1.1 .6-.7 .1-.7 0-.3-.1-.7-.6-.3 0-.8 1-1.5 .8-1.4 .2-1-.4-.3 .2-.4 .9-.9 .7-.7 .4-1.4 .3-.6-.7-.3 0-.9 .3-.7 .7 .2 .3 .4 .1 .1 .3-.5 .6-.5 .4-.5 .1-.2-.1-.1-.4 .2-.6-.2-.2-1.7 .2-1.3 .4-2 1.1-2 .8-2 1.4-2.7 1.4-4.3 3-2 1-.7 .6-.4 1-2.1 0 .7-.7 4.1-3.2 1.5-1.5 2.2-1.4 2.5-2.3 .4-.6-.2-.4-1-.1-3 .6-3 .9-1 .1-.5-.1 2.3-1.4 2.8-.8 2.9-1.2 3.8-1.2 2.6-1.1 2.4-1.4 .8-.6 0-.4-.5-.3 .2-.3 1.8-.7 3.7-1 1.4-.2 .6 .2 .4 .3 .3-.1 .3-.5 .4-.4 1-.5 1-.3 1.3-.1 1 .3 .3-.4 .1-.3 .2-.4 .4-.3 1.2-.7 .8-.2 1.2-.1 .1 .1 .2 .2-.1 .4 .3 .2 .3 0 .5-.2 .1-.4-.2-.3 .1-.3 .9-.7 1.3-.7 1-.1 .2 .1 0 .7 .2 .3 .6 .2 1-.1 2-.9 3.3-.7 2.4-1 3.3-.9 2.3-1.1 .7-.1 1.4 0 .6-.1 .4-.2 1-.8zM356.2 249.9l-1.3 .6-.6 .4-.2 .4 .1 .3 .7 0 2.1-.7 .3-.3 .2-.3-.1-.4-.5-.1zM347.2 250.3l-.5 .3 .1 .3 .7 .1 .7-.2 .3-.2 .1-.3-.4-.3-.7 .1zM415 238.2l1-.2 3 .7 3.3 .4 2 .5 2.4 .2 1.6 .5 .7 .1 3-.1 2.3 .4 1-.1 .3-.1-.1-.6 .2-.2 .5-.2 .8 .1 1 .2 1 .6 2.3 .5 .5 .3-.1 .7 .3 .1 .3-.5 .4-.1 2.3 .3 1.1 .5 .6 .7 .3 .1 .4-.1 .6-.5 .4-.1 1 0 1.2 .3 .2 .3 .1 .7 .2 .3 .6 .3 3 .5 4.5 1.5 2.5 .3 2.4 .9 2.6 .2 1 .3 .8 .4 .5 .3-.1 .3-1.8 .3-2 0-.4 .1-.2 .3 .2 .3 1.7 1.5 1.3 1.6 .7 .3 .7-.1 .7-.3 .3-.3 .2 0-.2 0-1-1.3 .1-.4 .5-.6 .1-.4-.2-.6-.3-.4 1.8 0 1.9 .4 .7 .3-.2 .3-.7 .4-.3 .3-.1 .3 .3 .7-.3 .3-.7 .1-.8 .3-.5 .3 .1 .3 .6 .7 .5 1 .5 .8 1 .7 2.4 1.2 .6 .6 .1 .4-.1 .3-.4 .1-.6 0-.4-.2-.6-.5-.7-1-.7-.5-1.9-.5-2.7-1.6-2.8-1.1-2.2-1.3-2.4-.6-2.4-1.1-1.6-.3-.7 0-.6 .1-.2 .2 .8 1.3-.3 .2-.7-.1-.5-.1-.7-.3-.8-.6-.6-.3-2.1-.5-2.6-1-.7-.3-.3-.3 0-.4-.3-.4-1 .5-1.7 0-1.3-.4-.5-.4-.2-.3-.3-.2-.4 .2-.3 .3-.3 .1-2.4 .4-1-.1-.6-.4-.3-.3 1.1-.7-.1-.3-.8-.3-.6 0-1.1 .3 0 .3 .2 .4-.2 .3-.4 .3-.9 .4-.6 0-.7 0-.6-.4 .2-.3 1.6-1-.3-.3-.9-.4-2.3-.5-.7 0-2 .4-2-.5-.7 0-2 .5-2.7 0-1.6 .2-2.4 .8-.3 0-1.7-.6-.6 .2-1 .9-1 .2-1-.2-.5-.4 0-.3 .5-.7 1-.3 2.3-.2 1.3-.3 .7-.2 .8-.6 .4-1.4 .5-.3 .6 .2 .4 .3 .5 .8 .4 .4 .7 .2 .7-.2 1.4-.6 1.9-.4 .5-.4 .1-.3-.1-.4-.3-.3-.5-.3-2.3-.3-1.4-.8-.3-.1-1.7 .1-.6-.1-1.9-1.2zM436.1 240.9l.5 .3 .4 .1 .2-.1 .2-.3-.7-.2zM441.8 243.6l-.1 .3 .1 .3 .6 .5 .6 .4 2.4 .6 .6-.1 .3-.4-.1-.3-.3-.3-.5-.4-3-.9-.4 0zM451.2 248.6l-.2 0-.1 .3 .5 .3 .3 .1 .2-.4-.5-.3zM482.8 238.5l.3-.1 .7 .1 .5 .4 .2 .3-.1 .2-.1 .1-.5 .1-1.1-.4-.2-.3zM376.2 238.8l.4-.1 .5 .2-.1 .3-.4 .1-.4 0-.1-.1zM432.3 238.7l.4 0 .6 .1 .3 .1 .2 .3-.5 .2-.6 0-.4-.2-.1-.3zM460.1 240.1l.3 0 .7 .2 .4 .2 .1 .4-.9 0-.5-.4-.2-.3zM409.6 240.5l1.7-.1 1.7 .1 .9 .4 .1 .3-.1 .3-.3 .7-.4 .4-.6 .2-1 .2-1.6-.2-1.4-.5-.4-.4-.1-.4 .1-.3 .3-.3zM389.9 241.5l1 .1 .7 .3 .1 .7-.1 .6-.3 .4-1.4 .4-1.6 .1-1.7-.1-.4-.1-.5-.3-.1-.4 .1-.3 .3-.3 .6-.4 1.3-.4zM325.5 242.1l.3-.1 .3 .1 .1 .1-.1 .4-.6 .3-.7 0 0-.3zM467.4 243.8l.7 .1 .5 .3-.1 .4-.4 0-.4-.1-.3-.3zM406 245.4l.6-.1 .7 .2 .8 .7 0 .4-.5 .3-1.6 .5-.7 .8-.3 .2-.7-.1-1-.7-.2-.4 .2-.1 1.7-.6zM478.8 245.5l1.5 .7 .3 .4-.1 .3-.4 0-.9-.3-.4-.4-.4-.6zM389.3 247.1l.3-.1 .7 .1 .4 .1 .1 .4-.5 .2-.7-.1-.2-.1-.3-.4zM400.3 247.2l.6 .1 .7 .3 .1 .3-.2 .7-.4 .3-.5 .1-1 .1-.7-.2-.2-.3 .2-.8 .4-.3 .3-.2zM394.9 247.5l.4 0 .6 .4 1.3 1 .2 .4-.5 .3-1.3 .3-.7 .2-1 .9-.4 .3-.9 0-1-.4-.3-.3 .2-.3 .5-.4 1.9-.5 .7-.4 .3-.4zM421.7 247.5l.6 .1 .5 .3 0 .7-.4 .3-1.1 .1-.6-.4 0-.3 .1-.4 .5-.3zM416.6 247.9l.4-.3 .3 0 .7 .3 0 .4-.4 .3-1 .1-.1-.1 0-.3zM410.3 249.2l.7-.1 .9 .2 .3 .3 0 .7-.2 .3-.4 .1-.6 0-.8-.1-.4-.3 0-.4 .2-.5zM406 249.5l.3-.1 .3 0 .4 .1 .3 .2 .2 .6-.1 .3-.4 .3-1.7 .1-1.3 1.2-.7 .2-1-.1-.6-.4 .1-.3 .8-.4 .7-.2 1.3 0 .7-.2zM415 249.5l.3-.1 .3 .2 .7 .8 1 .5 4.7 .7 2 .5 4.7 .7 2 0 1.2-.2 .2-.3-.5-1 .8 0 2.6 .8 2.3 .5 1.2 .3 .6 .4 .3 .3 0 .4 .3 .4 .7-.6 .6-.1 1.4 .1 .6 .2 .6 .3 .3 .3 .1 .3 .4 .3 .3-.1 .5-.5 .5-.2 1.3 0 1 .2 .5 .4-.1 .6 .1 .4 .6 .3 .9 0 .4-.1 .3-.2 0-.4 .3-.3 .7-.3 .7-.2 .6 .1 .3 .4-1.3 1 .2 .3 .5 .4 2.3 1 .7 .2 2.4 .2 1.6 .7 .7 .2 2.3 0 1.1 .4 .9 .5 .7 .3 2 .1 1.8 .4 .5 .3-1 .5-.5 .5-.1 .4 .4 .6 .2 .3 3 .5 1 .4 1 .6 .7 .6 .5 .7-.1 1.3-3.2 0-1.5-.9-1.6-1.1-.2-.3 .3-1.1-.2-.5-.7 0-.6 .2-.3 .3 0 .4 .5 .7 .1 1 .1 .3 1.1 1-2.3 0-.6-.5-1.6-1-2.9-1.2-1.8-1.1-2.4-.6-2-1.1-1.3-.2-.8 0-.5 .2-.2 .1 .7 1.4-.2 .1-.3 0-.7-.1-1-.4-1-.8-2.4-.5-2.4-1-.5-.3-.3-.4-.1-.7-.6 .6-.4 0-1.6-.1-1.3-.4-.4-.7-.3-.2-.4 .1-.5 .4-.5 .2-1 .2-1-.1-.7-.3 0-.3 .1-.4-.1-.3-.3-.3-.3-.1-1 .1-1 .3 .1 .7-.3 .3-.8 .2-.6-.2 .1-.3 1.1-.7-.5-.3-.8-.4-2.7-.7-2.3 .2-2.3-.3-1.7 .3-2.4 0-3 .3-1.6 .6-.5 0-.6-.4-.1-.3 .4-.3 1.4-.4 1.7-.8 .7 0 1 .3 .6 0 1.4-.6 1.6-.5 .5-.4 .1-.3-.2-.3-.4-.4-.9-.4-1.4-.5-3-.6-2.7-1.2-.2-.3 .2-.6zM434.3 252.9l.4 .4 .3 .1 .4-.1-.1-.4-.3-.1-.3 0zM440 256l-.1 .3 .1 .3 .4 .4 .6 .4 2 .4 .5-.2 .2-.3-.1-.3-.2-.4-.7-.3-2-.4zM448.2 261l.5 .2 .2-.2-.2-.1-.3 0zM461.3 261l-.5 .3 .1 .4 1.5 1.3 1.3 1.7 .7 .3 .3 0 .5-.3 .2-.4-.1-.3-.9-1 0-.3 .8-1 0-.4-.1-.3-.4-.2-.3 0-1.7 .2zM478.4 249.9l.6 0 .6 .4 .3 .3 0 .3-.5 .2-.3 0-.7-.2-.5-.3-.1-.3 .3-.4zM388.3 250.5l1.3 0 .7 .1 .3 .3-.3 .7-.8 1 .4 .3 .7 .1 2 0 2-.5 2.3-.1 1.4-.6 .6-.2 1.3 0 .9 .3-.7 .7-1.5 1-.6 .7 0 .3 .2 .4 2 1.3-.3 .3-6.9 .2-4.4 .8-2.3 0-.7 .4-.2 .3 .1 .3 .3 .4-.1 .3-1.7 .3-1 0-.8-.3-.2-1-.6-1 0-.3 .4-1.4 .4-.6 .1-.4-.4-.3-.3 .2-.1 .8-.3 .3-2.4 1-.8 .7-.1 .3 .5 .4 1.5 .1 .7 .1 .4 .4 .3 .7-.4 .4-1 .3-1 .1-.6-.1-1-.3-.4 0-1.3 1-1 .2-1.7-.3-1 .1-1.4 .6-1.1 .7 0 .3 .7 .7 .2 .3-.3 .4-.4 .1-.7 .1-.6-.2-.6-.4-.2-.3 0-.3-.2-.3-1.1-.1-.5 .4-.2 .3-.2 1-.4 .4-.6 .2-1.1 0-.6-.2-.7-.6-.3 0-.5 .9-.5 .3-1 .5-1.4 .2-1-.4-.3 .3-.2 .8-1.8 1.3-1.4 0 .1-.3-.2-.4-.5-.1-.9 .5-.4 .3-12.8 0 1.4-.7 4-1.2 1.7-.7 4.3-2.3 2-.2 .5-.3 .2-.3 0-.3-.3-.4 0-.3 .7-.3 1.1-.4 1.2-.1 .3 0 .7 .4 .3 0 .3-.2 .2-.4 .4-.3 1.4-.7 1.4-.2 1 .3 .4-.8 .4-.3 2.9-1.8 .6 0 1.4 .4 .6-.1 .5-.5 .4-1 .5-.4 1-.2 .6 .2 .2 .4 0 1 .5 .3 1-.1 .6-.2 .5-.7 .1-.3-.2-1 .3-.4 .7-.1 .3 .2 .5 .6 .9 .5 .6 .2 .4-.1 1.3-1.1 1-.3 2-.4 2.4-1.2 1.6 0 .7-.1 1-.9zM386.9 252.9l-.6 .4 .1 .3 .2 .1 .7-.1 .5-.3-.1-.4zM359.5 262l-1 .7-.3 .3 .1 .3 .8 0 1.2-.3 .6-.3 .2-.7-.2-.3-.7 0zM378.6 250.9l.6 0 .3 .4-.3 .3-.6 .1-.1-.1-.2-.3zM473.1 252.1l.3 0 2.7 .5 1.3 .5 1 .5 .8 .7 .5 .7 0 .3-.3 1-.3 .2-.3 0-1.7-.4-1.4-.4-1.3-.7-1.3-1-.1-.4zM483.8 252.3l.3 .1 .2 .2-.2 .1-.4-.1 0-.3zM330.8 253.2l.7 0 .2 .1-.1 .3-.4 .4-.7 .1-.2-.1 .1-.4zM463.4 255.5l.3-.1 .7 .2 .4 .4 .1 .3-.4 .3-.4 .1-.4-.1-.4-.3-.1-.3zM481.8 255.5l.8 .1 1.1 .7 .5 .7 0 .3-.2 .3-.2 .3-.7 .1-1-.3-.3-.3-.3-.4 0-1 .1-.4zM410 257.5l.6-.2 .7 .1 .4 .2 0 .4-.3 .3-.4 .2-1 0-.4-.2-.1-.3 .2-.4zM468.1 257.6l.3-.2 .3 .1 .4 .1 .1 .4-.1 .1-.7-.1-.3-.3zM326.1 259.3l1 0-.3 .1-.3 .3-1 .4-.4 0-.3-.1 .4-.3zM478.8 259.6l.6 0 .6 .4 .2 .3 0 .4-.1 .1-.3-.1-.8-.4-.3-.3zM399.9 260l.7 0 .2 .3-.3 .4-.7 0-.3-.4zM320.8 260.9l.3 .1 0 .3-.6 .4-.4 .1-.3-.1 .2-.4 .5-.3zM473.7 261.3l.4 0 .7 .4 .3 .3 0 .4-.4 .2-.3 .1-1.2-.4-.3-.3 .2-.3 .3-.3zM478.4 263.4l.4 0 .6 .3 .1 .3-.4 .2-.7-.1-.3-.4zM484.8 264.1l.6 .2 .4 .4-.1 .3-.6 .1-.5-.4-.1-.4zM500.8 266l.6 0 .6 .4 .2 .3-.4 0-.7-.3zM476.4 266.9l.4-.2 .6 .1 1.2 .6 .3 .3-2.5 0z"/>
<path fill="#7ad151" d="M407.6 203l2.7-.2 2.3 .1 1.7 .2 .9 .2 .2 .4-.3 1.3-.6 .3-1.9 .4-3.5 0-2.3-.4-.5-.3-.1-1.3 .1-.3zM430 203.7l1.3 .3 3.7 0 3.2 .3 6.8 1.4 .2 .3-1.8 .1-.4 .2-.2 .4 .2 .4 .4 .2 2 .7 .3 .4-1 0-1.7-.3-5-.4-5.3-.9-2.9-.1-.4-.4 .6-.3 2.3-.1 .4-.1 .2-.5-.2-.4-.7-.4-1.2-.2-1-.3zM362.9 208.3l1.3-.2 .4 .1 0 .2-.6 .3-1.5 .4-.5 .6 0 .3 .2 .3 .7 .1 1.7-.1-.3 .4-6.6 2-5.5 1.2-2.3 .9-.7 .1-.4-.2 .2-.3 .5-.3 2-.8 .6-.6-.1-.3-.5-.3-.6 0-1 .3-.8 0-.1-.4 .3-.3 .6-.3 1.6-.2 1-.3 2.5-.9 2.4-.6zM461.1 209.6l1-.1 1.6 .2 2.5 .7 1.6 .6 .5 .4 .2 .3-.1 .7-.3 .3-.4 .1-2-.1-1.5-.3-2.1-.7-.7-.3-.4-.4-.3-.3 0-.7zM343.8 212.7l.7-.2 .3 0 .3 .2-.1 .3-.6 .4-.9 .1-.4-.1 .1-.4zM338.2 215.4l1-.2 .3 .2-.3 .3-1.2 .7-1.2 .4-.6 .6 0 .3 .3 .4 .3 .1 2-.2 .2 .1-.2 .3-.5 .3-1.8 .5-3.3 1.6-2.5 1-4.2 1.4-2.2 .9-.5 .1-.1-.1 .8-.7 1-.4 .6-.6 .2-.3-.1-.3-.4-.3-.7 0-.6 .3-.7 .1-.3-.1 .4-.4 6.2-3 2.7-1 3-.8zM408.6 215.4l3.7-.1 1 .1 1.3 .3 .4 .4-.1 1-.2 .3-.6 .3-1.8 .4-2.7 0-2.2-.4-.6-.3-.1-.3 0-1 .4-.4zM429.3 216.4l4.7 0 3.2 .3 6.2 1.4-.4 .2-1.6 .2-.3 .2-.1 .4 .4 .4 .3 .2 1.5 .4 .6 .3 .3 .4-1.1 0-2.6-.6-3.2-.1-2.7-.3-2.8-.6-2.9-.1-.5-.4 .5-.3 2.2-.1 .3-.1 .3-.5-.1-.3-.5-.4-.3-.2-.7-.1-.3-.2-.6-.1zM344.2 216.7l.6 0-.1 .4-.8 .3-.4 0 0-.3zM366.6 220.1l1.3 0-.2 .3-.6 .4-1.5 .4-.4 .1-.3 .5 0 .3 .3 .3 .4 .1 1.6-.1-.1 .4-5.2 1.6-2.6 .7-3.8 .7-2.6 1-.2-.3 .4-.4 .6-.3 1.2-.4 .6-.6 0-.4-.3-.2-.3-.1-2 .2-.4-.2 .2-.3 .5-.4 2.7-.5 2.1-.8 2.2-.7 4-.7zM457.4 221.4l.7-.1 .6 0 1.4 .1 1.6 .4 2.9 1 1.2 .6 .1 .4-.5 1.1-.3 .2-1.4 0-3.2-.7-1.9-.6-1.3-.7-.1-.3zM347.9 224.4l.6-.1 .4 .1 0 .4-.4 .3-1 .3-.3-.1-.2-.2 .1-.3zM342.5 227l.7-.1 .3 0 .2 .2-.2 .4-.6 .3-1.4 .5-.7 .4-.3 .4 .1 .4 .2 .3 .4 0 1.6-.1 .3 .1-.3 .3-2.3 .9-4 1.8-4.3 1.5-2.9 1.2-.6 0 .7-.7 1.4-.7 .5-.6-.1-.3-.4-.4-.6 .1-.7 .3-.7 .1-.3-.1 .4-.4 1.9-.9 3.4-1.8 2.6-1 3.7-1zM347.9 228.7l.3 0 .3 .1-.4 .3-.6 .1-.1-.1 .2-.3zM428.3 228.8l3.4-.1 2 .1 2.4 .3 3.6 .9 1.5 .1 .3 .4-1.8 .2-.5 .5 0 .3 .5 .4 1.8 .6 .6 .3 0 .4-.9 0-2.2-.6-2.7-.1-2.9-.3-2.7-.6-2.7-.2-.6-.2 .2-.4 .7-.1 1.4 0 .3-.1 .3-.5 0-.3-.6-.5-.8-.2-.2-.2zM369.6 232.2l.9 0 0 .3-.5 .3-1.8 .5-.5 .5 0 .4 .2 .2 .3 .2 1.5-.1 .2 .3-.7 .4-5.5 1.7-4.2 .7-1.3 .4-1.3 .6-.4 0-.3-.1 .2-.3 .4-.3 1.4-.5 .3-.2 .3-.3 .1-.4-.4-.5-.3 0-1.3 .2-.7 0 0-.4 .3-.3 .4-.2 .3-.1 1.3-.2 1-.2 2.5-1 1.2-.3 4-.8zM452.4 232.7l.3 0 1.5 .1 3.9 .7 3.3 1 2.5 1 .7 .3-.2 .1-1.3 .1-.4 .2-.2 .3 .1 .4 .5 .6 .1 0-.1 .2-1.6-.2-3.5-.6-2.2-.7-2.1-.9-.7-.1-.3-.3-.4-.1 1.1 0 .3-.1 .3-.5 0-.4-.3-.3-.3-.3-1.1-.4zM446 234.3l.4 0 .6 .2-.3 .3-.3 0-.6-.3zM351.9 236.2l.8 0 .1 .3-.3 .4-1 .3-.3 0-.3-.3 .2-.4zM347.5 238.5l.4 .2 0 .2-.3 .3-.5 .3-1.6 .6-.5 .4-.1 .4 .1 .3 .2 .2 .3 .1 1.4-.2 .3 .1 .1 .1-.4 .4-2.1 .7-4.2 2-3.4 1.1-3 1.2-.4 0 .1-.3 .5-.4 1.4-.8 .4-.5-.1-.3-.3-.3-.6-.1-1.4 .4-.3 0 .4-.4 1.6-.7 2.9-1.6 1.5-.7 2-.7 2.9-.8 1.7-.9zM351.9 240.5l.5 0-.3 .4-.6 .1-.2-.1 .3-.4zM427 241.2l3.7-.1 1.9 .1 2.3 .3 2.1 .6 2.4 .3 .3 .2-.3 .2-1.7 .2-.4 .6 .1 .3 .3 .3 1.5 .4 .6 .3 .4 .3-.2 .2-.3 .1-2-.5-5.4-.4-3-.6-2-.2-.6-.1-.4-.1 .1-.4 .6-.1 1.3 0 .4-.1 .3-.4 0-.4-.3-.4-.4-.2-.5-.1-.1-.1-.8-.2zM444 242.5l.7 .1 .1 .3-.8 0-.2-.3zM372.6 244.2l.4 0 .2 .2 .1 .2-.4 .3-.9 .3-.8 .1-.6 .6-.1 .3 .4 .5 .3 .1 1-.2 .4 .2 0 .1-.5 .3-5.5 1.7-4.1 .8-2.3 .9-.3 0-.1-.3 .3-.4 .6-.3 1.2-.4 .5-.6-.2-.5-.3-.1-.7 0-1 .2-.3-.1-.2-.2 .1-.3 .4-.4 2.7-.4 3.2-1.2 4.1-.8zM448.7 244.3l6.7 1.3 6 2 .4 .3-.4 .3-1-.2-.7 0-.3 .2-.2 .4 .5 .6 1.8 .7 .4 .4-.2 .1-1-.1-1.6-.6-4.2-.8-3.9-1.3-1-.1-1-.1-.6-.2-.1-.3 .4-.3 .4 0 1.3 .2 .3-.1 .4-.5-.1-.3-.6-.5-.8-.2-.7-.3-.4-.3zM443.4 246.5l.3-.2 .3 0 .7 .3 .1 .3-.4 .3-.4 0-.6-.3-.1-.3zM355.9 247.9l.4 0 .2 .1 .1 .3-.1 .1-.6 .5-.8 0-.2-.3 .2-.3zM351.5 250.2l.5 .1 .1 .3-.3 .3-.6 .4-1.3 .4-.6 .6-.1 .3 .2 .3 .5 .3 1.4-.3 .2 .4-.4 .3-1.6 .6-3.1 1.4-1.7 .7-2.5 .8-2.2 .9-.8 .2-.2-.2 .3-.4 .9-.4 .6-.5 .3-.4-.1-.3-.2-.3-.3-.1-1.3 .1-.2-.1 .5-.3 4.6-2.4 1.8-.6 3-.8 2.3-1.2zM355.9 252.2l.3 .1-.1 .3-.6 .2-.3-.2 .5-.3zM426 253.5l.7-.1 5.1 .2 1.9 .4 2 .5 2 .1 .2 .4-.4 .3-1.5 0-.3 .1-.3 .6 .3 .5 2 .5 .4 .3 .1 .3-.5 .2-.4 0-1-.4-1.3-.3-3.6-.1-4.1-.9-1.5-.1-.2-.4 1.7-.1 .5-.5-.1-.4-.4-.4-.9-.2-.6-.4zM475.1 253.6l1.2 0 .8 .4 .7 .5 .2 .5-.2 .1-.7 0-.8-.1-.7-.4-.5-.3-.2-.3zM389.3 253.9l2.3-.2 1 .1 .9 .2 0 .3-.1 .7 .1 .6-.3 .4-.8 .3-1.4 .3-2.4 .2-1.7-.2-.2-.3-.3-1.3 .4-.4 .9-.3zM441.7 254.6l.4 0 .5 .4-.2 .3-.6 0-.4-.3 .2-.4zM374.9 256.3l1-.2 .5 .2-.1 .3-.4 .4-.7 .3-1.3 .2-.5 .5-.1 .3 .3 .4 .3 .2 1.4-.3 .3 .4-.3 .3-2.7 .8-3 .9-4 .8-1.7 .7-.4 0-.2-.2 .2-.3 .3-.3 .7-.4 .7-.1 .6-.5 .1-.4-.3-.3-.4-.2-1 .2-.7-.1 0-.2 .2-.4 .5-.3 1.7-.2 3.2-1.2 1.5-.3 2.6-.4zM445.7 256.3l.7-.1 1.6 .7 4.4 .7 3.6 1.3 1.5 .4 .7 .4 .1 .3-.2 .2-.4 0-1.3-.3-.4 .1-.2 .3 0 .4 .2 .4 .4 .2 1.4 .4 .5 .3 .1 .3-.8 0-1.6-.5-4.1-.8-2.2-.7-1.3-.5-2.4-.4-.1-.1-.1-.3 .2-.2 .4 0 1.3 .1 .3-.1 .3-.5-.3-.5-.6-.3-1-.2-.5-.3-.3-.4zM441.4 258.6l.6 0 .4 .4-.3 .3-.4 0-.6-.3 .1-.4zM359.5 259.9l.7-.1 .2 .2-.1 .3-.8 .3-.3 0-.1-.3 .2-.3zM355.5 262l.9 0 0 .3-.4 .4-.7 .3-.8 .2-.6 .3-.3 .5 0 .3 .3 .4 .3 .1 1-.2 .5 .1 0 .3-.4 .4-1.4 .4-4.1 1.9-3.8 0-.1-.5-.4-.2-.3-.1-.9 .1 .2-.1 .1-.2 3.7-2 1.6-.7 4-1.1zM359.5 264.2l.4-.1 .1 .2-.5 .3-.3-.3zM470.4 265l1.2 0 .8 .4 .9 .6 .2 .4-.1 .3-.3 .1-.7 0-1.3-.4-.9-.7-.1-.3z"/>
<path fill="#d2e21b" d="M409 203.6l1.3-.2 1.7 .1 1 .2 .4 .3 .1 .3-.3 .4-1.1 .3-1.1 .1-1.5-.1-1.1-.3-.3-.4 .1-.3zM434.7 204.9l.6-.2 1 0 2.9 .3 1.2 .3 .7 .4 .4 .3 0 .3 0 .4-.4 .3-.7 .2-1.7 0-2-.2-1.4-.4-.6-.3-.4-.2-.1-.4 0-.4zM358.5 209.7l1.4 0 .7 .3 .1 .4 0 .3-.3 .3-.5 .4-1.7 .6-2.7 .7-1.3 0-.3 0-.5-.3-.1-.4 .1-.3 .2-.3 .5-.4 2.1-.8zM464.1 210.9l.8 .1 .4 .4-.9 0-.5-.4zM409.6 216.1l1.4-.1 1.1 .1 .8 .3 .1 .3-.3 .4-1.1 .3-1 0-1-.1-.6-.2-.4-.4 .2-.3zM434.3 217l2 .1 2 .4 1.2 .6 .3 .3 0 .3-.2 .4-.2 .2-1.1 .2-2 0-2.1-.4-.9-.4-.3-.3-.2-.3 .1-.4 .2-.3 .6-.3zM332.8 218l1.4-.1 .3 0 .3 .3 .2 .2 0 .3-.2 .4-.9 .7-2 1-2.1 .7-1.3 .2-.3 0-.6-.3-.1-.3 .1-.3 .2-.4 .8-.6 2-1.1zM361.5 221.7l1.4 0 .3 .1 .3 .3 .1 .3 0 .4-.3 .3-.4 .3-1.7 .7-2 .5-1.7 .1-.6-.3-.2-.3 0-.3 .2-.4 .4-.3 1.9-.9zM459.4 222.3l1-.1 1.7 .4 1.2 .5 .4 .3 .1 .4-.3 .3-.8 .1-.8-.1-1.3-.3-1.3-.7-.2-.3 .1-.4zM338.2 229.4l.6 .1 .4 .2 .2 .4 0 .4-.3 .3-.9 .7-2 .9-1.7 .6-1.3 .2-.4-.1-.3-.3-.1-.3 0-.3 .3-.4 .8-.6 1.2-.7 1.1-.5 1.4-.4zM432.3 229.5l2-.1 2.3 .4 .8 .3 .4 .4 .2 .3 0 .4-.2 .3-.5 .2-1 .2-1.6-.1-1.8-.3-.9-.4-.4-.3-.1-.3 0-.4 .1-.3zM364.2 233.8l1-.1 .7 .1 .5 .4 .2 .3-.1 .3-.2 .4-.5 .3-1.6 .7-2.3 .5-1.4-.1-.4-.4-.1-.4 .2-.3 .8-.7 1.7-.6zM455.4 234.2l.6-.3 .7 0 1.4 .1 1.3 .4 1.6 .8 .3 .3 .1 .3-.1 .4-.4 .3-.8 .1-1.1-.1-1.6-.4-1.4-.5-.5-.4-.2-.4-.1-.3zM341.8 241.2l1.4-.1 .3 .1 .3 .3 0 .4-.1 .3-.7 .7-2 1-1.8 .6-1.4 .1-.5-.4-.1-.3 .1-.3 .2-.4 .9-.6 1.8-.9zM431 241.8l1-.1 1 .1 2.2 .4 .6 .4 .3 .3 .1 .3-.1 .4-.4 .4-1 .2-1.7-.1-1.7-.3-1-.5-.2-.4 .1-.7 .5-.3zM367.2 245.9l1.4-.1 .6 .3 .3 .5-.1 .3-.2 .3-.4 .4-1.6 .7-1.6 .3-1.4 .1-.3-.1-.4-.3-.1-.4 0-.3 .3-.4 .4-.3 1.6-.7zM452.7 245.9l.7-.1 1.1 .1 1.4 .3 .9 .4 1.2 .6 .2 .4 0 .3-.1 .4-.4 .3-1 .1-1.7-.3-1.6-.5-.7-.4-.4-.3-.2-.3 .1-.7zM345.9 252.9l1.3-.3 .7 .2 .3 .3 .1 .5-.5 .7-1.9 1-1.7 .6-1.4 .2-.4-.1-.2-.3-.1-.4 0-.3 .6-.7 1.5-.8zM429.3 254.2l1.4-.1 2 .2 1 .3 .5 .4 .2 .3 0 .3-.1 .4-.3 .3-.7 .2-1.3 0-1.7-.3-1-.3-.3-.3-.2-.3 0-.7zM389.3 254.6l1-.2 1 .1 .4 .1 .2 .2 .1 .2 0 .3-.4 .4-1 .3-1 .1-1-.1-.5-.4 0-.3 .3-.3zM370.2 257.9l1.4 0 .3 .1 .3 .3 .2 .3 0 .4-.2 .3-.4 .4-1.6 .6-1.3 .3-1.3 .1-.7-.4-.1-.6 .1-.4 .4-.3 1.4-.7zM450 257.9l1.7 .1 2.1 .6 .9 .7 .2 .4-.2 .6-.6 .4-1.1 0-1.3-.3-1.3-.4-.7-.4-.5-.6 0-.4 .2-.4 .3-.2zM350.9 264.3l1-.1 .4 .1 .3 .4 .1 .3 0 .4-.6 .6-1.2 .7-2 .7-1 .2-.7-.3-.2-.3-.1-.3 .1-.3 .6-.7 1.6-.9z"/>
</g>
<rect x="317.8" y="193.6" width="186" height="74.1" fill="none" stroke="#c6c6c6" stroke-width="1.0"/>
<text class="h m" x="410.8" y="191.4">test scene</text>
<text class="l m" x="408" y="287.9">X(mm)</text>
<text class="l m" transform="translate(300.4 236.05) rotate(-90)">Z(mm)</text>
<text class="t e" x="314.9" y="204.73">35</text>
<text class="t e" x="314.9" y="235.63">30</text>
<text class="t e" x="314.9" y="266.53">25</text>
<text class="t m" x="318.1" y="277">−15</text>
<text class="t m" x="349" y="277">−10</text>
<text class="t m" x="379.9" y="277">−5</text>
<text class="t m" x="410.8" y="277">0</text>
<text class="t m" x="441.7" y="277">5</text>
<text class="t m" x="472.6" y="277">10</text>
<text class="t m" x="503.5" y="277">15</text>
<rect x="515.6" y="174.4" width="6.1" height="14.27" fill="#d2e21b"/>
<rect x="515.6" y="188.62" width="6.1" height="14.27" fill="#7ad151"/>
<rect x="515.6" y="202.85" width="6.1" height="14.27" fill="#22a884"/>
<rect x="515.6" y="217.07" width="6.1" height="14.27" fill="#2a788e"/>
<rect x="515.6" y="231.3" width="6.1" height="14.27" fill="#355f8d"/>
<rect x="515.6" y="245.52" width="6.1" height="14.27" fill="#3c508b"/>
<rect x="515.6" y="259.75" width="6.1" height="14.27" fill="#443983"/>
<rect x="515.6" y="273.98" width="6.1" height="14.27" fill="#481668"/>
<text class="t" x="523.6" y="178.13">0</text>
<text class="t" x="523.6" y="192.36">−6</text>
<text class="t" x="523.6" y="206.58">−12</text>
<text class="t" x="523.6" y="220.81">−24</text>
<text class="t" x="523.6" y="235.03">−30</text>
<text class="t" x="523.6" y="249.26">−33</text>
<text class="t" x="523.6" y="263.48">−35</text>
<text class="t" x="523.6" y="277.71">−40</text>
<text class="t" x="523.6" y="291.93">−45</text>
</svg></body></html>
